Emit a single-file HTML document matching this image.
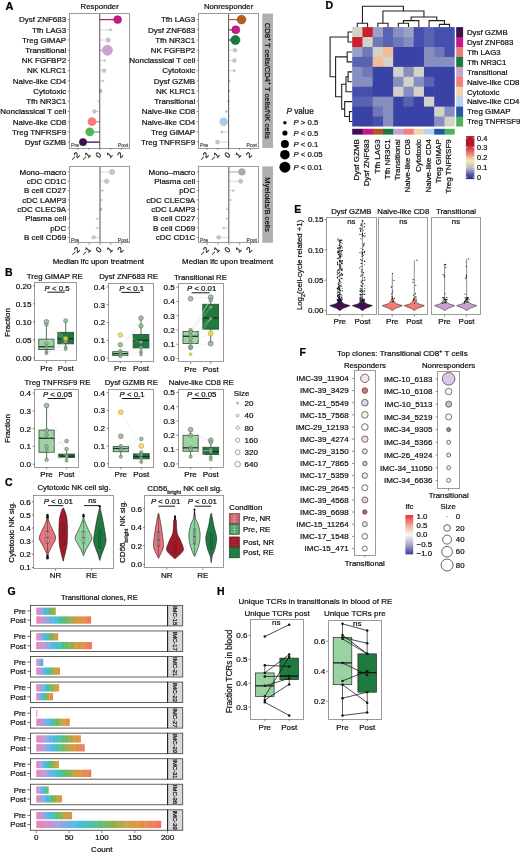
<!DOCTYPE html>
<html><head><meta charset="utf-8"><title>Figure</title>
<style>html,body{margin:0;padding:0;background:#fff;width:520px;height:852px;overflow:hidden}svg{display:block}text{stroke-width:0.22px}</style>
</head><body>
<svg width="520" height="852" viewBox="0 0 520 852" font-family="'Liberation Sans', Arial, Helvetica, sans-serif" fill="#111">
<text x="5.6" y="10.21" font-size="11" fill="#000" stroke="#000" font-weight="bold">A</text>
<rect x="69.5" y="13.5" width="60" height="135" fill="#fff" stroke="#9a9a9a" stroke-width="1"/>
<line x1="99.75" y1="19.6" x2="117.6" y2="19.6" stroke="#c0245e" stroke-width="1.3"/>
<circle cx="117.6" cy="19.6" r="3.9" fill="#cc168c" stroke="#7a0a52" stroke-width="0.5"/>
<line x1="99.75" y1="29.81" x2="110.5" y2="29.81" stroke="#cfcfcf" stroke-width="0.8"/>
<circle cx="110.5" cy="29.81" r="1.5" fill="#c4c4c4"/>
<line x1="99.75" y1="40.02" x2="108.2" y2="40.02" stroke="#cfcfcf" stroke-width="0.8"/>
<circle cx="108.2" cy="40.02" r="2.5" fill="#c4c4c4"/>
<line x1="99.75" y1="50.23" x2="107.4" y2="50.23" stroke="#cba3cf" stroke-width="1.3"/>
<circle cx="107.4" cy="50.23" r="5.4" fill="#cba3cf"/>
<line x1="99.75" y1="60.44" x2="104.7" y2="60.44" stroke="#cfcfcf" stroke-width="0.8"/>
<circle cx="104.7" cy="60.44" r="1.3" fill="#c4c4c4"/>
<line x1="99.75" y1="70.65" x2="104.1" y2="70.65" stroke="#cfcfcf" stroke-width="0.8"/>
<circle cx="104.1" cy="70.65" r="2.2" fill="#c4c4c4"/>
<line x1="99.75" y1="80.86" x2="103.1" y2="80.86" stroke="#cfcfcf" stroke-width="0.8"/>
<circle cx="103.1" cy="80.86" r="1.2" fill="#c4c4c4"/>
<line x1="99.75" y1="91.07" x2="100.6" y2="91.07" stroke="#cfcfcf" stroke-width="0.8"/>
<circle cx="100.6" cy="91.07" r="2" fill="#c4c4c4"/>
<line x1="99.75" y1="101.28" x2="98.2" y2="101.28" stroke="#cfcfcf" stroke-width="0.8"/>
<circle cx="98.2" cy="101.28" r="0.9" fill="#c4c4c4"/>
<line x1="99.75" y1="111.49" x2="94.5" y2="111.49" stroke="#c8cdd2" stroke-width="0.8"/>
<circle cx="94.5" cy="111.49" r="2.3" fill="#bcc4cc"/>
<line x1="99.75" y1="121.7" x2="92" y2="121.7" stroke="#f47f7f" stroke-width="1.3"/>
<circle cx="92" cy="121.7" r="4.4" fill="#f47f7f"/>
<line x1="99.75" y1="131.91" x2="89.8" y2="131.91" stroke="#4fb75c" stroke-width="1.3"/>
<circle cx="89.8" cy="131.91" r="4.4" fill="#4fb75c"/>
<line x1="99.75" y1="142.12" x2="83" y2="142.12" stroke="#3d0f55" stroke-width="1.3"/>
<circle cx="83" cy="142.12" r="3.7" fill="#3d0f55" stroke="#250635" stroke-width="0.5"/>
<line x1="99.75" y1="13.6" x2="99.75" y2="148" stroke="#444" stroke-width="0.9"/>
<rect x="69.5" y="13.5" width="60" height="135" fill="none" stroke="#9a9a9a" stroke-width="1"/>
<line x1="67.6" y1="19.6" x2="69.6" y2="19.6" stroke="#555" stroke-width="0.6"/>
<text x="66.2" y="22.44" font-size="8" text-anchor="end" stroke="#111">Dysf ZNF683</text>
<line x1="67.6" y1="29.81" x2="69.6" y2="29.81" stroke="#555" stroke-width="0.6"/>
<text x="66.2" y="32.65" font-size="8" text-anchor="end" stroke="#111">Tfh LAG3</text>
<line x1="67.6" y1="40.02" x2="69.6" y2="40.02" stroke="#555" stroke-width="0.6"/>
<text x="66.2" y="42.86" font-size="8" text-anchor="end" stroke="#111">Treg GIMAP</text>
<line x1="67.6" y1="50.23" x2="69.6" y2="50.23" stroke="#555" stroke-width="0.6"/>
<text x="66.2" y="53.07" font-size="8" text-anchor="end" stroke="#111">Transitional</text>
<line x1="67.6" y1="60.44" x2="69.6" y2="60.44" stroke="#555" stroke-width="0.6"/>
<text x="66.2" y="63.28" font-size="8" text-anchor="end" stroke="#111">NK FGFBP2</text>
<line x1="67.6" y1="70.65" x2="69.6" y2="70.65" stroke="#555" stroke-width="0.6"/>
<text x="66.2" y="73.49" font-size="8" text-anchor="end" stroke="#111">NK KLRC1</text>
<line x1="67.6" y1="80.86" x2="69.6" y2="80.86" stroke="#555" stroke-width="0.6"/>
<text x="66.2" y="83.7" font-size="8" text-anchor="end" stroke="#111">Naive-like CD4</text>
<line x1="67.6" y1="91.07" x2="69.6" y2="91.07" stroke="#555" stroke-width="0.6"/>
<text x="66.2" y="93.91" font-size="8" text-anchor="end" stroke="#111">Cytotoxic</text>
<line x1="67.6" y1="101.28" x2="69.6" y2="101.28" stroke="#555" stroke-width="0.6"/>
<text x="66.2" y="104.12" font-size="8" text-anchor="end" stroke="#111">Tfh NR3C1</text>
<line x1="67.6" y1="111.49" x2="69.6" y2="111.49" stroke="#555" stroke-width="0.6"/>
<text x="66.2" y="114.33" font-size="8" text-anchor="end" stroke="#111">Nonclassical T cell</text>
<line x1="67.6" y1="121.7" x2="69.6" y2="121.7" stroke="#555" stroke-width="0.6"/>
<text x="66.2" y="124.54" font-size="8" text-anchor="end" stroke="#111">Naive-like CD8</text>
<line x1="67.6" y1="131.91" x2="69.6" y2="131.91" stroke="#555" stroke-width="0.6"/>
<text x="66.2" y="134.75" font-size="8" text-anchor="end" stroke="#111">Treg TNFRSF9</text>
<line x1="67.6" y1="142.12" x2="69.6" y2="142.12" stroke="#555" stroke-width="0.6"/>
<text x="66.2" y="144.96" font-size="8" text-anchor="end" stroke="#111">Dysf GZMB</text>
<text x="71.1" y="146.85" font-size="5.2" fill="#555" stroke="#555">Pre</text>
<text x="128.2" y="146.85" font-size="5.2" text-anchor="end" fill="#555" stroke="#555">Post</text>
<line x1="78.05" y1="148" x2="78.05" y2="150" stroke="#555" stroke-width="0.6"/>
<text x="80.25" y="155.4" font-size="8" text-anchor="end" stroke="#111" transform="rotate(-45 80.25 155.4)">−2</text>
<line x1="88.9" y1="148" x2="88.9" y2="150" stroke="#555" stroke-width="0.6"/>
<text x="91.1" y="155.4" font-size="8" text-anchor="end" stroke="#111" transform="rotate(-45 91.1 155.4)">−1</text>
<line x1="99.75" y1="148" x2="99.75" y2="150" stroke="#555" stroke-width="0.6"/>
<text x="101.95" y="155.4" font-size="8" text-anchor="end" stroke="#111" transform="rotate(-45 101.95 155.4)">0</text>
<line x1="110.6" y1="148" x2="110.6" y2="150" stroke="#555" stroke-width="0.6"/>
<text x="112.8" y="155.4" font-size="8" text-anchor="end" stroke="#111" transform="rotate(-45 112.8 155.4)">1</text>
<line x1="121.45" y1="148" x2="121.45" y2="150" stroke="#555" stroke-width="0.6"/>
<text x="123.65" y="155.4" font-size="8" text-anchor="end" stroke="#111" transform="rotate(-45 123.65 155.4)">2</text>
<rect x="198.5" y="13.5" width="60" height="135" fill="#fff" stroke="#9a9a9a" stroke-width="1"/>
<line x1="228.6" y1="19.6" x2="241.5" y2="19.6" stroke="#b86a50" stroke-width="1.3"/>
<circle cx="241.5" cy="19.6" r="4.4" fill="#b95a1c" stroke="#7a3a10" stroke-width="0.5"/>
<line x1="228.6" y1="29.81" x2="235.8" y2="29.81" stroke="#c0306e" stroke-width="1.3"/>
<circle cx="235.8" cy="29.81" r="4" fill="#cc168c" stroke="#7a0a52" stroke-width="0.5"/>
<line x1="228.6" y1="40.02" x2="235.4" y2="40.02" stroke="#2a7c4c" stroke-width="1.3"/>
<circle cx="235.4" cy="40.02" r="4.55" fill="#167c3c" stroke="#0a4a20" stroke-width="0.5"/>
<line x1="228.6" y1="50.23" x2="235" y2="50.23" stroke="#cfcfcf" stroke-width="0.8"/>
<circle cx="235" cy="50.23" r="2.3" fill="#c4c4c4"/>
<line x1="228.6" y1="60.44" x2="234.4" y2="60.44" stroke="#cfcfcf" stroke-width="0.8"/>
<circle cx="234.4" cy="60.44" r="2.3" fill="#c4c4c4"/>
<line x1="228.6" y1="70.65" x2="234.2" y2="70.65" stroke="#cfcfcf" stroke-width="0.8"/>
<circle cx="234.2" cy="70.65" r="1.5" fill="#c4c4c4"/>
<line x1="228.6" y1="80.86" x2="229.2" y2="80.86" stroke="#cfcfcf" stroke-width="0.8"/>
<circle cx="229.2" cy="80.86" r="1.3" fill="#c4c4c4"/>
<line x1="228.6" y1="91.07" x2="229" y2="91.07" stroke="#cfcfcf" stroke-width="0.8"/>
<circle cx="229" cy="91.07" r="1.3" fill="#c4c4c4"/>
<circle cx="228.6" cy="101.28" r="1.2" fill="#c4c4c4"/>
<line x1="228.6" y1="111.49" x2="226.2" y2="111.49" stroke="#cfcfcf" stroke-width="0.8"/>
<circle cx="226.2" cy="111.49" r="1.3" fill="#c4c4c4"/>
<line x1="228.6" y1="121.7" x2="223.7" y2="121.7" stroke="#abcbea" stroke-width="1.3"/>
<circle cx="223.7" cy="121.7" r="4.2" fill="#abcbea"/>
<line x1="228.6" y1="131.91" x2="221.8" y2="131.91" stroke="#cfcfcf" stroke-width="0.8"/>
<circle cx="221.8" cy="131.91" r="1.4" fill="#c4c4c4"/>
<line x1="228.6" y1="142.12" x2="217.5" y2="142.12" stroke="#cfcfcf" stroke-width="0.8"/>
<circle cx="217.5" cy="142.12" r="2.3" fill="#c4c4c4"/>
<line x1="228.6" y1="13.6" x2="228.6" y2="148" stroke="#444" stroke-width="0.9"/>
<rect x="198.5" y="13.5" width="60" height="135" fill="none" stroke="#9a9a9a" stroke-width="1"/>
<line x1="196.6" y1="19.6" x2="198.6" y2="19.6" stroke="#555" stroke-width="0.6"/>
<text x="195.2" y="22.44" font-size="8" text-anchor="end" stroke="#111">Tfh LAG3</text>
<line x1="196.6" y1="29.81" x2="198.6" y2="29.81" stroke="#555" stroke-width="0.6"/>
<text x="195.2" y="32.65" font-size="8" text-anchor="end" stroke="#111">Dysf ZNF683</text>
<line x1="196.6" y1="40.02" x2="198.6" y2="40.02" stroke="#555" stroke-width="0.6"/>
<text x="195.2" y="42.86" font-size="8" text-anchor="end" stroke="#111">Tfh NR3C1</text>
<line x1="196.6" y1="50.23" x2="198.6" y2="50.23" stroke="#555" stroke-width="0.6"/>
<text x="195.2" y="53.07" font-size="8" text-anchor="end" stroke="#111">NK FGFBP2</text>
<line x1="196.6" y1="60.44" x2="198.6" y2="60.44" stroke="#555" stroke-width="0.6"/>
<text x="195.2" y="63.28" font-size="8" text-anchor="end" stroke="#111">Nonclassical T cell</text>
<line x1="196.6" y1="70.65" x2="198.6" y2="70.65" stroke="#555" stroke-width="0.6"/>
<text x="195.2" y="73.49" font-size="8" text-anchor="end" stroke="#111">Cytotoxic</text>
<line x1="196.6" y1="80.86" x2="198.6" y2="80.86" stroke="#555" stroke-width="0.6"/>
<text x="195.2" y="83.7" font-size="8" text-anchor="end" stroke="#111">Dysf GZMB</text>
<line x1="196.6" y1="91.07" x2="198.6" y2="91.07" stroke="#555" stroke-width="0.6"/>
<text x="195.2" y="93.91" font-size="8" text-anchor="end" stroke="#111">NK KLRC1</text>
<line x1="196.6" y1="101.28" x2="198.6" y2="101.28" stroke="#555" stroke-width="0.6"/>
<text x="195.2" y="104.12" font-size="8" text-anchor="end" stroke="#111">Transitional</text>
<line x1="196.6" y1="111.49" x2="198.6" y2="111.49" stroke="#555" stroke-width="0.6"/>
<text x="195.2" y="114.33" font-size="8" text-anchor="end" stroke="#111">Naive-like CD8</text>
<line x1="196.6" y1="121.7" x2="198.6" y2="121.7" stroke="#555" stroke-width="0.6"/>
<text x="195.2" y="124.54" font-size="8" text-anchor="end" stroke="#111">Naive-like CD4</text>
<line x1="196.6" y1="131.91" x2="198.6" y2="131.91" stroke="#555" stroke-width="0.6"/>
<text x="195.2" y="134.75" font-size="8" text-anchor="end" stroke="#111">Treg GIMAP</text>
<line x1="196.6" y1="142.12" x2="198.6" y2="142.12" stroke="#555" stroke-width="0.6"/>
<text x="195.2" y="144.96" font-size="8" text-anchor="end" stroke="#111">Treg TNFRSF9</text>
<text x="200.1" y="146.85" font-size="5.2" fill="#555" stroke="#555">Pre</text>
<text x="257" y="146.85" font-size="5.2" text-anchor="end" fill="#555" stroke="#555">Post</text>
<line x1="206.9" y1="148" x2="206.9" y2="150" stroke="#555" stroke-width="0.6"/>
<text x="209.1" y="155.4" font-size="8" text-anchor="end" stroke="#111" transform="rotate(-45 209.1 155.4)">−2</text>
<line x1="217.75" y1="148" x2="217.75" y2="150" stroke="#555" stroke-width="0.6"/>
<text x="219.95" y="155.4" font-size="8" text-anchor="end" stroke="#111" transform="rotate(-45 219.95 155.4)">−1</text>
<line x1="228.6" y1="148" x2="228.6" y2="150" stroke="#555" stroke-width="0.6"/>
<text x="230.8" y="155.4" font-size="8" text-anchor="end" stroke="#111" transform="rotate(-45 230.8 155.4)">0</text>
<line x1="239.45" y1="148" x2="239.45" y2="150" stroke="#555" stroke-width="0.6"/>
<text x="241.65" y="155.4" font-size="8" text-anchor="end" stroke="#111" transform="rotate(-45 241.65 155.4)">1</text>
<line x1="250.3" y1="148" x2="250.3" y2="150" stroke="#555" stroke-width="0.6"/>
<text x="252.5" y="155.4" font-size="8" text-anchor="end" stroke="#111" transform="rotate(-45 252.5 155.4)">2</text>
<rect x="69.5" y="166.5" width="60" height="76" fill="#fff" stroke="#9a9a9a" stroke-width="1"/>
<line x1="100" y1="171.9" x2="112.1" y2="171.9" stroke="#cfcfcf" stroke-width="0.8"/>
<circle cx="112.1" cy="171.9" r="2.9" fill="#c4c4c4"/>
<line x1="100" y1="181.25" x2="106.7" y2="181.25" stroke="#cfcfcf" stroke-width="0.8"/>
<circle cx="106.7" cy="181.25" r="2.5" fill="#c4c4c4"/>
<line x1="100" y1="190.6" x2="102.5" y2="190.6" stroke="#cfcfcf" stroke-width="0.8"/>
<circle cx="102.5" cy="190.6" r="1.2" fill="#c4c4c4"/>
<line x1="100" y1="199.95" x2="101.5" y2="199.95" stroke="#cfcfcf" stroke-width="0.8"/>
<circle cx="101.5" cy="199.95" r="1" fill="#c4c4c4"/>
<line x1="100" y1="209.3" x2="101" y2="209.3" stroke="#cfcfcf" stroke-width="0.8"/>
<circle cx="101" cy="209.3" r="1.6" fill="#c4c4c4"/>
<line x1="100" y1="218.65" x2="97.1" y2="218.65" stroke="#cfcfcf" stroke-width="0.8"/>
<circle cx="97.1" cy="218.65" r="1" fill="#c4c4c4"/>
<line x1="100" y1="228" x2="96.7" y2="228" stroke="#cfcfcf" stroke-width="0.8"/>
<circle cx="96.7" cy="228" r="1" fill="#c4c4c4"/>
<line x1="100" y1="237.35" x2="93.8" y2="237.35" stroke="#cfcfcf" stroke-width="0.8"/>
<circle cx="93.8" cy="237.35" r="2.2" fill="#c4c4c4"/>
<line x1="100" y1="166.4" x2="100" y2="242.8" stroke="#444" stroke-width="0.9"/>
<rect x="69.5" y="166.5" width="60" height="76" fill="none" stroke="#9a9a9a" stroke-width="1"/>
<line x1="67.6" y1="171.9" x2="69.6" y2="171.9" stroke="#555" stroke-width="0.6"/>
<text x="66.2" y="174.74" font-size="8" text-anchor="end" stroke="#111">Mono–macro</text>
<line x1="67.6" y1="181.25" x2="69.6" y2="181.25" stroke="#555" stroke-width="0.6"/>
<text x="66.2" y="184.09" font-size="8" text-anchor="end" stroke="#111">cDC CD1C</text>
<line x1="67.6" y1="190.6" x2="69.6" y2="190.6" stroke="#555" stroke-width="0.6"/>
<text x="66.2" y="193.44" font-size="8" text-anchor="end" stroke="#111">B cell CD27</text>
<line x1="67.6" y1="199.95" x2="69.6" y2="199.95" stroke="#555" stroke-width="0.6"/>
<text x="66.2" y="202.79" font-size="8" text-anchor="end" stroke="#111">cDC LAMP3</text>
<line x1="67.6" y1="209.3" x2="69.6" y2="209.3" stroke="#555" stroke-width="0.6"/>
<text x="66.2" y="212.14" font-size="8" text-anchor="end" stroke="#111">cDC CLEC9A</text>
<line x1="67.6" y1="218.65" x2="69.6" y2="218.65" stroke="#555" stroke-width="0.6"/>
<text x="66.2" y="221.49" font-size="8" text-anchor="end" stroke="#111">Plasma cell</text>
<line x1="67.6" y1="228" x2="69.6" y2="228" stroke="#555" stroke-width="0.6"/>
<text x="66.2" y="230.84" font-size="8" text-anchor="end" stroke="#111">pDC</text>
<line x1="67.6" y1="237.35" x2="69.6" y2="237.35" stroke="#555" stroke-width="0.6"/>
<text x="66.2" y="240.19" font-size="8" text-anchor="end" stroke="#111">B cell CD69</text>
<text x="71.1" y="241.65" font-size="5.2" fill="#555" stroke="#555">Pre</text>
<text x="128.2" y="241.65" font-size="5.2" text-anchor="end" fill="#555" stroke="#555">Post</text>
<line x1="78.3" y1="242.8" x2="78.3" y2="244.8" stroke="#555" stroke-width="0.6"/>
<text x="80.5" y="250.2" font-size="8" text-anchor="end" stroke="#111" transform="rotate(-45 80.5 250.2)">−2</text>
<line x1="89.15" y1="242.8" x2="89.15" y2="244.8" stroke="#555" stroke-width="0.6"/>
<text x="91.35" y="250.2" font-size="8" text-anchor="end" stroke="#111" transform="rotate(-45 91.35 250.2)">−1</text>
<line x1="100" y1="242.8" x2="100" y2="244.8" stroke="#555" stroke-width="0.6"/>
<text x="102.2" y="250.2" font-size="8" text-anchor="end" stroke="#111" transform="rotate(-45 102.2 250.2)">0</text>
<line x1="110.85" y1="242.8" x2="110.85" y2="244.8" stroke="#555" stroke-width="0.6"/>
<text x="113.05" y="250.2" font-size="8" text-anchor="end" stroke="#111" transform="rotate(-45 113.05 250.2)">1</text>
<line x1="121.7" y1="242.8" x2="121.7" y2="244.8" stroke="#555" stroke-width="0.6"/>
<text x="123.9" y="250.2" font-size="8" text-anchor="end" stroke="#111" transform="rotate(-45 123.9 250.2)">2</text>
<rect x="198.5" y="166.5" width="60" height="76" fill="#fff" stroke="#9a9a9a" stroke-width="1"/>
<line x1="228.8" y1="171.9" x2="242" y2="171.9" stroke="#bdbdbd" stroke-width="1.3"/>
<circle cx="242" cy="171.9" r="3.6" fill="#a9a9a9"/>
<line x1="228.8" y1="181.25" x2="240.7" y2="181.25" stroke="#cfcfcf" stroke-width="0.8"/>
<circle cx="240.7" cy="181.25" r="2.4" fill="#c4c4c4"/>
<line x1="228.8" y1="190.6" x2="233.2" y2="190.6" stroke="#cfcfcf" stroke-width="0.8"/>
<circle cx="233.2" cy="190.6" r="1.3" fill="#c4c4c4"/>
<line x1="228.8" y1="199.95" x2="230.7" y2="199.95" stroke="#cfcfcf" stroke-width="0.8"/>
<circle cx="230.7" cy="199.95" r="1" fill="#c4c4c4"/>
<line x1="228.8" y1="209.3" x2="226.7" y2="209.3" stroke="#cfcfcf" stroke-width="0.8"/>
<circle cx="226.7" cy="209.3" r="1" fill="#c4c4c4"/>
<line x1="228.8" y1="218.65" x2="226.4" y2="218.65" stroke="#cfcfcf" stroke-width="0.8"/>
<circle cx="226.4" cy="218.65" r="1" fill="#c4c4c4"/>
<line x1="228.8" y1="228" x2="223.8" y2="228" stroke="#cfcfcf" stroke-width="0.8"/>
<circle cx="223.8" cy="228" r="1.3" fill="#c4c4c4"/>
<line x1="228.8" y1="237.35" x2="218.6" y2="237.35" stroke="#cfcfcf" stroke-width="0.8"/>
<circle cx="218.6" cy="237.35" r="2.3" fill="#c4c4c4"/>
<line x1="228.8" y1="166.4" x2="228.8" y2="242.8" stroke="#444" stroke-width="0.9"/>
<rect x="198.5" y="166.5" width="60" height="76" fill="none" stroke="#9a9a9a" stroke-width="1"/>
<line x1="196.6" y1="171.9" x2="198.6" y2="171.9" stroke="#555" stroke-width="0.6"/>
<text x="195.2" y="174.74" font-size="8" text-anchor="end" stroke="#111">Mono–macro</text>
<line x1="196.6" y1="181.25" x2="198.6" y2="181.25" stroke="#555" stroke-width="0.6"/>
<text x="195.2" y="184.09" font-size="8" text-anchor="end" stroke="#111">Plasma cell</text>
<line x1="196.6" y1="190.6" x2="198.6" y2="190.6" stroke="#555" stroke-width="0.6"/>
<text x="195.2" y="193.44" font-size="8" text-anchor="end" stroke="#111">pDC</text>
<line x1="196.6" y1="199.95" x2="198.6" y2="199.95" stroke="#555" stroke-width="0.6"/>
<text x="195.2" y="202.79" font-size="8" text-anchor="end" stroke="#111">cDC CLEC9A</text>
<line x1="196.6" y1="209.3" x2="198.6" y2="209.3" stroke="#555" stroke-width="0.6"/>
<text x="195.2" y="212.14" font-size="8" text-anchor="end" stroke="#111">cDC LAMP3</text>
<line x1="196.6" y1="218.65" x2="198.6" y2="218.65" stroke="#555" stroke-width="0.6"/>
<text x="195.2" y="221.49" font-size="8" text-anchor="end" stroke="#111">B cell CD27</text>
<line x1="196.6" y1="228" x2="198.6" y2="228" stroke="#555" stroke-width="0.6"/>
<text x="195.2" y="230.84" font-size="8" text-anchor="end" stroke="#111">B cell CD69</text>
<line x1="196.6" y1="237.35" x2="198.6" y2="237.35" stroke="#555" stroke-width="0.6"/>
<text x="195.2" y="240.19" font-size="8" text-anchor="end" stroke="#111">cDC CD1C</text>
<text x="200.1" y="241.65" font-size="5.2" fill="#555" stroke="#555">Pre</text>
<text x="257" y="241.65" font-size="5.2" text-anchor="end" fill="#555" stroke="#555">Post</text>
<line x1="207.1" y1="242.8" x2="207.1" y2="244.8" stroke="#555" stroke-width="0.6"/>
<text x="209.3" y="250.2" font-size="8" text-anchor="end" stroke="#111" transform="rotate(-45 209.3 250.2)">−2</text>
<line x1="217.95" y1="242.8" x2="217.95" y2="244.8" stroke="#555" stroke-width="0.6"/>
<text x="220.15" y="250.2" font-size="8" text-anchor="end" stroke="#111" transform="rotate(-45 220.15 250.2)">−1</text>
<line x1="228.8" y1="242.8" x2="228.8" y2="244.8" stroke="#555" stroke-width="0.6"/>
<text x="231" y="250.2" font-size="8" text-anchor="end" stroke="#111" transform="rotate(-45 231 250.2)">0</text>
<line x1="239.65" y1="242.8" x2="239.65" y2="244.8" stroke="#555" stroke-width="0.6"/>
<text x="241.85" y="250.2" font-size="8" text-anchor="end" stroke="#111" transform="rotate(-45 241.85 250.2)">1</text>
<line x1="250.5" y1="242.8" x2="250.5" y2="244.8" stroke="#555" stroke-width="0.6"/>
<text x="252.7" y="250.2" font-size="8" text-anchor="end" stroke="#111" transform="rotate(-45 252.7 250.2)">2</text>
<text x="99.7" y="8.97" font-size="7.8" text-anchor="middle" stroke="#111">Responder</text>
<text x="228.6" y="8.97" font-size="7.8" text-anchor="middle" stroke="#111">Nonresponder</text>
<text x="98.4" y="264.2" font-size="7.9" text-anchor="middle" stroke="#111">Median lfc upon treatment</text>
<text x="227.7" y="264.4" font-size="7.9" text-anchor="middle" stroke="#111">Median lfc upon treatment</text>
<rect x="262.3" y="13.6" width="10.7" height="134.4" fill="#b0b0b0"/>
<text x="267.65" y="83.5" font-size="7.6" text-anchor="middle" stroke="#111" transform="rotate(90 267.65 80.8)">CD8<tspan baseline-shift="super" font-size="5">+</tspan> T cells/CD4<tspan baseline-shift="super" font-size="5">+</tspan> T cells/NK cells</text>
<rect x="262.3" y="166.4" width="10.7" height="76.4" fill="#b0b0b0"/>
<text x="267.65" y="207.3" font-size="7.6" text-anchor="middle" stroke="#111" transform="rotate(90 267.65 204.6)">Myeloids/B cells</text>
<text x="286.4" y="113.91" font-size="8.2" stroke="#111"><tspan font-style="italic">P</tspan> value</text>
<circle cx="284.9" cy="122.7" r="1.7" fill="#000"/>
<text x="293.6" y="125.43" font-size="7.7" stroke="#111"><tspan font-style="italic">P</tspan> &gt; 0.5</text>
<circle cx="284.9" cy="133" r="2.6" fill="#000"/>
<text x="293.6" y="135.73" font-size="7.7" stroke="#111"><tspan font-style="italic">P</tspan> &lt; 0.5</text>
<circle cx="284.9" cy="143.9" r="4" fill="#000"/>
<text x="293.6" y="146.63" font-size="7.7" stroke="#111"><tspan font-style="italic">P</tspan> &lt; 0.1</text>
<circle cx="284.9" cy="154.7" r="4.8" fill="#000"/>
<text x="293.6" y="157.43" font-size="7.7" stroke="#111"><tspan font-style="italic">P</tspan> &lt; 0.05</text>
<circle cx="284.9" cy="167.2" r="5.5" fill="#000"/>
<text x="293.6" y="169.93" font-size="7.7" stroke="#111"><tspan font-style="italic">P</tspan> &lt; 0.01</text>
<text x="325.5" y="9.23" font-size="10.5" fill="#000" stroke="#000" font-weight="bold">D</text>
<rect x="352.2" y="27.1" width="10.85" height="10.54" fill="#d2d2c8"/>
<rect x="362.45" y="27.1" width="10.85" height="10.54" fill="#cd1f2b"/>
<rect x="372.7" y="27.1" width="10.85" height="10.54" fill="#9ba1c6"/>
<rect x="382.95" y="27.1" width="10.85" height="10.54" fill="#5a62b2"/>
<rect x="393.2" y="27.1" width="10.85" height="10.54" fill="#878ec0"/>
<rect x="403.45" y="27.1" width="10.85" height="10.54" fill="#9ba1c6"/>
<rect x="413.7" y="27.1" width="10.85" height="10.54" fill="#464eae"/>
<rect x="423.95" y="27.1" width="10.85" height="10.54" fill="#5a62b2"/>
<rect x="434.2" y="27.1" width="10.85" height="10.54" fill="#464eae"/>
<rect x="444.45" y="27.1" width="10.25" height="10.54" fill="#464eae"/>
<rect x="352.2" y="37.04" width="10.85" height="10.54" fill="#cd1f2b"/>
<rect x="362.45" y="37.04" width="10.85" height="10.54" fill="#d2d2c8"/>
<rect x="372.7" y="37.04" width="10.85" height="10.54" fill="#7178ba"/>
<rect x="382.95" y="37.04" width="10.85" height="10.54" fill="#5a62b2"/>
<rect x="393.2" y="37.04" width="10.85" height="10.54" fill="#7178ba"/>
<rect x="403.45" y="37.04" width="10.85" height="10.54" fill="#878ec0"/>
<rect x="413.7" y="37.04" width="10.85" height="10.54" fill="#464eae"/>
<rect x="423.95" y="37.04" width="10.85" height="10.54" fill="#5a62b2"/>
<rect x="434.2" y="37.04" width="10.85" height="10.54" fill="#464eae"/>
<rect x="444.45" y="37.04" width="10.25" height="10.54" fill="#464eae"/>
<rect x="352.2" y="46.98" width="10.85" height="10.54" fill="#9ba1c6"/>
<rect x="362.45" y="46.98" width="10.85" height="10.54" fill="#7178ba"/>
<rect x="372.7" y="46.98" width="10.85" height="10.54" fill="#d2d2c8"/>
<rect x="382.95" y="46.98" width="10.85" height="10.54" fill="#f2bd95"/>
<rect x="393.2" y="46.98" width="10.85" height="10.54" fill="#3a42a6"/>
<rect x="403.45" y="46.98" width="10.85" height="10.54" fill="#3a42a6"/>
<rect x="413.7" y="46.98" width="10.85" height="10.54" fill="#3a42a6"/>
<rect x="423.95" y="46.98" width="10.85" height="10.54" fill="#878ec0"/>
<rect x="434.2" y="46.98" width="10.85" height="10.54" fill="#7178ba"/>
<rect x="444.45" y="46.98" width="10.25" height="10.54" fill="#464eae"/>
<rect x="352.2" y="56.92" width="10.85" height="10.54" fill="#5a62b2"/>
<rect x="362.45" y="56.92" width="10.85" height="10.54" fill="#5a62b2"/>
<rect x="372.7" y="56.92" width="10.85" height="10.54" fill="#f2bd95"/>
<rect x="382.95" y="56.92" width="10.85" height="10.54" fill="#d2d2c8"/>
<rect x="393.2" y="56.92" width="10.85" height="10.54" fill="#3a42a6"/>
<rect x="403.45" y="56.92" width="10.85" height="10.54" fill="#3a42a6"/>
<rect x="413.7" y="56.92" width="10.85" height="10.54" fill="#3a42a6"/>
<rect x="423.95" y="56.92" width="10.85" height="10.54" fill="#878ec0"/>
<rect x="434.2" y="56.92" width="10.85" height="10.54" fill="#878ec0"/>
<rect x="444.45" y="56.92" width="10.25" height="10.54" fill="#878ec0"/>
<rect x="352.2" y="66.86" width="10.85" height="10.54" fill="#878ec0"/>
<rect x="362.45" y="66.86" width="10.85" height="10.54" fill="#7178ba"/>
<rect x="372.7" y="66.86" width="10.85" height="10.54" fill="#3a42a6"/>
<rect x="382.95" y="66.86" width="10.85" height="10.54" fill="#3a42a6"/>
<rect x="393.2" y="66.86" width="10.85" height="10.54" fill="#d2d2c8"/>
<rect x="403.45" y="66.86" width="10.85" height="10.54" fill="#878ec0"/>
<rect x="413.7" y="66.86" width="10.85" height="10.54" fill="#d2d2c8"/>
<rect x="423.95" y="66.86" width="10.85" height="10.54" fill="#3a42a6"/>
<rect x="434.2" y="66.86" width="10.85" height="10.54" fill="#3a42a6"/>
<rect x="444.45" y="66.86" width="10.25" height="10.54" fill="#3a42a6"/>
<rect x="352.2" y="76.8" width="10.85" height="10.54" fill="#878ec0"/>
<rect x="362.45" y="76.8" width="10.85" height="10.54" fill="#878ec0"/>
<rect x="372.7" y="76.8" width="10.85" height="10.54" fill="#3a42a6"/>
<rect x="382.95" y="76.8" width="10.85" height="10.54" fill="#3a42a6"/>
<rect x="393.2" y="76.8" width="10.85" height="10.54" fill="#878ec0"/>
<rect x="403.45" y="76.8" width="10.85" height="10.54" fill="#d2d2c8"/>
<rect x="413.7" y="76.8" width="10.85" height="10.54" fill="#878ec0"/>
<rect x="423.95" y="76.8" width="10.85" height="10.54" fill="#5a62b2"/>
<rect x="434.2" y="76.8" width="10.85" height="10.54" fill="#3a42a6"/>
<rect x="444.45" y="76.8" width="10.25" height="10.54" fill="#3a42a6"/>
<rect x="352.2" y="86.74" width="10.85" height="10.54" fill="#464eae"/>
<rect x="362.45" y="86.74" width="10.85" height="10.54" fill="#464eae"/>
<rect x="372.7" y="86.74" width="10.85" height="10.54" fill="#3a42a6"/>
<rect x="382.95" y="86.74" width="10.85" height="10.54" fill="#3a42a6"/>
<rect x="393.2" y="86.74" width="10.85" height="10.54" fill="#d2d2c8"/>
<rect x="403.45" y="86.74" width="10.85" height="10.54" fill="#878ec0"/>
<rect x="413.7" y="86.74" width="10.85" height="10.54" fill="#d2d2c8"/>
<rect x="423.95" y="86.74" width="10.85" height="10.54" fill="#3a42a6"/>
<rect x="434.2" y="86.74" width="10.85" height="10.54" fill="#3a42a6"/>
<rect x="444.45" y="86.74" width="10.25" height="10.54" fill="#3a42a6"/>
<rect x="352.2" y="96.68" width="10.85" height="10.54" fill="#5a62b2"/>
<rect x="362.45" y="96.68" width="10.85" height="10.54" fill="#5a62b2"/>
<rect x="372.7" y="96.68" width="10.85" height="10.54" fill="#878ec0"/>
<rect x="382.95" y="96.68" width="10.85" height="10.54" fill="#878ec0"/>
<rect x="393.2" y="96.68" width="10.85" height="10.54" fill="#3a42a6"/>
<rect x="403.45" y="96.68" width="10.85" height="10.54" fill="#5a62b2"/>
<rect x="413.7" y="96.68" width="10.85" height="10.54" fill="#3a42a6"/>
<rect x="423.95" y="96.68" width="10.85" height="10.54" fill="#d2d2c8"/>
<rect x="434.2" y="96.68" width="10.85" height="10.54" fill="#3a42a6"/>
<rect x="444.45" y="96.68" width="10.25" height="10.54" fill="#3a42a6"/>
<rect x="352.2" y="106.62" width="10.85" height="10.54" fill="#3a42a6"/>
<rect x="362.45" y="106.62" width="10.85" height="10.54" fill="#3a42a6"/>
<rect x="372.7" y="106.62" width="10.85" height="10.54" fill="#7178ba"/>
<rect x="382.95" y="106.62" width="10.85" height="10.54" fill="#878ec0"/>
<rect x="393.2" y="106.62" width="10.85" height="10.54" fill="#3a42a6"/>
<rect x="403.45" y="106.62" width="10.85" height="10.54" fill="#3a42a6"/>
<rect x="413.7" y="106.62" width="10.85" height="10.54" fill="#3a42a6"/>
<rect x="423.95" y="106.62" width="10.85" height="10.54" fill="#3a42a6"/>
<rect x="434.2" y="106.62" width="10.85" height="10.54" fill="#d2d2c8"/>
<rect x="444.45" y="106.62" width="10.25" height="10.54" fill="#878ec0"/>
<rect x="352.2" y="116.56" width="10.85" height="9.94" fill="#3a42a6"/>
<rect x="362.45" y="116.56" width="10.85" height="9.94" fill="#3a42a6"/>
<rect x="372.7" y="116.56" width="10.85" height="9.94" fill="#464eae"/>
<rect x="382.95" y="116.56" width="10.85" height="9.94" fill="#878ec0"/>
<rect x="393.2" y="116.56" width="10.85" height="9.94" fill="#3a42a6"/>
<rect x="403.45" y="116.56" width="10.85" height="9.94" fill="#3a42a6"/>
<rect x="413.7" y="116.56" width="10.85" height="9.94" fill="#3a42a6"/>
<rect x="423.95" y="116.56" width="10.85" height="9.94" fill="#3a42a6"/>
<rect x="434.2" y="116.56" width="10.85" height="9.94" fill="#878ec0"/>
<rect x="444.45" y="116.56" width="10.25" height="9.94" fill="#d2d2c8"/>
<rect x="456.2" y="27.1" width="6.9" height="10.54" fill="#3f1150"/>
<text x="466.9" y="34.87" font-size="7.9" stroke="#111">Dysf GZMB</text>
<rect x="352.2" y="128.8" width="10.85" height="5.8" fill="#3f1150"/>
<text x="356.32" y="142.04" font-size="8" text-anchor="end" stroke="#111" transform="rotate(-90 356.32 139.2)">Dysf GZMB</text>
<rect x="456.2" y="37.04" width="6.9" height="10.54" fill="#c8178a"/>
<text x="466.9" y="44.81" font-size="7.9" stroke="#111">Dysf ZNF683</text>
<rect x="362.45" y="128.8" width="10.85" height="5.8" fill="#c8178a"/>
<text x="366.57" y="142.04" font-size="8" text-anchor="end" stroke="#111" transform="rotate(-90 366.57 139.2)">Dysf ZNF683</text>
<rect x="456.2" y="46.98" width="6.9" height="10.54" fill="#e58079"/>
<text x="466.9" y="54.75" font-size="7.9" stroke="#111">Tfh LAG3</text>
<rect x="372.7" y="128.8" width="10.85" height="5.8" fill="#b5561f"/>
<text x="376.82" y="142.04" font-size="8" text-anchor="end" stroke="#111" transform="rotate(-90 376.82 139.2)">Tfh LAG3</text>
<rect x="456.2" y="56.92" width="6.9" height="10.54" fill="#187a3e"/>
<text x="466.9" y="64.69" font-size="7.9" stroke="#111">Tfh NR3C1</text>
<rect x="382.95" y="128.8" width="10.85" height="5.8" fill="#187a3e"/>
<text x="387.07" y="142.04" font-size="8" text-anchor="end" stroke="#111" transform="rotate(-90 387.07 139.2)">Tfh NR3C1</text>
<rect x="456.2" y="66.86" width="6.9" height="10.54" fill="#c9a3cf"/>
<text x="466.9" y="74.63" font-size="7.9" stroke="#111">Transitional</text>
<rect x="393.2" y="128.8" width="10.85" height="5.8" fill="#c9a3cf"/>
<text x="397.32" y="142.04" font-size="8" text-anchor="end" stroke="#111" transform="rotate(-90 397.32 139.2)">Transitional</text>
<rect x="456.2" y="76.8" width="6.9" height="10.54" fill="#f47e7b"/>
<text x="466.9" y="84.57" font-size="7.9" stroke="#111">Naive-like CD8</text>
<rect x="403.45" y="128.8" width="10.85" height="5.8" fill="#f47e7b"/>
<text x="407.57" y="142.04" font-size="8" text-anchor="end" stroke="#111" transform="rotate(-90 407.57 139.2)">Naive-like CD8</text>
<rect x="456.2" y="86.74" width="6.9" height="10.54" fill="#f1d2a9"/>
<text x="466.9" y="94.51" font-size="7.9" stroke="#111">Cytotoxic</text>
<rect x="413.7" y="128.8" width="10.85" height="5.8" fill="#f1d2a9"/>
<text x="417.82" y="142.04" font-size="8" text-anchor="end" stroke="#111" transform="rotate(-90 417.82 139.2)">Cytotoxic</text>
<rect x="456.2" y="96.68" width="6.9" height="10.54" fill="#b8d3ef"/>
<text x="466.9" y="104.45" font-size="7.9" stroke="#111">Naive-like CD4</text>
<rect x="423.95" y="128.8" width="10.85" height="5.8" fill="#b8d3ef"/>
<text x="428.07" y="142.04" font-size="8" text-anchor="end" stroke="#111" transform="rotate(-90 428.07 139.2)">Naive-like CD4</text>
<rect x="456.2" y="106.62" width="6.9" height="10.54" fill="#2356a8"/>
<text x="466.9" y="114.39" font-size="7.9" stroke="#111">Treg GIMAP</text>
<rect x="434.2" y="128.8" width="10.85" height="5.8" fill="#2356a8"/>
<text x="438.32" y="142.04" font-size="8" text-anchor="end" stroke="#111" transform="rotate(-90 438.32 139.2)">Treg GIMAP</text>
<rect x="456.2" y="116.56" width="6.9" height="9.94" fill="#4cb35c"/>
<text x="466.9" y="124.33" font-size="7.9" stroke="#111">Treg TNFRSF9</text>
<rect x="444.45" y="128.8" width="10.25" height="5.8" fill="#4cb35c"/>
<text x="448.57" y="142.04" font-size="8" text-anchor="end" stroke="#111" transform="rotate(-90 448.57 139.2)">Treg TNFRSF9</text>
<path d="M357.32 27.1 L357.32 23.3 L367.57 23.3 L367.57 27.1" fill="none" stroke="#222" stroke-width="1.1"/>
<path d="M377.82 27.1 L377.82 23.3 L388.07 23.3 L388.07 27.1" fill="none" stroke="#222" stroke-width="1.1"/>
<path d="M398.32 27.1 L398.32 23.3 L408.57 23.3 L408.57 27.1" fill="none" stroke="#222" stroke-width="1.1"/>
<path d="M439.32 27.1 L439.32 24.4 L449.57 24.4 L449.57 27.1" fill="none" stroke="#222" stroke-width="1.1"/>
<path d="M403.45 23.3 L403.45 20.6 L418.82 20.6 L418.82 27.1" fill="none" stroke="#222" stroke-width="1.1"/>
<path d="M429.07 27.1 L429.07 20.6 L444.45 20.6 L444.45 24.4" fill="none" stroke="#222" stroke-width="1.1"/>
<path d="M411.14 20.6 L411.14 17 L436.76 17 L436.76 20.6" fill="none" stroke="#222" stroke-width="1.1"/>
<path d="M382.95 23.3 L382.95 11 L423.95 11 L423.95 17" fill="none" stroke="#222" stroke-width="1.1"/>
<path d="M362.45 23.3 L362.45 6.2 L403.45 6.2 L403.45 11" fill="none" stroke="#222" stroke-width="1.1"/>
<path d="M352.2 32.07 L348.1 32.07 L348.1 42.01 L352.2 42.01" fill="none" stroke="#222" stroke-width="1.1"/>
<path d="M352.2 51.95 L347.2 51.95 L347.2 61.89 L352.2 61.89" fill="none" stroke="#222" stroke-width="1.1"/>
<path d="M352.2 71.83 L348.1 71.83 L348.1 81.77 L352.2 81.77" fill="none" stroke="#222" stroke-width="1.1"/>
<path d="M352.2 111.59 L349.5 111.59 L349.5 121.53 L352.2 121.53" fill="none" stroke="#222" stroke-width="1.1"/>
<path d="M348.1 76.8 L346 76.8 L346 91.71 L352.2 91.71" fill="none" stroke="#222" stroke-width="1.1"/>
<path d="M352.2 101.65 L344.7 101.65 L344.7 116.56 L349.5 116.56" fill="none" stroke="#222" stroke-width="1.1"/>
<path d="M346 84.25 L341.7 84.25 L341.7 109.11 L344.7 109.11" fill="none" stroke="#222" stroke-width="1.1"/>
<path d="M347.2 56.92 L335.6 56.92 L335.6 96.68 L341.7 96.68" fill="none" stroke="#222" stroke-width="1.1"/>
<path d="M348.1 37.04 L330.1 37.04 L330.1 76.8 L335.6 76.8" fill="none" stroke="#222" stroke-width="1.1"/>
<defs><linearGradient id="hmg" x1="0" y1="0" x2="0" y2="1"><stop offset="0" stop-color="#b0142c"/><stop offset="0.2" stop-color="#b8182e"/><stop offset="0.4" stop-color="#e8806a"/><stop offset="0.58" stop-color="#f2eeb8"/><stop offset="0.78" stop-color="#a4a8bc"/><stop offset="0.88" stop-color="#5a62b0"/><stop offset="1" stop-color="#1e228a"/></linearGradient></defs>
<rect x="465.9" y="136.1" width="8.5" height="43" fill="url(#hmg)"/>
<line x1="465.9" y1="137.9" x2="467.6" y2="137.9" stroke="#fff" stroke-width="0.7"/>
<line x1="472.7" y1="137.9" x2="474.4" y2="137.9" stroke="#fff" stroke-width="0.7"/>
<text x="477.1" y="140.53" font-size="7.4" stroke="#111">0.4</text>
<line x1="465.9" y1="147.6" x2="467.6" y2="147.6" stroke="#fff" stroke-width="0.7"/>
<line x1="472.7" y1="147.6" x2="474.4" y2="147.6" stroke="#fff" stroke-width="0.7"/>
<text x="477.1" y="150.23" font-size="7.4" stroke="#111">0.3</text>
<line x1="465.9" y1="157.4" x2="467.6" y2="157.4" stroke="#fff" stroke-width="0.7"/>
<line x1="472.7" y1="157.4" x2="474.4" y2="157.4" stroke="#fff" stroke-width="0.7"/>
<text x="477.1" y="160.03" font-size="7.4" stroke="#111">0.2</text>
<line x1="465.9" y1="167.3" x2="467.6" y2="167.3" stroke="#fff" stroke-width="0.7"/>
<line x1="472.7" y1="167.3" x2="474.4" y2="167.3" stroke="#fff" stroke-width="0.7"/>
<text x="477.1" y="169.93" font-size="7.4" stroke="#111">0.1</text>
<line x1="465.9" y1="177.2" x2="467.6" y2="177.2" stroke="#fff" stroke-width="0.7"/>
<line x1="472.7" y1="177.2" x2="474.4" y2="177.2" stroke="#fff" stroke-width="0.7"/>
<text x="477.1" y="179.83" font-size="7.4" stroke="#111">0</text>
<text x="5" y="275.93" font-size="10.5" fill="#000" stroke="#000" font-weight="bold">B</text>
<rect x="34.5" y="282.5" width="42" height="78" fill="#fff" stroke="#9a9a9a" stroke-width="1"/>
<line x1="33" y1="357.9" x2="35" y2="357.9" stroke="#444" stroke-width="0.6"/>
<text x="31.4" y="360.78" font-size="8.1" text-anchor="end" stroke="#111">0.00</text>
<line x1="33" y1="339.88" x2="35" y2="339.88" stroke="#444" stroke-width="0.6"/>
<text x="31.4" y="342.75" font-size="8.1" text-anchor="end" stroke="#111">0.05</text>
<line x1="33" y1="321.85" x2="35" y2="321.85" stroke="#444" stroke-width="0.6"/>
<text x="31.4" y="324.73" font-size="8.1" text-anchor="end" stroke="#111">0.10</text>
<line x1="33" y1="303.82" x2="35" y2="303.82" stroke="#444" stroke-width="0.6"/>
<text x="31.4" y="306.7" font-size="8.1" text-anchor="end" stroke="#111">0.15</text>
<line x1="33" y1="285.8" x2="35" y2="285.8" stroke="#444" stroke-width="0.6"/>
<text x="31.4" y="288.68" font-size="8.1" text-anchor="end" stroke="#111">0.20</text>
<text x="54.8" y="279.17" font-size="7.8" text-anchor="middle" stroke="#111">Treg GIMAP RE</text>
<text x="57.05" y="290.57" font-size="7.8" text-anchor="middle" stroke="#111"><tspan font-style="italic">P</tspan> &lt; 0.5</text>
<line x1="47.4" y1="292.2" x2="64.7" y2="292.2" stroke="#000" stroke-width="0.9"/>
<line x1="46.4" y1="321.85" x2="46.4" y2="339.15" stroke="#2b4a32" stroke-width="0.8"/>
<line x1="46.4" y1="349.61" x2="46.4" y2="353.57" stroke="#2b4a32" stroke-width="0.8"/>
<rect x="38.8" y="339.15" width="15.2" height="10.45" fill="#9dd3a3" stroke="#2b4a32" stroke-width="0.8"/>
<line x1="38.8" y1="346.72" x2="54" y2="346.72" stroke="#163020" stroke-width="1.3"/>
<line x1="65.7" y1="320.77" x2="65.7" y2="332.3" stroke="#2b4a32" stroke-width="0.8"/>
<line x1="65.7" y1="343.84" x2="65.7" y2="349.61" stroke="#2b4a32" stroke-width="0.8"/>
<rect x="57.8" y="332.3" width="15.8" height="11.54" fill="#1e7a3d" stroke="#2b4a32" stroke-width="0.8"/>
<line x1="57.8" y1="338.79" x2="73.6" y2="338.79" stroke="#163020" stroke-width="1.3"/>
<line x1="46.4" y1="321.85" x2="65.7" y2="338.79" stroke="#dedede" stroke-width="0.5" stroke-opacity="0.85"/>
<line x1="46.4" y1="324.73" x2="65.7" y2="341.68" stroke="#dedede" stroke-width="0.5" stroke-opacity="0.85"/>
<line x1="46.4" y1="343.48" x2="65.7" y2="320.77" stroke="#dedede" stroke-width="0.5" stroke-opacity="0.85"/>
<line x1="46.4" y1="347.08" x2="65.7" y2="347.08" stroke="#dedede" stroke-width="0.5" stroke-opacity="0.85"/>
<line x1="46.4" y1="351.77" x2="65.7" y2="349.25" stroke="#dedede" stroke-width="0.5" stroke-opacity="0.85"/>
<line x1="46.4" y1="353.57" x2="65.7" y2="341.68" stroke="#dedede" stroke-width="0.5" stroke-opacity="0.85"/>
<circle cx="46.4" cy="321.85" r="2.4" fill="#9ab79c" stroke="#5b735d" stroke-width="0.6" fill-opacity="0.85"/>
<circle cx="46.4" cy="324.73" r="1.6" fill="#9ab79c" stroke="#5b735d" stroke-width="0.6" fill-opacity="0.85"/>
<circle cx="46.4" cy="343.48" r="1.8" fill="#9ab79c" stroke="#5b735d" stroke-width="0.6" fill-opacity="0.85"/>
<circle cx="46.4" cy="347.08" r="1.5" fill="#9ab79c" stroke="#5b735d" stroke-width="0.6" fill-opacity="0.85"/>
<circle cx="46.4" cy="351.77" r="1.5" fill="#9ab79c" stroke="#5b735d" stroke-width="0.6" fill-opacity="0.85"/>
<circle cx="46.4" cy="353.57" r="1.3" fill="#9ab79c" stroke="#5b735d" stroke-width="0.6" fill-opacity="0.85"/>
<circle cx="65.7" cy="320.77" r="2.1" fill="#9ab79c" stroke="#5b735d" stroke-width="0.6" fill-opacity="0.85"/>
<circle cx="65.7" cy="338.79" r="2.3" fill="#f0dc55" stroke="#b59a2a" stroke-width="0.6" fill-opacity="0.85"/>
<circle cx="65.7" cy="341.68" r="1.6" fill="#9ab79c" stroke="#5b735d" stroke-width="0.6" fill-opacity="0.85"/>
<circle cx="65.7" cy="347.08" r="1.4" fill="#9ab79c" stroke="#5b735d" stroke-width="0.6" fill-opacity="0.85"/>
<circle cx="65.7" cy="349.25" r="1.4" fill="#9ab79c" stroke="#5b735d" stroke-width="0.6" fill-opacity="0.85"/>
<line x1="46.4" y1="361" x2="46.4" y2="363" stroke="#444" stroke-width="0.6"/>
<line x1="65.7" y1="361" x2="65.7" y2="363" stroke="#444" stroke-width="0.6"/>
<text x="46.4" y="371.04" font-size="8" text-anchor="middle" stroke="#111">Pre</text>
<text x="65.7" y="371.04" font-size="8" text-anchor="middle" stroke="#111">Post</text>
<rect x="108.5" y="283.5" width="45" height="78" fill="#fff" stroke="#9a9a9a" stroke-width="1"/>
<line x1="106.5" y1="358.1" x2="108.5" y2="358.1" stroke="#444" stroke-width="0.6"/>
<text x="104.9" y="360.98" font-size="8.1" text-anchor="end" stroke="#111">0.0</text>
<line x1="106.5" y1="340.3" x2="108.5" y2="340.3" stroke="#444" stroke-width="0.6"/>
<text x="104.9" y="343.18" font-size="8.1" text-anchor="end" stroke="#111">0.1</text>
<line x1="106.5" y1="322.5" x2="108.5" y2="322.5" stroke="#444" stroke-width="0.6"/>
<text x="104.9" y="325.38" font-size="8.1" text-anchor="end" stroke="#111">0.2</text>
<line x1="106.5" y1="304.7" x2="108.5" y2="304.7" stroke="#444" stroke-width="0.6"/>
<text x="104.9" y="307.58" font-size="8.1" text-anchor="end" stroke="#111">0.3</text>
<line x1="106.5" y1="286.9" x2="108.5" y2="286.9" stroke="#444" stroke-width="0.6"/>
<text x="104.9" y="289.78" font-size="8.1" text-anchor="end" stroke="#111">0.4</text>
<text x="128.6" y="279.37" font-size="7.8" text-anchor="middle" stroke="#111">Dysf ZNF683 RE</text>
<text x="131.65" y="290.77" font-size="7.8" text-anchor="middle" stroke="#111"><tspan font-style="italic">P</tspan> &lt; 0.1</text>
<line x1="121.3" y1="292.4" x2="140" y2="292.4" stroke="#000" stroke-width="0.9"/>
<line x1="120.3" y1="349.2" x2="120.3" y2="351.69" stroke="#2b4a32" stroke-width="0.8"/>
<line x1="120.3" y1="355.61" x2="120.3" y2="357.21" stroke="#2b4a32" stroke-width="0.8"/>
<rect x="112.7" y="351.69" width="15.2" height="3.92" fill="#9dd3a3" stroke="#2b4a32" stroke-width="0.8"/>
<line x1="112.7" y1="353.65" x2="127.9" y2="353.65" stroke="#163020" stroke-width="1.3"/>
<line x1="141" y1="317.16" x2="141" y2="334.43" stroke="#2b4a32" stroke-width="0.8"/>
<line x1="141" y1="347.95" x2="141" y2="354.54" stroke="#2b4a32" stroke-width="0.8"/>
<rect x="133.1" y="334.43" width="15.8" height="13.53" fill="#1e7a3d" stroke="#2b4a32" stroke-width="0.8"/>
<line x1="133.1" y1="340.3" x2="148.9" y2="340.3" stroke="#163020" stroke-width="1.3"/>
<line x1="120.3" y1="334.96" x2="141" y2="342.08" stroke="#dedede" stroke-width="0.5" stroke-opacity="0.85"/>
<line x1="120.3" y1="344.75" x2="141" y2="326.06" stroke="#dedede" stroke-width="0.5" stroke-opacity="0.85"/>
<line x1="120.3" y1="350.98" x2="141" y2="318.05" stroke="#dedede" stroke-width="0.5" stroke-opacity="0.85"/>
<line x1="120.3" y1="353.65" x2="141" y2="347.42" stroke="#dedede" stroke-width="0.5" stroke-opacity="0.85"/>
<line x1="120.3" y1="356.32" x2="141" y2="351.87" stroke="#dedede" stroke-width="0.5" stroke-opacity="0.85"/>
<circle cx="120.3" cy="334.96" r="2.2" fill="#f0dc55" stroke="#b59a2a" stroke-width="0.6" fill-opacity="0.85"/>
<circle cx="120.3" cy="344.75" r="2.2" fill="#9ab79c" stroke="#5b735d" stroke-width="0.6" fill-opacity="0.85"/>
<circle cx="120.3" cy="350.98" r="1.6" fill="#9ab79c" stroke="#5b735d" stroke-width="0.6" fill-opacity="0.85"/>
<circle cx="120.3" cy="353.65" r="1.5" fill="#9ab79c" stroke="#5b735d" stroke-width="0.6" fill-opacity="0.85"/>
<circle cx="120.3" cy="356.32" r="1.5" fill="#9ab79c" stroke="#5b735d" stroke-width="0.6" fill-opacity="0.85"/>
<circle cx="141" cy="318.05" r="2.3" fill="#9ab79c" stroke="#5b735d" stroke-width="0.6" fill-opacity="0.85"/>
<circle cx="141" cy="326.06" r="2.2" fill="#9ab79c" stroke="#5b735d" stroke-width="0.6" fill-opacity="0.85"/>
<circle cx="141" cy="342.08" r="1.6" fill="#9ab79c" stroke="#5b735d" stroke-width="0.6" fill-opacity="0.85"/>
<circle cx="141" cy="347.42" r="1.6" fill="#9ab79c" stroke="#5b735d" stroke-width="0.6" fill-opacity="0.85"/>
<circle cx="141" cy="351.87" r="1.5" fill="#9ab79c" stroke="#5b735d" stroke-width="0.6" fill-opacity="0.85"/>
<circle cx="141" cy="354.54" r="1.4" fill="#9ab79c" stroke="#5b735d" stroke-width="0.6" fill-opacity="0.85"/>
<line x1="120.3" y1="361.3" x2="120.3" y2="363.3" stroke="#444" stroke-width="0.6"/>
<line x1="141" y1="361.3" x2="141" y2="363.3" stroke="#444" stroke-width="0.6"/>
<text x="120.3" y="371.34" font-size="8" text-anchor="middle" stroke="#111">Pre</text>
<text x="141" y="371.34" font-size="8" text-anchor="middle" stroke="#111">Post</text>
<rect x="178.5" y="283.5" width="45" height="78" fill="#fff" stroke="#9a9a9a" stroke-width="1"/>
<line x1="176.3" y1="358.5" x2="178.3" y2="358.5" stroke="#444" stroke-width="0.6"/>
<text x="174.7" y="361.38" font-size="8.1" text-anchor="end" stroke="#111">0.0</text>
<line x1="176.3" y1="344.26" x2="178.3" y2="344.26" stroke="#444" stroke-width="0.6"/>
<text x="174.7" y="347.14" font-size="8.1" text-anchor="end" stroke="#111">0.1</text>
<line x1="176.3" y1="330.02" x2="178.3" y2="330.02" stroke="#444" stroke-width="0.6"/>
<text x="174.7" y="332.9" font-size="8.1" text-anchor="end" stroke="#111">0.2</text>
<line x1="176.3" y1="315.78" x2="178.3" y2="315.78" stroke="#444" stroke-width="0.6"/>
<text x="174.7" y="318.66" font-size="8.1" text-anchor="end" stroke="#111">0.3</text>
<line x1="176.3" y1="301.54" x2="178.3" y2="301.54" stroke="#444" stroke-width="0.6"/>
<text x="174.7" y="304.42" font-size="8.1" text-anchor="end" stroke="#111">0.4</text>
<line x1="176.3" y1="287.3" x2="178.3" y2="287.3" stroke="#444" stroke-width="0.6"/>
<text x="174.7" y="290.18" font-size="8.1" text-anchor="end" stroke="#111">0.5</text>
<text x="200.4" y="279.77" font-size="7.8" text-anchor="middle" stroke="#111">Transitional RE</text>
<text x="201.65" y="291.17" font-size="7.8" text-anchor="middle" stroke="#111"><tspan font-style="italic">P</tspan> &lt; 0.01</text>
<line x1="191.6" y1="292.8" x2="209.7" y2="292.8" stroke="#000" stroke-width="0.9"/>
<line x1="190.6" y1="330.02" x2="190.6" y2="331.44" stroke="#2b4a32" stroke-width="0.8"/>
<line x1="190.6" y1="343.55" x2="190.6" y2="348.53" stroke="#2b4a32" stroke-width="0.8"/>
<rect x="183" y="331.44" width="15.2" height="12.1" fill="#9dd3a3" stroke="#2b4a32" stroke-width="0.8"/>
<line x1="183" y1="336.29" x2="198.2" y2="336.29" stroke="#163020" stroke-width="1.3"/>
<line x1="210.7" y1="296.98" x2="210.7" y2="304.25" stroke="#2b4a32" stroke-width="0.8"/>
<line x1="210.7" y1="329.17" x2="210.7" y2="343.55" stroke="#2b4a32" stroke-width="0.8"/>
<rect x="202.8" y="304.25" width="15.8" height="24.92" fill="#1e7a3d" stroke="#2b4a32" stroke-width="0.8"/>
<line x1="202.8" y1="317.92" x2="218.6" y2="317.92" stroke="#163020" stroke-width="1.3"/>
<line x1="190.6" y1="298.69" x2="210.7" y2="297.27" stroke="#dedede" stroke-width="0.5" stroke-opacity="0.85"/>
<line x1="190.6" y1="330.02" x2="210.7" y2="300.12" stroke="#dedede" stroke-width="0.5" stroke-opacity="0.85"/>
<line x1="190.6" y1="332.16" x2="210.7" y2="307.24" stroke="#dedede" stroke-width="0.5" stroke-opacity="0.85"/>
<line x1="190.6" y1="335.72" x2="210.7" y2="318.63" stroke="#dedede" stroke-width="0.5" stroke-opacity="0.85"/>
<line x1="190.6" y1="338.56" x2="210.7" y2="297.27" stroke="#dedede" stroke-width="0.5" stroke-opacity="0.85"/>
<line x1="190.6" y1="342.12" x2="210.7" y2="333.58" stroke="#dedede" stroke-width="0.5" stroke-opacity="0.85"/>
<line x1="190.6" y1="347.11" x2="210.7" y2="343.55" stroke="#dedede" stroke-width="0.5" stroke-opacity="0.85"/>
<line x1="190.6" y1="348.25" x2="210.7" y2="318.63" stroke="#dedede" stroke-width="0.5" stroke-opacity="0.85"/>
<circle cx="190.6" cy="298.69" r="2.4" fill="#9ab79c" stroke="#5b735d" stroke-width="0.6" fill-opacity="0.85"/>
<circle cx="190.6" cy="330.02" r="1.8" fill="#9ab79c" stroke="#5b735d" stroke-width="0.6" fill-opacity="0.85"/>
<circle cx="190.6" cy="332.16" r="1.8" fill="#9ab79c" stroke="#5b735d" stroke-width="0.6" fill-opacity="0.85"/>
<circle cx="190.6" cy="335.72" r="1.8" fill="#9ab79c" stroke="#5b735d" stroke-width="0.6" fill-opacity="0.85"/>
<circle cx="190.6" cy="338.56" r="1.8" fill="#9ab79c" stroke="#5b735d" stroke-width="0.6" fill-opacity="0.85"/>
<circle cx="190.6" cy="342.12" r="1.6" fill="#9ab79c" stroke="#5b735d" stroke-width="0.6" fill-opacity="0.85"/>
<circle cx="190.6" cy="347.11" r="2.2" fill="#9ab79c" stroke="#5b735d" stroke-width="0.6" fill-opacity="0.85"/>
<circle cx="190.6" cy="348.25" r="1.6" fill="#9ab79c" stroke="#5b735d" stroke-width="0.6" fill-opacity="0.85"/>
<circle cx="190.6" cy="354.23" r="1.4" fill="#f0dc55" stroke="#b59a2a" stroke-width="0.6" fill-opacity="0.85"/>
<circle cx="210.7" cy="297.27" r="2.5" fill="#9ab79c" stroke="#5b735d" stroke-width="0.6" fill-opacity="0.85"/>
<circle cx="210.7" cy="300.12" r="1.8" fill="#9ab79c" stroke="#5b735d" stroke-width="0.6" fill-opacity="0.85"/>
<circle cx="210.7" cy="307.24" r="1.6" fill="#9ab79c" stroke="#5b735d" stroke-width="0.6" fill-opacity="0.85"/>
<circle cx="210.7" cy="318.63" r="1.6" fill="#9ab79c" stroke="#5b735d" stroke-width="0.6" fill-opacity="0.85"/>
<circle cx="210.7" cy="333.58" r="2.5" fill="#f0dc55" stroke="#b59a2a" stroke-width="0.6" fill-opacity="0.85"/>
<circle cx="210.7" cy="343.55" r="2.5" fill="#9ab79c" stroke="#5b735d" stroke-width="0.6" fill-opacity="0.85"/>
<line x1="190.6" y1="361.9" x2="190.6" y2="363.9" stroke="#444" stroke-width="0.6"/>
<line x1="210.7" y1="361.9" x2="210.7" y2="363.9" stroke="#444" stroke-width="0.6"/>
<text x="190.6" y="371.94" font-size="8" text-anchor="middle" stroke="#111">Pre</text>
<text x="210.7" y="371.94" font-size="8" text-anchor="middle" stroke="#111">Post</text>
<rect x="34.5" y="389.5" width="44" height="78" fill="#fff" stroke="#9a9a9a" stroke-width="1"/>
<line x1="32.6" y1="464.2" x2="34.6" y2="464.2" stroke="#444" stroke-width="0.6"/>
<text x="31" y="467.08" font-size="8.1" text-anchor="end" stroke="#111">0.0</text>
<line x1="32.6" y1="446.43" x2="34.6" y2="446.43" stroke="#444" stroke-width="0.6"/>
<text x="31" y="449.3" font-size="8.1" text-anchor="end" stroke="#111">0.1</text>
<line x1="32.6" y1="428.65" x2="34.6" y2="428.65" stroke="#444" stroke-width="0.6"/>
<text x="31" y="431.53" font-size="8.1" text-anchor="end" stroke="#111">0.2</text>
<line x1="32.6" y1="410.88" x2="34.6" y2="410.88" stroke="#444" stroke-width="0.6"/>
<text x="31" y="413.75" font-size="8.1" text-anchor="end" stroke="#111">0.3</text>
<line x1="32.6" y1="393.1" x2="34.6" y2="393.1" stroke="#444" stroke-width="0.6"/>
<text x="31" y="395.98" font-size="8.1" text-anchor="end" stroke="#111">0.4</text>
<text x="57.5" y="385.47" font-size="7.8" text-anchor="middle" stroke="#111">Treg TNFRSF9 RE</text>
<text x="57.6" y="396.87" font-size="7.8" text-anchor="middle" stroke="#111"><tspan font-style="italic">P</tspan> &lt; 0.05</text>
<line x1="47.6" y1="398.5" x2="65.6" y2="398.5" stroke="#000" stroke-width="0.9"/>
<line x1="46.6" y1="405.54" x2="46.6" y2="430.07" stroke="#2b4a32" stroke-width="0.8"/>
<line x1="46.6" y1="452.29" x2="46.6" y2="459.4" stroke="#2b4a32" stroke-width="0.8"/>
<rect x="39" y="430.07" width="15.2" height="22.22" fill="#9dd3a3" stroke="#2b4a32" stroke-width="0.8"/>
<line x1="39" y1="438.25" x2="54.2" y2="438.25" stroke="#163020" stroke-width="1.3"/>
<line x1="66.6" y1="449.09" x2="66.6" y2="454.07" stroke="#2b4a32" stroke-width="0.8"/>
<line x1="66.6" y1="457.45" x2="66.6" y2="460.64" stroke="#2b4a32" stroke-width="0.8"/>
<rect x="58.7" y="454.07" width="15.8" height="3.38" fill="#1e7a3d" stroke="#2b4a32" stroke-width="0.8"/>
<line x1="58.7" y1="456.2" x2="74.5" y2="456.2" stroke="#163020" stroke-width="1.3"/>
<line x1="46.6" y1="405.54" x2="66.6" y2="455.31" stroke="#dedede" stroke-width="0.5" stroke-opacity="0.85"/>
<line x1="46.6" y1="430.43" x2="66.6" y2="449.09" stroke="#dedede" stroke-width="0.5" stroke-opacity="0.85"/>
<line x1="46.6" y1="434.87" x2="66.6" y2="457.09" stroke="#dedede" stroke-width="0.5" stroke-opacity="0.85"/>
<line x1="46.6" y1="446.43" x2="66.6" y2="441.09" stroke="#dedede" stroke-width="0.5" stroke-opacity="0.85"/>
<line x1="46.6" y1="449.98" x2="66.6" y2="460.64" stroke="#dedede" stroke-width="0.5" stroke-opacity="0.85"/>
<line x1="46.6" y1="459.76" x2="66.6" y2="457.09" stroke="#dedede" stroke-width="0.5" stroke-opacity="0.85"/>
<circle cx="46.6" cy="405.54" r="2.4" fill="#9ab79c" stroke="#5b735d" stroke-width="0.6" fill-opacity="0.85"/>
<circle cx="46.6" cy="430.43" r="2" fill="#9ab79c" stroke="#5b735d" stroke-width="0.6" fill-opacity="0.85"/>
<circle cx="46.6" cy="434.87" r="1.8" fill="#9ab79c" stroke="#5b735d" stroke-width="0.6" fill-opacity="0.85"/>
<circle cx="46.6" cy="446.43" r="1.8" fill="#9ab79c" stroke="#5b735d" stroke-width="0.6" fill-opacity="0.85"/>
<circle cx="46.6" cy="449.98" r="1.6" fill="#9ab79c" stroke="#5b735d" stroke-width="0.6" fill-opacity="0.85"/>
<circle cx="46.6" cy="459.76" r="1.8" fill="#9ab79c" stroke="#5b735d" stroke-width="0.6" fill-opacity="0.85"/>
<circle cx="66.6" cy="441.09" r="1.9" fill="#9ab79c" stroke="#5b735d" stroke-width="0.6" fill-opacity="0.85"/>
<circle cx="66.6" cy="449.09" r="1.8" fill="#9ab79c" stroke="#5b735d" stroke-width="0.6" fill-opacity="0.85"/>
<circle cx="66.6" cy="455.31" r="1.6" fill="#9ab79c" stroke="#5b735d" stroke-width="0.6" fill-opacity="0.85"/>
<circle cx="66.6" cy="457.09" r="1.5" fill="#9ab79c" stroke="#5b735d" stroke-width="0.6" fill-opacity="0.85"/>
<circle cx="66.6" cy="460.64" r="1.5" fill="#9ab79c" stroke="#5b735d" stroke-width="0.6" fill-opacity="0.85"/>
<line x1="46.6" y1="467.4" x2="46.6" y2="469.4" stroke="#444" stroke-width="0.6"/>
<line x1="66.6" y1="467.4" x2="66.6" y2="469.4" stroke="#444" stroke-width="0.6"/>
<text x="46.6" y="477.44" font-size="8" text-anchor="middle" stroke="#111">Pre</text>
<text x="66.6" y="477.44" font-size="8" text-anchor="middle" stroke="#111">Post</text>
<rect x="108.5" y="389.5" width="45" height="78" fill="#fff" stroke="#9a9a9a" stroke-width="1"/>
<line x1="106.5" y1="463.8" x2="108.5" y2="463.8" stroke="#444" stroke-width="0.6"/>
<text x="104.9" y="466.68" font-size="8.1" text-anchor="end" stroke="#111">0.0</text>
<line x1="106.5" y1="446.02" x2="108.5" y2="446.02" stroke="#444" stroke-width="0.6"/>
<text x="104.9" y="448.9" font-size="8.1" text-anchor="end" stroke="#111">0.1</text>
<line x1="106.5" y1="428.25" x2="108.5" y2="428.25" stroke="#444" stroke-width="0.6"/>
<text x="104.9" y="431.13" font-size="8.1" text-anchor="end" stroke="#111">0.2</text>
<line x1="106.5" y1="410.48" x2="108.5" y2="410.48" stroke="#444" stroke-width="0.6"/>
<text x="104.9" y="413.35" font-size="8.1" text-anchor="end" stroke="#111">0.3</text>
<line x1="106.5" y1="392.7" x2="108.5" y2="392.7" stroke="#444" stroke-width="0.6"/>
<text x="104.9" y="395.58" font-size="8.1" text-anchor="end" stroke="#111">0.4</text>
<text x="131.3" y="385.47" font-size="7.8" text-anchor="middle" stroke="#111">Dysf GZMB RE</text>
<text x="132.05" y="396.87" font-size="7.8" text-anchor="middle" stroke="#111"><tspan font-style="italic">P</tspan> &lt; 0.1</text>
<line x1="121.8" y1="398.5" x2="140.3" y2="398.5" stroke="#000" stroke-width="0.9"/>
<line x1="120.8" y1="444.25" x2="120.8" y2="446.56" stroke="#2b4a32" stroke-width="0.8"/>
<line x1="120.8" y1="451.71" x2="120.8" y2="456.69" stroke="#2b4a32" stroke-width="0.8"/>
<rect x="113.2" y="446.56" width="15.2" height="5.15" fill="#9dd3a3" stroke="#2b4a32" stroke-width="0.8"/>
<line x1="113.2" y1="448.51" x2="128.4" y2="448.51" stroke="#163020" stroke-width="1.3"/>
<line x1="141.3" y1="452.07" x2="141.3" y2="453.67" stroke="#2b4a32" stroke-width="0.8"/>
<line x1="141.3" y1="458.82" x2="141.3" y2="462.02" stroke="#2b4a32" stroke-width="0.8"/>
<rect x="133.4" y="453.67" width="15.8" height="5.15" fill="#1e7a3d" stroke="#2b4a32" stroke-width="0.8"/>
<line x1="133.4" y1="456.51" x2="149.2" y2="456.51" stroke="#163020" stroke-width="1.3"/>
<line x1="120.8" y1="412.25" x2="141.3" y2="446.02" stroke="#dedede" stroke-width="0.5" stroke-opacity="0.85"/>
<line x1="120.8" y1="436.25" x2="141.3" y2="458.47" stroke="#dedede" stroke-width="0.5" stroke-opacity="0.85"/>
<line x1="120.8" y1="446.02" x2="141.3" y2="454.91" stroke="#dedede" stroke-width="0.5" stroke-opacity="0.85"/>
<line x1="120.8" y1="449.58" x2="141.3" y2="438.92" stroke="#dedede" stroke-width="0.5" stroke-opacity="0.85"/>
<line x1="120.8" y1="456.69" x2="141.3" y2="452.07" stroke="#dedede" stroke-width="0.5" stroke-opacity="0.85"/>
<circle cx="120.8" cy="412.25" r="2.4" fill="#f0dc55" stroke="#b59a2a" stroke-width="0.6" fill-opacity="0.85"/>
<circle cx="120.8" cy="436.25" r="2.4" fill="#9ab79c" stroke="#5b735d" stroke-width="0.6" fill-opacity="0.85"/>
<circle cx="120.8" cy="446.02" r="1.6" fill="#9ab79c" stroke="#5b735d" stroke-width="0.6" fill-opacity="0.85"/>
<circle cx="120.8" cy="449.58" r="1.6" fill="#9ab79c" stroke="#5b735d" stroke-width="0.6" fill-opacity="0.85"/>
<circle cx="120.8" cy="456.69" r="1.6" fill="#9ab79c" stroke="#5b735d" stroke-width="0.6" fill-opacity="0.85"/>
<circle cx="141.3" cy="438.92" r="1.8" fill="#9ab79c" stroke="#5b735d" stroke-width="0.6" fill-opacity="0.85"/>
<circle cx="141.3" cy="446.02" r="2.4" fill="#f0dc55" stroke="#b59a2a" stroke-width="0.6" fill-opacity="0.85"/>
<circle cx="141.3" cy="452.07" r="1.6" fill="#9ab79c" stroke="#5b735d" stroke-width="0.6" fill-opacity="0.85"/>
<circle cx="141.3" cy="454.91" r="1.5" fill="#9ab79c" stroke="#5b735d" stroke-width="0.6" fill-opacity="0.85"/>
<circle cx="141.3" cy="458.47" r="1.5" fill="#9ab79c" stroke="#5b735d" stroke-width="0.6" fill-opacity="0.85"/>
<circle cx="141.3" cy="462.02" r="1.5" fill="#9ab79c" stroke="#5b735d" stroke-width="0.6" fill-opacity="0.85"/>
<line x1="120.8" y1="467.4" x2="120.8" y2="469.4" stroke="#444" stroke-width="0.6"/>
<line x1="141.3" y1="467.4" x2="141.3" y2="469.4" stroke="#444" stroke-width="0.6"/>
<text x="120.8" y="477.44" font-size="8" text-anchor="middle" stroke="#111">Pre</text>
<text x="141.3" y="477.44" font-size="8" text-anchor="middle" stroke="#111">Post</text>
<rect x="178.5" y="389.5" width="45" height="78" fill="#fff" stroke="#9a9a9a" stroke-width="1"/>
<line x1="176.3" y1="463.8" x2="178.3" y2="463.8" stroke="#444" stroke-width="0.6"/>
<text x="174.7" y="466.68" font-size="8.1" text-anchor="end" stroke="#111">0.0</text>
<line x1="176.3" y1="449.54" x2="178.3" y2="449.54" stroke="#444" stroke-width="0.6"/>
<text x="174.7" y="452.42" font-size="8.1" text-anchor="end" stroke="#111">0.1</text>
<line x1="176.3" y1="435.28" x2="178.3" y2="435.28" stroke="#444" stroke-width="0.6"/>
<text x="174.7" y="438.16" font-size="8.1" text-anchor="end" stroke="#111">0.2</text>
<line x1="176.3" y1="421.02" x2="178.3" y2="421.02" stroke="#444" stroke-width="0.6"/>
<text x="174.7" y="423.9" font-size="8.1" text-anchor="end" stroke="#111">0.3</text>
<line x1="176.3" y1="406.76" x2="178.3" y2="406.76" stroke="#444" stroke-width="0.6"/>
<text x="174.7" y="409.64" font-size="8.1" text-anchor="end" stroke="#111">0.4</text>
<line x1="176.3" y1="392.5" x2="178.3" y2="392.5" stroke="#444" stroke-width="0.6"/>
<text x="174.7" y="395.38" font-size="8.1" text-anchor="end" stroke="#111">0.5</text>
<text x="201.3" y="385.47" font-size="7.8" text-anchor="middle" stroke="#111">Naive-like CD8 RE</text>
<text x="201.7" y="396.87" font-size="7.8" text-anchor="middle" stroke="#111"><tspan font-style="italic">P</tspan> &lt; 0.05</text>
<line x1="191.6" y1="398.5" x2="209.8" y2="398.5" stroke="#000" stroke-width="0.9"/>
<line x1="190.6" y1="429.58" x2="190.6" y2="435.28" stroke="#2b4a32" stroke-width="0.8"/>
<line x1="190.6" y1="451.25" x2="190.6" y2="456.67" stroke="#2b4a32" stroke-width="0.8"/>
<rect x="183" y="435.28" width="15.2" height="15.97" fill="#9dd3a3" stroke="#2b4a32" stroke-width="0.8"/>
<line x1="183" y1="447.83" x2="198.2" y2="447.83" stroke="#163020" stroke-width="1.3"/>
<line x1="210.8" y1="440.27" x2="210.8" y2="447.26" stroke="#2b4a32" stroke-width="0.8"/>
<line x1="210.8" y1="454.53" x2="210.8" y2="459.52" stroke="#2b4a32" stroke-width="0.8"/>
<rect x="202.9" y="447.26" width="15.8" height="7.27" fill="#1e7a3d" stroke="#2b4a32" stroke-width="0.8"/>
<line x1="202.9" y1="451.68" x2="218.7" y2="451.68" stroke="#163020" stroke-width="1.3"/>
<line x1="190.6" y1="429.58" x2="210.8" y2="442.41" stroke="#dedede" stroke-width="0.5" stroke-opacity="0.85"/>
<line x1="190.6" y1="435.28" x2="210.8" y2="440.27" stroke="#dedede" stroke-width="0.5" stroke-opacity="0.85"/>
<line x1="190.6" y1="448.11" x2="210.8" y2="451.68" stroke="#dedede" stroke-width="0.5" stroke-opacity="0.85"/>
<line x1="190.6" y1="449.54" x2="210.8" y2="457.38" stroke="#dedede" stroke-width="0.5" stroke-opacity="0.85"/>
<line x1="190.6" y1="456.67" x2="210.8" y2="449.54" stroke="#dedede" stroke-width="0.5" stroke-opacity="0.85"/>
<circle cx="190.6" cy="429.58" r="2.4" fill="#9ab79c" stroke="#5b735d" stroke-width="0.6" fill-opacity="0.85"/>
<circle cx="190.6" cy="435.28" r="2" fill="#9ab79c" stroke="#5b735d" stroke-width="0.6" fill-opacity="0.85"/>
<circle cx="190.6" cy="448.11" r="2" fill="#9ab79c" stroke="#5b735d" stroke-width="0.6" fill-opacity="0.85"/>
<circle cx="190.6" cy="449.54" r="1.8" fill="#9ab79c" stroke="#5b735d" stroke-width="0.6" fill-opacity="0.85"/>
<circle cx="190.6" cy="456.67" r="1.6" fill="#9ab79c" stroke="#5b735d" stroke-width="0.6" fill-opacity="0.85"/>
<circle cx="210.8" cy="440.27" r="2.4" fill="#9ab79c" stroke="#5b735d" stroke-width="0.6" fill-opacity="0.85"/>
<circle cx="210.8" cy="442.41" r="1.8" fill="#9ab79c" stroke="#5b735d" stroke-width="0.6" fill-opacity="0.85"/>
<circle cx="210.8" cy="449.54" r="1.6" fill="#9ab79c" stroke="#5b735d" stroke-width="0.6" fill-opacity="0.85"/>
<circle cx="210.8" cy="451.68" r="1.6" fill="#9ab79c" stroke="#5b735d" stroke-width="0.6" fill-opacity="0.85"/>
<circle cx="210.8" cy="457.38" r="1.5" fill="#9ab79c" stroke="#5b735d" stroke-width="0.6" fill-opacity="0.85"/>
<circle cx="210.8" cy="459.52" r="1.5" fill="#9ab79c" stroke="#5b735d" stroke-width="0.6" fill-opacity="0.85"/>
<line x1="190.6" y1="467.4" x2="190.6" y2="469.4" stroke="#444" stroke-width="0.6"/>
<line x1="210.8" y1="467.4" x2="210.8" y2="469.4" stroke="#444" stroke-width="0.6"/>
<text x="190.6" y="477.44" font-size="8" text-anchor="middle" stroke="#111">Pre</text>
<text x="210.8" y="477.44" font-size="8" text-anchor="middle" stroke="#111">Post</text>
<text x="7.6" y="325.34" font-size="8" text-anchor="middle" stroke="#111" transform="rotate(-90 7.6 322.5)">Fraction</text>
<text x="7.6" y="431.34" font-size="8" text-anchor="middle" stroke="#111" transform="rotate(-90 7.6 428.5)">Fraction</text>
<text x="233.8" y="395.54" font-size="8" stroke="#111">Size</text>
<circle cx="237.6" cy="403.1" r="1" fill="#fff" stroke="#666" stroke-width="0.6"/>
<text x="244.6" y="405.94" font-size="8" stroke="#111">20</text>
<circle cx="237.6" cy="415.6" r="1.35" fill="#fff" stroke="#666" stroke-width="0.6"/>
<text x="244.6" y="418.44" font-size="8" stroke="#111">40</text>
<circle cx="237.6" cy="427.7" r="1.7" fill="#fff" stroke="#666" stroke-width="0.6"/>
<text x="244.6" y="430.54" font-size="8" stroke="#111">80</text>
<circle cx="237.6" cy="440.2" r="2.05" fill="#fff" stroke="#666" stroke-width="0.6"/>
<text x="244.6" y="443.04" font-size="8" stroke="#111">160</text>
<circle cx="237.6" cy="452.3" r="2.4" fill="#fff" stroke="#666" stroke-width="0.6"/>
<text x="244.6" y="455.14" font-size="8" stroke="#111">320</text>
<circle cx="237.6" cy="464.2" r="2.8" fill="#fff" stroke="#666" stroke-width="0.6"/>
<text x="244.6" y="467.04" font-size="8" stroke="#111">640</text>
<text x="5" y="486.33" font-size="10.5" fill="#000" stroke="#000" font-weight="bold">C</text>
<rect x="33.5" y="495.5" width="80" height="73" fill="#fff" stroke="#9a9a9a" stroke-width="1"/>
<line x1="31.8" y1="567.5" x2="33.8" y2="567.5" stroke="#444" stroke-width="0.6"/>
<text x="30.8" y="570.34" font-size="8" text-anchor="end" stroke="#111">0.1</text>
<line x1="31.8" y1="554.3" x2="33.8" y2="554.3" stroke="#444" stroke-width="0.6"/>
<text x="30.8" y="557.14" font-size="8" text-anchor="end" stroke="#111">0.2</text>
<line x1="31.8" y1="541.2" x2="33.8" y2="541.2" stroke="#444" stroke-width="0.6"/>
<text x="30.8" y="544.04" font-size="8" text-anchor="end" stroke="#111">0.3</text>
<line x1="31.8" y1="528" x2="33.8" y2="528" stroke="#444" stroke-width="0.6"/>
<text x="30.8" y="530.84" font-size="8" text-anchor="end" stroke="#111">0.4</text>
<line x1="31.8" y1="514.9" x2="33.8" y2="514.9" stroke="#444" stroke-width="0.6"/>
<text x="30.8" y="517.74" font-size="8" text-anchor="end" stroke="#111">0.5</text>
<line x1="31.8" y1="501.7" x2="33.8" y2="501.7" stroke="#444" stroke-width="0.6"/>
<text x="30.8" y="504.54" font-size="8" text-anchor="end" stroke="#111">0.6</text>
<text x="74" y="490.37" font-size="7.8" text-anchor="middle" stroke="#111">Cytotoxic NK cell sig.</text>
<path d="M47.5 516.5 C47.77 516.5 47.93 517.83 48.3 519 C48.67 520.17 48.97 521.67 49.7 523.5 C50.43 525.33 51.7 527.58 52.7 530 C53.7 532.42 55.73 535.5 55.7 538 C55.67 540.5 53.47 543 52.5 545 C51.53 547 50.57 548.58 49.9 550 C49.23 551.42 48.9 552.42 48.5 553.5 C48.1 554.58 47.83 556.5 47.5 556.5 C47.17 556.5 46.9 554.58 46.5 553.5 C46.1 552.42 45.77 551.42 45.1 550 C44.43 548.58 43.47 547 42.5 545 C41.53 543 39.33 540.5 39.3 538 C39.27 535.5 41.3 532.42 42.3 530 C43.3 527.58 44.57 525.33 45.3 523.5 C46.03 521.67 46.33 520.17 46.7 519 C47.07 517.83 47.23 516.5 47.5 516.5 Z" fill="#e8747e" stroke="#2a1a1a" stroke-width="0.6"/>
<path d="M63.2 508.1 C63.87 508.1 64.6 510.35 65.2 512 C65.8 513.65 66.43 515.67 66.8 518 C67.17 520.33 67.28 523.42 67.4 526 C67.52 528.58 67.52 531 67.5 533.5 C67.48 536 67.42 538.92 67.3 541 C67.18 543.08 67.15 543.92 66.8 546 C66.45 548.08 65.67 551.5 65.2 553.5 C64.73 555.5 64.33 556.72 64 558 C63.67 559.28 63.47 561.2 63.2 561.2 C62.93 561.2 62.73 559.28 62.4 558 C62.07 556.72 61.67 555.5 61.2 553.5 C60.73 551.5 59.95 548.08 59.6 546 C59.25 543.92 59.22 543.08 59.1 541 C58.98 538.92 58.92 536 58.9 533.5 C58.88 531 58.88 528.58 59 526 C59.12 523.42 59.23 520.33 59.6 518 C59.97 515.67 60.6 513.65 61.2 512 C61.8 510.35 62.53 508.1 63.2 508.1 Z" fill="#a11a2a" stroke="#2a1a1a" stroke-width="0.6"/>
<path d="M83.5 516.5 C83.77 516.5 83.9 518.22 84.3 519.5 C84.7 520.78 85.12 522.28 85.9 524.2 C86.68 526.12 88 528.7 89 531 C90 533.3 91.95 535.67 91.9 538 C91.85 540.33 89.72 543 88.7 545 C87.68 547 86.5 548.58 85.8 550 C85.1 551.42 84.88 552.53 84.5 553.5 C84.12 554.47 83.83 555.8 83.5 555.8 C83.17 555.8 82.88 554.47 82.5 553.5 C82.12 552.53 81.9 551.42 81.2 550 C80.5 548.58 79.32 547 78.3 545 C77.28 543 75.15 540.33 75.1 538 C75.05 535.67 77 533.3 78 531 C79 528.7 80.32 526.12 81.1 524.2 C81.88 522.28 82.3 520.78 82.7 519.5 C83.1 518.22 83.23 516.5 83.5 516.5 Z" fill="#8ed5a0" stroke="#2a1a1a" stroke-width="0.6"/>
<path d="M99.8 507.5 C100.13 507.5 100.37 509.25 100.8 511 C101.23 512.75 101.8 515.03 102.4 518 C103 520.97 103.87 525.8 104.4 528.8 C104.93 531.8 105.33 533.93 105.6 536 C105.87 538.07 106.13 539.53 106 541.2 C105.87 542.87 105.27 544.47 104.8 546 C104.33 547.53 103.77 548.9 103.2 550.4 C102.63 551.9 101.83 553.73 101.4 555 C100.97 556.27 100.87 557.1 100.6 558 C100.33 558.9 100.07 560.4 99.8 560.4 C99.53 560.4 99.27 558.9 99 558 C98.73 557.1 98.63 556.27 98.2 555 C97.77 553.73 96.97 551.9 96.4 550.4 C95.83 548.9 95.27 547.53 94.8 546 C94.33 544.47 93.73 542.87 93.6 541.2 C93.47 539.53 93.73 538.07 94 536 C94.27 533.93 94.67 531.8 95.2 528.8 C95.73 525.8 96.6 520.97 97.2 518 C97.8 515.03 98.37 512.75 98.8 511 C99.23 509.25 99.47 507.5 99.8 507.5 Z" fill="#1e7a42" stroke="#2a1a1a" stroke-width="0.6"/>
<circle cx="47.5" cy="515" r="1.2" fill="#111"/>
<circle cx="47.5" cy="516.3" r="1.2" fill="#111"/>
<circle cx="47.5" cy="517.5" r="1.2" fill="#111"/>
<circle cx="47.5" cy="556" r="1.2" fill="#111"/>
<circle cx="47.5" cy="557.2" r="1.2" fill="#111"/>
<circle cx="47.5" cy="558.2" r="1.2" fill="#111"/>
<circle cx="83.5" cy="515" r="1.2" fill="#111"/>
<circle cx="83.5" cy="516.3" r="1.2" fill="#111"/>
<circle cx="99.8" cy="506.5" r="1.2" fill="#111"/>
<rect x="46.1" y="531.5" width="2.8" height="11.5" fill="#f6d8dc" stroke="#4a2228" stroke-width="0.5"/>
<line x1="46.1" y1="537.5" x2="48.9" y2="537.5" stroke="#4a2228" stroke-width="0.6"/>
<rect x="82.1" y="531.5" width="2.8" height="11.5" fill="#d8f0de" stroke="#2a4a32" stroke-width="0.5"/>
<line x1="82.1" y1="537.5" x2="84.9" y2="537.5" stroke="#2a4a32" stroke-width="0.6"/>
<rect x="62.2" y="524" width="2" height="21" fill="none" stroke="#6a1018" stroke-width="0.5"/>
<line x1="62.2" y1="534" x2="64.2" y2="534" stroke="#6a1018" stroke-width="0.6"/>
<rect x="98.8" y="530" width="2" height="18" fill="none" stroke="#104a22" stroke-width="0.5"/>
<line x1="98.8" y1="540" x2="100.8" y2="540" stroke="#104a22" stroke-width="0.6"/>
<line x1="47.5" y1="519" x2="47.5" y2="553.5" stroke="#4a2228" stroke-width="0.5"/>
<line x1="83.5" y1="519.5" x2="83.5" y2="553.5" stroke="#2a4a32" stroke-width="0.5"/>
<text x="58.3" y="504.07" font-size="7.8" text-anchor="middle" stroke="#111"><tspan font-style="italic">P</tspan> &lt; 0.01</text>
<line x1="48" y1="505.6" x2="63.2" y2="505.6" stroke="#000" stroke-width="0.9"/>
<text x="92.3" y="502.57" font-size="7.8" text-anchor="middle" stroke="#111">ns</text>
<line x1="84" y1="505.6" x2="99.8" y2="505.6" stroke="#000" stroke-width="0.9"/>
<line x1="55.5" y1="568.8" x2="55.5" y2="570.8" stroke="#444" stroke-width="0.6"/>
<text x="55.5" y="578.44" font-size="8" text-anchor="middle" stroke="#111">NR</text>
<line x1="91.6" y1="568.8" x2="91.6" y2="570.8" stroke="#444" stroke-width="0.6"/>
<text x="91.6" y="578.44" font-size="8" text-anchor="middle" stroke="#111">RE</text>
<text x="11.3" y="535.04" font-size="8" text-anchor="middle" stroke="#111" transform="rotate(-90 11.3 532.2)">Cytotoxic NK sig.</text>
<rect x="144.5" y="495.5" width="79" height="72" fill="#fff" stroke="#9a9a9a" stroke-width="1"/>
<line x1="143" y1="564.5" x2="145" y2="564.5" stroke="#444" stroke-width="0.6"/>
<text x="142" y="567.34" font-size="8" text-anchor="end" stroke="#111">0.0</text>
<line x1="143" y1="545.9" x2="145" y2="545.9" stroke="#444" stroke-width="0.6"/>
<text x="142" y="548.74" font-size="8" text-anchor="end" stroke="#111">0.2</text>
<line x1="143" y1="527.3" x2="145" y2="527.3" stroke="#444" stroke-width="0.6"/>
<text x="142" y="530.14" font-size="8" text-anchor="end" stroke="#111">0.4</text>
<line x1="143" y1="508.7" x2="145" y2="508.7" stroke="#444" stroke-width="0.6"/>
<text x="142" y="511.54" font-size="8" text-anchor="end" stroke="#111">0.6</text>
<text x="184.8" y="490.77" font-size="7.8" text-anchor="middle" stroke="#111">CD56<tspan baseline-shift="sub" font-size="5.5">bright</tspan> NK cell sig.</text>
<path d="M158.5 513.2 C158.9 513.2 159.27 515.9 159.7 518 C160.13 520.1 160.63 522.97 161.1 525.8 C161.57 528.63 162.1 531.93 162.5 535 C162.9 538.07 163.43 541.87 163.5 544.2 C163.57 546.53 163.23 547.7 162.9 549 C162.57 550.3 162 550.92 161.5 552 C161 553.08 160.4 554.43 159.9 555.5 C159.4 556.57 158.97 558.4 158.5 558.4 C158.03 558.4 157.6 556.57 157.1 555.5 C156.6 554.43 156 553.08 155.5 552 C155 550.92 154.43 550.3 154.1 549 C153.77 547.7 153.43 546.53 153.5 544.2 C153.57 541.87 154.1 538.07 154.5 535 C154.9 531.93 155.43 528.63 155.9 525.8 C156.37 522.97 156.87 520.1 157.3 518 C157.73 515.9 158.1 513.2 158.5 513.2 Z" fill="#e8747e" stroke="#2a1a1a" stroke-width="0.6"/>
<path d="M175 518.5 C175.43 518.5 176.03 519.42 176.3 521 C176.57 522.58 176.42 525.83 176.6 528 C176.78 530.17 176.93 532.33 177.4 534 C177.87 535.67 178.63 536.33 179.4 538 C180.17 539.67 181.32 542.07 182 544 C182.68 545.93 183.67 548.02 183.5 549.6 C183.33 551.18 181.98 552.35 181 553.5 C180.02 554.65 178.6 555.65 177.6 556.5 C176.6 557.35 175.87 558.6 175 558.6 C174.13 558.6 173.4 557.35 172.4 556.5 C171.4 555.65 169.98 554.65 169 553.5 C168.02 552.35 166.67 551.18 166.5 549.6 C166.33 548.02 167.32 545.93 168 544 C168.68 542.07 169.83 539.67 170.6 538 C171.37 536.33 172.13 535.67 172.6 534 C173.07 532.33 173.22 530.17 173.4 528 C173.58 525.83 173.43 522.58 173.7 521 C173.97 519.42 174.57 518.5 175 518.5 Z" fill="#a11a2a" stroke="#2a1a1a" stroke-width="0.6"/>
<path d="M194.5 511 C194.7 511 194.87 513.57 195.1 515 C195.33 516.43 195.4 518.1 195.9 519.6 C196.4 521.1 197.5 522.27 198.1 524 C198.7 525.73 199.17 528.33 199.5 530 C199.83 531.67 200.05 532.33 200.1 534 C200.15 535.67 200 538.17 199.8 540 C199.6 541.83 199.32 543.33 198.9 545 C198.48 546.67 197.83 548.5 197.3 550 C196.77 551.5 196.17 552.92 195.7 554 C195.23 555.08 194.9 556.5 194.5 556.5 C194.1 556.5 193.77 555.08 193.3 554 C192.83 552.92 192.23 551.5 191.7 550 C191.17 548.5 190.52 546.67 190.1 545 C189.68 543.33 189.4 541.83 189.2 540 C189 538.17 188.85 535.67 188.9 534 C188.95 532.33 189.17 531.67 189.5 530 C189.83 528.33 190.3 525.73 190.9 524 C191.5 522.27 192.6 521.1 193.1 519.6 C193.6 518.1 193.67 516.43 193.9 515 C194.13 513.57 194.3 511 194.5 511 Z" fill="#8ed5a0" stroke="#2a1a1a" stroke-width="0.6"/>
<path d="M211.2 513.2 C211.6 513.2 211.97 515.9 212.4 518 C212.83 520.1 213.33 523.63 213.8 525.8 C214.27 527.97 214.75 529.22 215.2 531 C215.65 532.78 216.28 534.83 216.5 536.5 C216.72 538.17 216.65 539.42 216.5 541 C216.35 542.58 215.92 544.5 215.6 546 C215.28 547.5 215.03 548.67 214.6 550 C214.17 551.33 213.43 552.83 213 554 C212.57 555.17 212.22 556.08 212 557 C211.78 557.92 211.78 558.55 211.65 559.5 C211.52 560.45 211.35 562.7 211.2 562.7 C211.05 562.7 210.88 560.45 210.75 559.5 C210.62 558.55 210.62 557.92 210.4 557 C210.17 556.08 209.83 555.17 209.4 554 C208.97 552.83 208.23 551.33 207.8 550 C207.37 548.67 207.12 547.5 206.8 546 C206.48 544.5 206.05 542.58 205.9 541 C205.75 539.42 205.68 538.17 205.9 536.5 C206.12 534.83 206.75 532.78 207.2 531 C207.65 529.22 208.13 527.97 208.6 525.8 C209.07 523.63 209.57 520.1 210 518 C210.43 515.9 210.8 513.2 211.2 513.2 Z" fill="#1e7a42" stroke="#2a1a1a" stroke-width="0.6"/>
<circle cx="175" cy="516.2" r="1.05" fill="#111"/>
<circle cx="175" cy="517.6" r="1.05" fill="#111"/>
<circle cx="175" cy="519" r="1.05" fill="#111"/>
<circle cx="194.5" cy="509.6" r="1.05" fill="#111"/>
<line x1="175" y1="516" x2="175" y2="521" stroke="#111" stroke-width="0.6"/>
<line x1="194.5" y1="509.6" x2="194.5" y2="515" stroke="#111" stroke-width="0.8"/>
<rect x="157.2" y="532" width="2.6" height="14" fill="#f2c4ca" stroke="#4a2228" stroke-width="0.5"/>
<line x1="157.2" y1="540" x2="159.8" y2="540" stroke="#4a2228" stroke-width="0.6"/>
<rect x="193.2" y="529" width="2.6" height="15" fill="#c4e8cc" stroke="#2a4a32" stroke-width="0.5"/>
<line x1="193.2" y1="536.5" x2="195.8" y2="536.5" stroke="#2a4a32" stroke-width="0.6"/>
<rect x="174" y="542" width="2" height="11" fill="none" stroke="#6a1018" stroke-width="0.5"/>
<line x1="174" y1="549" x2="176" y2="549" stroke="#6a1018" stroke-width="0.6"/>
<rect x="210.2" y="534" width="2" height="15" fill="none" stroke="#104a22" stroke-width="0.5"/>
<line x1="210.2" y1="542" x2="212.2" y2="542" stroke="#104a22" stroke-width="0.6"/>
<line x1="158.5" y1="515" x2="158.5" y2="556" stroke="#4a2228" stroke-width="0.5"/>
<line x1="194.5" y1="515" x2="194.5" y2="555" stroke="#2a4a32" stroke-width="0.5"/>
<text x="165.6" y="504.17" font-size="7.8" text-anchor="middle" stroke="#111"><tspan font-style="italic">P</tspan> &lt; 0.01</text>
<line x1="158.5" y1="506.2" x2="175" y2="506.2" stroke="#000" stroke-width="0.9"/>
<text x="202.3" y="504.17" font-size="7.8" text-anchor="middle" stroke="#111"><tspan font-style="italic">P</tspan> &lt; 0.01</text>
<line x1="194.5" y1="506.2" x2="211.2" y2="506.2" stroke="#000" stroke-width="0.9"/>
<line x1="166.8" y1="567.5" x2="166.8" y2="569.5" stroke="#444" stroke-width="0.6"/>
<text x="166.8" y="578.44" font-size="8" text-anchor="middle" stroke="#111">NR</text>
<line x1="202.8" y1="567.5" x2="202.8" y2="569.5" stroke="#444" stroke-width="0.6"/>
<text x="202.8" y="578.44" font-size="8" text-anchor="middle" stroke="#111">RE</text>
<text x="122" y="534.64" font-size="8" text-anchor="middle" stroke="#111" transform="rotate(-90 122 531.8)">CD56<tspan baseline-shift="sub" font-size="5.5">bright</tspan> NK sig.</text>
<text x="229.3" y="509.97" font-size="7.8" stroke="#111">Condition</text>
<rect x="229.2" y="513.4" width="10.4" height="10.6" fill="#c45c6a" stroke="#5a2a2a" stroke-width="0.5"/>
<line x1="231.2" y1="516.2" x2="237.6" y2="516.2" stroke="#eab0b8" stroke-width="0.7"/>
<line x1="231.2" y1="518.7" x2="237.6" y2="518.7" stroke="#eab0b8" stroke-width="0.7"/>
<line x1="231.2" y1="521.2" x2="237.6" y2="521.2" stroke="#eab0b8" stroke-width="0.7"/>
<line x1="234.4" y1="514.4" x2="234.4" y2="523" stroke="#eab0b8" stroke-width="0.5"/>
<rect x="229.2" y="524" width="10.4" height="10.6" fill="#4a9662" stroke="#2a4a32" stroke-width="0.5"/>
<line x1="231.2" y1="526.8" x2="237.6" y2="526.8" stroke="#b8e0c2" stroke-width="0.7"/>
<line x1="231.2" y1="529.3" x2="237.6" y2="529.3" stroke="#b8e0c2" stroke-width="0.7"/>
<line x1="231.2" y1="531.8" x2="237.6" y2="531.8" stroke="#b8e0c2" stroke-width="0.7"/>
<line x1="234.4" y1="525" x2="234.4" y2="533.6" stroke="#b8e0c2" stroke-width="0.5"/>
<rect x="229.2" y="536.9" width="10.4" height="10.6" fill="#a11a2a" stroke="#5a1a1a" stroke-width="0.5"/>
<line x1="231.2" y1="539.7" x2="237.6" y2="539.7" stroke="#b03040" stroke-width="0.7"/>
<line x1="231.2" y1="542.2" x2="237.6" y2="542.2" stroke="#b03040" stroke-width="0.7"/>
<line x1="231.2" y1="544.7" x2="237.6" y2="544.7" stroke="#b03040" stroke-width="0.7"/>
<line x1="234.4" y1="537.9" x2="234.4" y2="546.5" stroke="#b03040" stroke-width="0.5"/>
<rect x="229.2" y="547.3" width="10.4" height="10.6" fill="#1e7a42" stroke="#153a25" stroke-width="0.5"/>
<line x1="231.2" y1="550.1" x2="237.6" y2="550.1" stroke="#2a8a50" stroke-width="0.7"/>
<line x1="231.2" y1="552.6" x2="237.6" y2="552.6" stroke="#2a8a50" stroke-width="0.7"/>
<line x1="231.2" y1="555.1" x2="237.6" y2="555.1" stroke="#2a8a50" stroke-width="0.7"/>
<line x1="234.4" y1="548.3" x2="234.4" y2="556.9" stroke="#2a8a50" stroke-width="0.5"/>
<text x="243" y="521.37" font-size="7.8" stroke="#111">Pre, NR</text>
<text x="243" y="531.97" font-size="7.8" stroke="#111">Pre, RE</text>
<text x="243" y="544.97" font-size="7.8" stroke="#111">Post, NR</text>
<text x="243" y="555.37" font-size="7.8" stroke="#111">Post, RE</text>
<text x="294.3" y="213.33" font-size="10.5" fill="#000" stroke="#000" font-weight="bold">E</text>
<rect x="326.5" y="217.5" width="50" height="97" fill="#fff" stroke="#9a9a9a" stroke-width="1"/>
<text x="351.35" y="213.67" font-size="7.8" text-anchor="middle" stroke="#111">Dysf GZMB</text>
<text x="351.35" y="224.37" font-size="7.8" text-anchor="middle" stroke="#111">ns</text>
<line x1="339.85" y1="238.91" x2="339.85" y2="300" stroke="#222" stroke-width="0.5"/>
<path d="M339.85 297.5 C340.28 297.5 340.65 299.58 341.15 300.5 C341.65 301.42 341.98 302.32 342.85 303 C343.72 303.68 345.18 304.17 346.35 304.6 C347.52 305.03 349.68 305.23 349.85 305.6 C350.02 305.97 348.52 306.32 347.35 306.8 C346.18 307.28 344.1 307.9 342.85 308.5 C341.6 309.1 340.85 310.4 339.85 310.4 C338.85 310.4 338.1 309.1 336.85 308.5 C335.6 307.9 333.52 307.28 332.35 306.8 C331.18 306.32 329.68 305.97 329.85 305.6 C330.02 305.23 332.18 305.03 333.35 304.6 C334.52 304.17 335.98 303.68 336.85 303 C337.72 302.32 338.05 301.42 338.55 300.5 C339.05 299.58 339.42 297.5 339.85 297.5 Z" fill="#3f1152" stroke="#111" stroke-width="0.5"/>
<circle cx="338.03" cy="238.91" r="0.6" fill="#111"/>
<circle cx="340.04" cy="298.92" r="0.6" fill="#111"/>
<circle cx="339.89" cy="299.62" r="0.6" fill="#111"/>
<circle cx="337.61" cy="277.87" r="0.6" fill="#111"/>
<circle cx="341.55" cy="278.45" r="0.6" fill="#111"/>
<circle cx="340.51" cy="290.76" r="0.6" fill="#888"/>
<circle cx="339.31" cy="268.48" r="0.6" fill="#888"/>
<circle cx="341.71" cy="300.15" r="0.6" fill="#111"/>
<circle cx="337.86" cy="295.2" r="0.6" fill="#111"/>
<circle cx="338.19" cy="252.06" r="0.6" fill="#111"/>
<circle cx="339.19" cy="264.31" r="0.6" fill="#111"/>
<circle cx="337.56" cy="299.39" r="0.6" fill="#111"/>
<circle cx="339.47" cy="261.48" r="0.6" fill="#111"/>
<circle cx="339.61" cy="267.91" r="0.6" fill="#111"/>
<circle cx="340.88" cy="253.58" r="0.6" fill="#111"/>
<circle cx="339.98" cy="268.65" r="0.6" fill="#888"/>
<circle cx="338.75" cy="258.11" r="0.6" fill="#888"/>
<circle cx="339.42" cy="296.6" r="0.6" fill="#111"/>
<circle cx="339.79" cy="294.78" r="0.6" fill="#111"/>
<circle cx="341.23" cy="262.32" r="0.6" fill="#111"/>
<circle cx="338.88" cy="247.86" r="0.6" fill="#111"/>
<circle cx="340.27" cy="267.32" r="0.6" fill="#111"/>
<circle cx="342.16" cy="250.38" r="0.6" fill="#111"/>
<circle cx="337.57" cy="262.6" r="0.6" fill="#111"/>
<circle cx="342.41" cy="263.75" r="0.6" fill="#111"/>
<circle cx="339.26" cy="287.13" r="0.6" fill="#111"/>
<circle cx="339.65" cy="301.2" r="0.6" fill="#111"/>
<circle cx="337.56" cy="296.65" r="0.6" fill="#111"/>
<circle cx="338.54" cy="296" r="0.6" fill="#111"/>
<circle cx="337.67" cy="248.15" r="0.6" fill="#111"/>
<circle cx="341.84" cy="270.32" r="0.6" fill="#111"/>
<circle cx="338.7" cy="248.67" r="0.6" fill="#111"/>
<circle cx="341.85" cy="282.6" r="0.6" fill="#888"/>
<circle cx="338.17" cy="294.84" r="0.6" fill="#111"/>
<circle cx="339.77" cy="290.17" r="0.6" fill="#111"/>
<circle cx="337.27" cy="288.44" r="0.6" fill="#111"/>
<circle cx="340.19" cy="281.94" r="0.6" fill="#888"/>
<circle cx="339.93" cy="260.79" r="0.6" fill="#111"/>
<circle cx="337.53" cy="261.77" r="0.6" fill="#888"/>
<circle cx="341.8" cy="254.59" r="0.6" fill="#111"/>
<circle cx="339.32" cy="280.49" r="0.6" fill="#111"/>
<circle cx="337.57" cy="264.63" r="0.6" fill="#111"/>
<circle cx="338.09" cy="291.59" r="0.6" fill="#111"/>
<circle cx="337.25" cy="299.87" r="0.6" fill="#111"/>
<circle cx="339.14" cy="297.46" r="0.6" fill="#111"/>
<circle cx="340.44" cy="247.94" r="0.6" fill="#111"/>
<circle cx="339.06" cy="289.06" r="0.6" fill="#111"/>
<circle cx="341.66" cy="296.35" r="0.6" fill="#888"/>
<circle cx="339.77" cy="275.79" r="0.6" fill="#111"/>
<circle cx="339.03" cy="297.43" r="0.6" fill="#111"/>
<circle cx="338.09" cy="251.16" r="0.6" fill="#111"/>
<circle cx="340" cy="242.45" r="0.6" fill="#111"/>
<circle cx="337.39" cy="270.73" r="0.6" fill="#111"/>
<circle cx="341.74" cy="240.47" r="0.6" fill="#111"/>
<circle cx="339.16" cy="288.54" r="0.6" fill="#111"/>
<circle cx="340.02" cy="255.15" r="0.6" fill="#111"/>
<circle cx="338.41" cy="284.39" r="0.6" fill="#111"/>
<circle cx="341.68" cy="240" r="0.6" fill="#111"/>
<circle cx="341.1" cy="251.9" r="0.6" fill="#111"/>
<circle cx="339.1" cy="272.42" r="0.6" fill="#111"/>
<circle cx="338.7" cy="300.98" r="0.6" fill="#111"/>
<circle cx="342.22" cy="260.65" r="0.6" fill="#111"/>
<circle cx="342.39" cy="243.46" r="0.6" fill="#888"/>
<circle cx="338.4" cy="282.23" r="0.6" fill="#111"/>
<circle cx="338.31" cy="292.28" r="0.6" fill="#111"/>
<circle cx="341.62" cy="246.09" r="0.6" fill="#111"/>
<circle cx="341.41" cy="263.36" r="0.6" fill="#111"/>
<circle cx="341.98" cy="262.84" r="0.6" fill="#111"/>
<circle cx="339.74" cy="256.67" r="0.6" fill="#111"/>
<circle cx="338.98" cy="253.95" r="0.6" fill="#111"/>
<circle cx="339.31" cy="240.96" r="0.6" fill="#111"/>
<circle cx="341.02" cy="242.75" r="0.6" fill="#111"/>
<circle cx="338.04" cy="296.12" r="0.6" fill="#888"/>
<circle cx="338.01" cy="252.73" r="0.6" fill="#111"/>
<circle cx="340.67" cy="240.34" r="0.6" fill="#111"/>
<circle cx="337.93" cy="270.37" r="0.6" fill="#111"/>
<circle cx="340.63" cy="241.02" r="0.6" fill="#111"/>
<circle cx="339.51" cy="243.7" r="0.6" fill="#888"/>
<circle cx="338.35" cy="251.35" r="0.6" fill="#111"/>
<circle cx="338.5" cy="286.63" r="0.6" fill="#111"/>
<circle cx="339.43" cy="288.64" r="0.6" fill="#111"/>
<circle cx="339.09" cy="245.39" r="0.6" fill="#111"/>
<circle cx="341.95" cy="268.06" r="0.6" fill="#111"/>
<circle cx="339.86" cy="244.84" r="0.6" fill="#111"/>
<circle cx="337.35" cy="272.03" r="0.6" fill="#111"/>
<circle cx="337.27" cy="293.05" r="0.6" fill="#111"/>
<circle cx="339.71" cy="293.65" r="0.6" fill="#111"/>
<circle cx="338.95" cy="269.85" r="0.6" fill="#111"/>
<circle cx="341.33" cy="269.92" r="0.6" fill="#111"/>
<circle cx="338.54" cy="269.6" r="0.6" fill="#111"/>
<circle cx="339.89" cy="255.13" r="0.6" fill="#111"/>
<circle cx="341.99" cy="255.99" r="0.6" fill="#111"/>
<circle cx="339.88" cy="266.1" r="0.6" fill="#111"/>
<circle cx="339.6" cy="260.64" r="0.6" fill="#111"/>
<circle cx="342.15" cy="275" r="0.6" fill="#111"/>
<circle cx="342.15" cy="247.78" r="0.6" fill="#111"/>
<circle cx="342.15" cy="269.65" r="0.6" fill="#111"/>
<circle cx="337.88" cy="295.58" r="0.6" fill="#111"/>
<circle cx="338.5" cy="298.92" r="0.6" fill="#111"/>
<circle cx="341.33" cy="262.23" r="0.6" fill="#888"/>
<circle cx="340.97" cy="294.64" r="0.6" fill="#111"/>
<circle cx="341.84" cy="295.27" r="0.6" fill="#888"/>
<circle cx="342.2" cy="290.97" r="0.6" fill="#111"/>
<circle cx="342.4" cy="274.4" r="0.6" fill="#111"/>
<circle cx="339.49" cy="294.26" r="0.6" fill="#111"/>
<circle cx="338.27" cy="283.81" r="0.6" fill="#111"/>
<circle cx="337.35" cy="258.61" r="0.6" fill="#111"/>
<circle cx="337.34" cy="277.43" r="0.6" fill="#111"/>
<circle cx="339.91" cy="265.33" r="0.6" fill="#111"/>
<circle cx="341.35" cy="239.99" r="0.6" fill="#888"/>
<circle cx="338.63" cy="297.29" r="0.6" fill="#111"/>
<circle cx="338.66" cy="254.66" r="0.6" fill="#111"/>
<circle cx="341.99" cy="278.6" r="0.6" fill="#111"/>
<circle cx="338.03" cy="288.68" r="0.6" fill="#888"/>
<circle cx="340.89" cy="268.91" r="0.6" fill="#111"/>
<circle cx="340.83" cy="299.64" r="0.6" fill="#111"/>
<circle cx="342.13" cy="298.92" r="0.6" fill="#111"/>
<circle cx="337.69" cy="253.08" r="0.6" fill="#888"/>
<circle cx="341.74" cy="299.21" r="0.6" fill="#111"/>
<circle cx="340.13" cy="283.81" r="0.6" fill="#888"/>
<circle cx="337.92" cy="288.14" r="0.6" fill="#111"/>
<circle cx="337.82" cy="289.87" r="0.6" fill="#111"/>
<circle cx="338.3" cy="299.98" r="0.6" fill="#111"/>
<circle cx="341.2" cy="285.9" r="0.6" fill="#111"/>
<circle cx="338.18" cy="273.57" r="0.6" fill="#111"/>
<circle cx="338.55" cy="301.38" r="0.6" fill="#111"/>
<circle cx="340.12" cy="257.86" r="0.6" fill="#111"/>
<circle cx="342.11" cy="275.22" r="0.6" fill="#111"/>
<circle cx="339.5" cy="251.86" r="0.6" fill="#111"/>
<circle cx="339.29" cy="250.75" r="0.6" fill="#111"/>
<circle cx="342.36" cy="260.98" r="0.6" fill="#111"/>
<circle cx="340.92" cy="250.92" r="0.6" fill="#111"/>
<circle cx="339.06" cy="279.71" r="0.6" fill="#111"/>
<circle cx="337.62" cy="295.98" r="0.6" fill="#111"/>
<circle cx="338.1" cy="288.86" r="0.6" fill="#111"/>
<circle cx="341.78" cy="250.28" r="0.6" fill="#111"/>
<circle cx="338.51" cy="287.29" r="0.6" fill="#111"/>
<circle cx="338.07" cy="276.21" r="0.6" fill="#111"/>
<circle cx="342.25" cy="288.41" r="0.6" fill="#888"/>
<circle cx="338.52" cy="270.47" r="0.6" fill="#888"/>
<circle cx="339.1" cy="285.63" r="0.6" fill="#111"/>
<circle cx="339.72" cy="281.17" r="0.6" fill="#111"/>
<circle cx="339.87" cy="292.04" r="0.6" fill="#111"/>
<circle cx="337.72" cy="288.35" r="0.6" fill="#111"/>
<circle cx="337.37" cy="300.37" r="0.6" fill="#111"/>
<circle cx="340.3" cy="290.2" r="0.6" fill="#111"/>
<circle cx="340.67" cy="256.64" r="0.6" fill="#111"/>
<circle cx="339.28" cy="247.6" r="0.6" fill="#111"/>
<circle cx="338.03" cy="240.02" r="0.6" fill="#111"/>
<circle cx="337.48" cy="264.02" r="0.6" fill="#111"/>
<circle cx="340.51" cy="246.68" r="0.6" fill="#111"/>
<circle cx="337.97" cy="252.33" r="0.6" fill="#111"/>
<circle cx="341.59" cy="273.29" r="0.6" fill="#111"/>
<circle cx="340.29" cy="251.33" r="0.6" fill="#888"/>
<circle cx="340.86" cy="261.31" r="0.6" fill="#111"/>
<circle cx="337.94" cy="300.84" r="0.6" fill="#111"/>
<circle cx="341.6" cy="297.29" r="0.6" fill="#111"/>
<circle cx="340.51" cy="265.07" r="0.6" fill="#111"/>
<circle cx="337.27" cy="274.27" r="0.6" fill="#111"/>
<circle cx="339.87" cy="256.8" r="0.6" fill="#111"/>
<circle cx="337.59" cy="262.93" r="0.6" fill="#111"/>
<circle cx="337.64" cy="289.06" r="0.6" fill="#111"/>
<circle cx="338.32" cy="258.12" r="0.6" fill="#111"/>
<circle cx="339.82" cy="240.67" r="0.6" fill="#111"/>
<circle cx="340.81" cy="274.94" r="0.6" fill="#111"/>
<circle cx="340.59" cy="265.8" r="0.6" fill="#111"/>
<circle cx="338.57" cy="295.03" r="0.6" fill="#111"/>
<circle cx="340.2" cy="285.94" r="0.6" fill="#111"/>
<circle cx="338.65" cy="299.49" r="0.6" fill="#111"/>
<circle cx="340.76" cy="260.68" r="0.6" fill="#111"/>
<line x1="362.4" y1="220.71" x2="362.4" y2="300" stroke="#222" stroke-width="0.5"/>
<path d="M362.4 297.5 C362.83 297.5 363.2 299.58 363.7 300.5 C364.2 301.42 364.53 302.32 365.4 303 C366.27 303.68 367.73 304.17 368.9 304.6 C370.07 305.03 372.23 305.23 372.4 305.6 C372.57 305.97 371.07 306.32 369.9 306.8 C368.73 307.28 366.65 307.9 365.4 308.5 C364.15 309.1 363.4 310.4 362.4 310.4 C361.4 310.4 360.65 309.1 359.4 308.5 C358.15 307.9 356.07 307.28 354.9 306.8 C353.73 306.32 352.23 305.97 352.4 305.6 C352.57 305.23 354.73 305.03 355.9 304.6 C357.07 304.17 358.53 303.68 359.4 303 C360.27 302.32 360.6 301.42 361.1 300.5 C361.6 299.58 361.97 297.5 362.4 297.5 Z" fill="#3f1152" stroke="#111" stroke-width="0.5"/>
<circle cx="362.22" cy="220.71" r="0.6" fill="#111"/>
<circle cx="364.45" cy="299.84" r="0.6" fill="#111"/>
<circle cx="364.67" cy="223.71" r="0.6" fill="#111"/>
<circle cx="364.06" cy="280.37" r="0.6" fill="#888"/>
<circle cx="361.2" cy="281.13" r="0.6" fill="#111"/>
<circle cx="360.9" cy="228.08" r="0.6" fill="#111"/>
<circle cx="362.53" cy="299.07" r="0.6" fill="#888"/>
<circle cx="364.07" cy="299.39" r="0.6" fill="#111"/>
<circle cx="363.46" cy="235.72" r="0.6" fill="#111"/>
<circle cx="362.33" cy="234.33" r="0.6" fill="#111"/>
<circle cx="362.36" cy="302" r="0.6" fill="#111"/>
<circle cx="360.53" cy="291.39" r="0.6" fill="#111"/>
<circle cx="364.17" cy="290.53" r="0.6" fill="#111"/>
<circle cx="364.16" cy="252.07" r="0.6" fill="#111"/>
<circle cx="363.51" cy="230.62" r="0.6" fill="#888"/>
<circle cx="361.74" cy="292.1" r="0.6" fill="#111"/>
<circle cx="362.86" cy="220.88" r="0.6" fill="#111"/>
<circle cx="361.23" cy="282.79" r="0.6" fill="#111"/>
<circle cx="364.14" cy="300.34" r="0.6" fill="#111"/>
<circle cx="361.1" cy="229.41" r="0.6" fill="#111"/>
<circle cx="360.79" cy="276.04" r="0.6" fill="#111"/>
<circle cx="364.4" cy="226.67" r="0.6" fill="#111"/>
<circle cx="364.55" cy="264.85" r="0.6" fill="#888"/>
<circle cx="363.54" cy="272.65" r="0.6" fill="#111"/>
<circle cx="362.14" cy="254.13" r="0.6" fill="#111"/>
<circle cx="361.29" cy="263.48" r="0.6" fill="#111"/>
<circle cx="360.46" cy="230.57" r="0.6" fill="#111"/>
<circle cx="361.35" cy="288.78" r="0.6" fill="#111"/>
<circle cx="361.15" cy="223.96" r="0.6" fill="#111"/>
<circle cx="362.7" cy="291.46" r="0.6" fill="#111"/>
<circle cx="360.64" cy="298.11" r="0.6" fill="#111"/>
<circle cx="362.38" cy="233.27" r="0.6" fill="#111"/>
<circle cx="364.98" cy="233.23" r="0.6" fill="#111"/>
<circle cx="360.8" cy="299.15" r="0.6" fill="#111"/>
<circle cx="360.27" cy="288.89" r="0.6" fill="#111"/>
<circle cx="362.76" cy="293.86" r="0.6" fill="#888"/>
<circle cx="361.95" cy="252.19" r="0.6" fill="#111"/>
<circle cx="361.76" cy="274.89" r="0.6" fill="#111"/>
<circle cx="361.24" cy="301.29" r="0.6" fill="#888"/>
<circle cx="362.42" cy="299.61" r="0.6" fill="#111"/>
<circle cx="360.92" cy="238.74" r="0.6" fill="#111"/>
<circle cx="361.88" cy="294.39" r="0.6" fill="#111"/>
<circle cx="364.21" cy="226.97" r="0.6" fill="#888"/>
<circle cx="359.97" cy="301.88" r="0.6" fill="#111"/>
<circle cx="362.26" cy="234.59" r="0.6" fill="#111"/>
<circle cx="361.84" cy="302.01" r="0.6" fill="#888"/>
<circle cx="364.25" cy="243.31" r="0.6" fill="#888"/>
<circle cx="360.37" cy="294.38" r="0.6" fill="#111"/>
<circle cx="363.35" cy="275.05" r="0.6" fill="#888"/>
<circle cx="363.17" cy="255.31" r="0.6" fill="#111"/>
<circle cx="362.67" cy="280.51" r="0.6" fill="#111"/>
<circle cx="361.01" cy="248.45" r="0.6" fill="#888"/>
<circle cx="361.38" cy="263.38" r="0.6" fill="#111"/>
<circle cx="363.11" cy="294.21" r="0.6" fill="#111"/>
<circle cx="360.17" cy="300.04" r="0.6" fill="#111"/>
<circle cx="361.82" cy="269.53" r="0.6" fill="#111"/>
<circle cx="359.85" cy="267.79" r="0.6" fill="#111"/>
<circle cx="364.79" cy="280.24" r="0.6" fill="#111"/>
<circle cx="362.27" cy="236.11" r="0.6" fill="#111"/>
<circle cx="364.8" cy="294.46" r="0.6" fill="#111"/>
<circle cx="359.91" cy="291.06" r="0.6" fill="#111"/>
<circle cx="361.98" cy="260.39" r="0.6" fill="#111"/>
<circle cx="364.61" cy="261.13" r="0.6" fill="#111"/>
<circle cx="361.56" cy="301.75" r="0.6" fill="#111"/>
<circle cx="360.83" cy="259.53" r="0.6" fill="#111"/>
<circle cx="362.43" cy="253.38" r="0.6" fill="#111"/>
<circle cx="361.42" cy="224.83" r="0.6" fill="#111"/>
<circle cx="360.95" cy="295.28" r="0.6" fill="#111"/>
<circle cx="364.75" cy="291.81" r="0.6" fill="#111"/>
<circle cx="360.96" cy="297.29" r="0.6" fill="#111"/>
<circle cx="364.73" cy="261.34" r="0.6" fill="#111"/>
<circle cx="360.91" cy="285.36" r="0.6" fill="#888"/>
<circle cx="360.07" cy="299.07" r="0.6" fill="#111"/>
<circle cx="364.47" cy="285.37" r="0.6" fill="#888"/>
<circle cx="364.99" cy="254.09" r="0.6" fill="#888"/>
<circle cx="360.76" cy="289.71" r="0.6" fill="#888"/>
<circle cx="359.97" cy="252.57" r="0.6" fill="#111"/>
<circle cx="361.74" cy="286.41" r="0.6" fill="#111"/>
<circle cx="359.81" cy="298.04" r="0.6" fill="#111"/>
<circle cx="364.77" cy="288.26" r="0.6" fill="#111"/>
<circle cx="360.88" cy="225.58" r="0.6" fill="#111"/>
<circle cx="364.07" cy="243.8" r="0.6" fill="#111"/>
<circle cx="362.26" cy="301.52" r="0.6" fill="#111"/>
<circle cx="360.8" cy="231.52" r="0.6" fill="#111"/>
<circle cx="359.96" cy="234.43" r="0.6" fill="#111"/>
<circle cx="363.79" cy="244.97" r="0.6" fill="#111"/>
<circle cx="360.13" cy="301.74" r="0.6" fill="#888"/>
<circle cx="363.69" cy="293.93" r="0.6" fill="#888"/>
<circle cx="361.22" cy="289.08" r="0.6" fill="#888"/>
<circle cx="361.16" cy="266.23" r="0.6" fill="#111"/>
<circle cx="361.23" cy="290.51" r="0.6" fill="#111"/>
<circle cx="364.57" cy="251.51" r="0.6" fill="#111"/>
<circle cx="359.93" cy="228.39" r="0.6" fill="#111"/>
<circle cx="364.78" cy="279.06" r="0.6" fill="#888"/>
<circle cx="361.11" cy="285.85" r="0.6" fill="#111"/>
<circle cx="364.63" cy="277.54" r="0.6" fill="#111"/>
<circle cx="363.64" cy="246.07" r="0.6" fill="#111"/>
<circle cx="362.96" cy="249.55" r="0.6" fill="#111"/>
<circle cx="361.68" cy="290.32" r="0.6" fill="#111"/>
<circle cx="360.83" cy="300.92" r="0.6" fill="#111"/>
<circle cx="360.14" cy="294.45" r="0.6" fill="#111"/>
<circle cx="361.49" cy="272.35" r="0.6" fill="#888"/>
<circle cx="364.94" cy="236.15" r="0.6" fill="#111"/>
<circle cx="360.3" cy="300.8" r="0.6" fill="#111"/>
<circle cx="362.12" cy="256.61" r="0.6" fill="#111"/>
<circle cx="363.03" cy="283.64" r="0.6" fill="#111"/>
<circle cx="364.2" cy="252.38" r="0.6" fill="#111"/>
<circle cx="364.17" cy="299.76" r="0.6" fill="#111"/>
<circle cx="361.74" cy="271.03" r="0.6" fill="#111"/>
<circle cx="361.09" cy="296.77" r="0.6" fill="#111"/>
<line x1="339.85" y1="314.6" x2="339.85" y2="316.6" stroke="#444" stroke-width="0.6"/>
<text x="339.85" y="324.44" font-size="8" text-anchor="middle" stroke="#111">Pre</text>
<line x1="362.4" y1="314.6" x2="362.4" y2="316.6" stroke="#444" stroke-width="0.6"/>
<text x="362.4" y="324.44" font-size="8" text-anchor="middle" stroke="#111">Post</text>
<rect x="378.5" y="217.5" width="49" height="97" fill="#fff" stroke="#9a9a9a" stroke-width="1"/>
<text x="403.3" y="213.67" font-size="7.8" text-anchor="middle" stroke="#111">Naive-like CD8</text>
<text x="403.3" y="224.37" font-size="7.8" text-anchor="middle" stroke="#111">ns</text>
<line x1="392.3" y1="273.49" x2="392.3" y2="300" stroke="#222" stroke-width="0.5"/>
<path d="M392.3 297.5 C392.73 297.5 393.1 299.58 393.6 300.5 C394.1 301.42 394.43 302.32 395.3 303 C396.17 303.68 397.63 304.17 398.8 304.6 C399.97 305.03 402.13 305.23 402.3 305.6 C402.47 305.97 400.97 306.32 399.8 306.8 C398.63 307.28 396.55 307.9 395.3 308.5 C394.05 309.1 393.3 310.4 392.3 310.4 C391.3 310.4 390.55 309.1 389.3 308.5 C388.05 307.9 385.97 307.28 384.8 306.8 C383.63 306.32 382.13 305.97 382.3 305.6 C382.47 305.23 384.63 305.03 385.8 304.6 C386.97 304.17 388.43 303.68 389.3 303 C390.17 302.32 390.5 301.42 391 300.5 C391.5 299.58 391.87 297.5 392.3 297.5 Z" fill="#f47b78" stroke="#111" stroke-width="0.5"/>
<circle cx="392.55" cy="273.49" r="0.6" fill="#111"/>
<circle cx="392.32" cy="292.17" r="0.6" fill="#111"/>
<circle cx="393.87" cy="280.28" r="0.6" fill="#111"/>
<circle cx="393.39" cy="290.23" r="0.6" fill="#888"/>
<circle cx="390.69" cy="302.5" r="0.6" fill="#888"/>
<circle cx="391.89" cy="287.29" r="0.6" fill="#888"/>
<circle cx="394.62" cy="298.5" r="0.6" fill="#111"/>
<circle cx="391.4" cy="286.92" r="0.6" fill="#111"/>
<circle cx="392.82" cy="301.67" r="0.6" fill="#111"/>
<circle cx="393.23" cy="301.23" r="0.6" fill="#111"/>
<circle cx="392.55" cy="298.39" r="0.6" fill="#111"/>
<circle cx="393.02" cy="299.88" r="0.6" fill="#111"/>
<circle cx="392.01" cy="296.72" r="0.6" fill="#111"/>
<circle cx="391.7" cy="294.12" r="0.6" fill="#111"/>
<line x1="414.3" y1="260.14" x2="414.3" y2="300" stroke="#222" stroke-width="0.5"/>
<path d="M414.3 297.5 C414.73 297.5 415.1 299.58 415.6 300.5 C416.1 301.42 416.43 302.32 417.3 303 C418.17 303.68 419.63 304.17 420.8 304.6 C421.97 305.03 424.13 305.23 424.3 305.6 C424.47 305.97 422.97 306.32 421.8 306.8 C420.63 307.28 418.55 307.9 417.3 308.5 C416.05 309.1 415.3 310.4 414.3 310.4 C413.3 310.4 412.55 309.1 411.3 308.5 C410.05 307.9 407.97 307.28 406.8 306.8 C405.63 306.32 404.13 305.97 404.3 305.6 C404.47 305.23 406.63 305.03 407.8 304.6 C408.97 304.17 410.43 303.68 411.3 303 C412.17 302.32 412.5 301.42 413 300.5 C413.5 299.58 413.87 297.5 414.3 297.5 Z" fill="#f47b78" stroke="#111" stroke-width="0.5"/>
<circle cx="416.88" cy="260.14" r="0.6" fill="#111"/>
<circle cx="413.35" cy="295.02" r="0.6" fill="#111"/>
<circle cx="413.81" cy="298.24" r="0.6" fill="#888"/>
<circle cx="414.57" cy="303.13" r="0.6" fill="#111"/>
<circle cx="413.63" cy="299.44" r="0.6" fill="#111"/>
<circle cx="416.51" cy="300.06" r="0.6" fill="#111"/>
<circle cx="415.79" cy="285.24" r="0.6" fill="#111"/>
<circle cx="415.82" cy="296.64" r="0.6" fill="#111"/>
<circle cx="413.94" cy="297.89" r="0.6" fill="#888"/>
<circle cx="413.21" cy="279.69" r="0.6" fill="#111"/>
<circle cx="416.01" cy="298.08" r="0.6" fill="#111"/>
<circle cx="413.69" cy="300.08" r="0.6" fill="#111"/>
<circle cx="415.57" cy="293.67" r="0.6" fill="#111"/>
<circle cx="412.82" cy="282.25" r="0.6" fill="#111"/>
<line x1="392.3" y1="314.6" x2="392.3" y2="316.6" stroke="#444" stroke-width="0.6"/>
<text x="392.3" y="324.44" font-size="8" text-anchor="middle" stroke="#111">Pre</text>
<line x1="414.3" y1="314.6" x2="414.3" y2="316.6" stroke="#444" stroke-width="0.6"/>
<text x="414.3" y="324.44" font-size="8" text-anchor="middle" stroke="#111">Post</text>
<rect x="431.5" y="217.5" width="49" height="97" fill="#fff" stroke="#9a9a9a" stroke-width="1"/>
<text x="455.95" y="213.67" font-size="7.8" text-anchor="middle" stroke="#111">Transitional</text>
<text x="455.95" y="224.37" font-size="7.8" text-anchor="middle" stroke="#111">ns</text>
<line x1="444.6" y1="264.39" x2="444.6" y2="300" stroke="#222" stroke-width="0.5"/>
<path d="M444.6 297.5 C445.03 297.5 445.4 299.58 445.9 300.5 C446.4 301.42 446.73 302.32 447.6 303 C448.47 303.68 449.93 304.17 451.1 304.6 C452.27 305.03 454.43 305.23 454.6 305.6 C454.77 305.97 453.27 306.32 452.1 306.8 C450.93 307.28 448.85 307.9 447.6 308.5 C446.35 309.1 445.6 310.4 444.6 310.4 C443.6 310.4 442.85 309.1 441.6 308.5 C440.35 307.9 438.27 307.28 437.1 306.8 C435.93 306.32 434.43 305.97 434.6 305.6 C434.77 305.23 436.93 305.03 438.1 304.6 C439.27 304.17 440.73 303.68 441.6 303 C442.47 302.32 442.8 301.42 443.3 300.5 C443.8 299.58 444.17 297.5 444.6 297.5 Z" fill="#c9a0d0" stroke="#111" stroke-width="0.5"/>
<circle cx="445.26" cy="264.39" r="0.6" fill="#111"/>
<circle cx="445.43" cy="300.64" r="0.6" fill="#111"/>
<circle cx="444.55" cy="299.46" r="0.6" fill="#111"/>
<circle cx="444.47" cy="275.7" r="0.6" fill="#111"/>
<circle cx="444.24" cy="302.44" r="0.6" fill="#111"/>
<circle cx="445.31" cy="302.97" r="0.6" fill="#111"/>
<circle cx="444.64" cy="277.02" r="0.6" fill="#111"/>
<circle cx="442.71" cy="297.45" r="0.6" fill="#888"/>
<circle cx="445.61" cy="264.59" r="0.6" fill="#111"/>
<circle cx="446.76" cy="297.42" r="0.6" fill="#111"/>
<circle cx="443.21" cy="274.58" r="0.6" fill="#111"/>
<circle cx="443.43" cy="297.78" r="0.6" fill="#111"/>
<circle cx="443.08" cy="297.64" r="0.6" fill="#111"/>
<circle cx="442.95" cy="303" r="0.6" fill="#111"/>
<circle cx="445.87" cy="267.58" r="0.6" fill="#111"/>
<circle cx="445.31" cy="300" r="0.6" fill="#111"/>
<circle cx="446.59" cy="299.7" r="0.6" fill="#111"/>
<circle cx="444.26" cy="264.75" r="0.6" fill="#111"/>
<circle cx="444.85" cy="293.74" r="0.6" fill="#111"/>
<circle cx="445.87" cy="302.15" r="0.6" fill="#111"/>
<circle cx="447.12" cy="299.34" r="0.6" fill="#111"/>
<circle cx="442.18" cy="303.21" r="0.6" fill="#111"/>
<line x1="466.6" y1="258.93" x2="466.6" y2="300" stroke="#222" stroke-width="0.5"/>
<path d="M466.6 297.5 C467.03 297.5 467.4 299.58 467.9 300.5 C468.4 301.42 468.73 302.32 469.6 303 C470.47 303.68 471.93 304.17 473.1 304.6 C474.27 305.03 476.43 305.23 476.6 305.6 C476.77 305.97 475.27 306.32 474.1 306.8 C472.93 307.28 470.85 307.9 469.6 308.5 C468.35 309.1 467.6 310.4 466.6 310.4 C465.6 310.4 464.85 309.1 463.6 308.5 C462.35 307.9 460.27 307.28 459.1 306.8 C457.93 306.32 456.43 305.97 456.6 305.6 C456.77 305.23 458.93 305.03 460.1 304.6 C461.27 304.17 462.73 303.68 463.6 303 C464.47 302.32 464.8 301.42 465.3 300.5 C465.8 299.58 466.17 297.5 466.6 297.5 Z" fill="#c9a0d0" stroke="#111" stroke-width="0.5"/>
<circle cx="468.66" cy="258.93" r="0.6" fill="#111"/>
<circle cx="465.07" cy="294.09" r="0.6" fill="#111"/>
<circle cx="465.17" cy="301.05" r="0.6" fill="#111"/>
<circle cx="466.47" cy="299.43" r="0.6" fill="#111"/>
<circle cx="464.5" cy="302.31" r="0.6" fill="#111"/>
<circle cx="466.29" cy="266.29" r="0.6" fill="#111"/>
<circle cx="466.8" cy="298.32" r="0.6" fill="#111"/>
<circle cx="467.81" cy="297.53" r="0.6" fill="#111"/>
<circle cx="466.11" cy="299.99" r="0.6" fill="#111"/>
<circle cx="465.04" cy="297.81" r="0.6" fill="#111"/>
<circle cx="467.16" cy="302.01" r="0.6" fill="#111"/>
<circle cx="465.56" cy="278.1" r="0.6" fill="#111"/>
<circle cx="468.07" cy="297.82" r="0.6" fill="#111"/>
<circle cx="467.38" cy="298.35" r="0.6" fill="#111"/>
<circle cx="464.55" cy="301.85" r="0.6" fill="#111"/>
<circle cx="467.61" cy="298.67" r="0.6" fill="#111"/>
<circle cx="466.27" cy="299.86" r="0.6" fill="#111"/>
<circle cx="469.02" cy="299.32" r="0.6" fill="#111"/>
<circle cx="465.23" cy="301.64" r="0.6" fill="#111"/>
<circle cx="466.05" cy="262.16" r="0.6" fill="#888"/>
<circle cx="467.28" cy="297.71" r="0.6" fill="#111"/>
<circle cx="466.5" cy="276.97" r="0.6" fill="#111"/>
<circle cx="466.4" cy="275.39" r="0.6" fill="#111"/>
<circle cx="467.24" cy="301.93" r="0.6" fill="#111"/>
<circle cx="464.55" cy="303.06" r="0.6" fill="#888"/>
<circle cx="464.22" cy="303.05" r="0.6" fill="#111"/>
<line x1="444.6" y1="314.6" x2="444.6" y2="316.6" stroke="#444" stroke-width="0.6"/>
<text x="444.6" y="324.44" font-size="8" text-anchor="middle" stroke="#111">Pre</text>
<line x1="466.6" y1="314.6" x2="466.6" y2="316.6" stroke="#444" stroke-width="0.6"/>
<text x="466.6" y="324.44" font-size="8" text-anchor="middle" stroke="#111">Post</text>
<line x1="324.5" y1="310.5" x2="326.5" y2="310.5" stroke="#444" stroke-width="0.6"/>
<text x="323.5" y="313.34" font-size="8" text-anchor="end" stroke="#111">0.00</text>
<line x1="324.5" y1="280.17" x2="326.5" y2="280.17" stroke="#444" stroke-width="0.6"/>
<text x="323.5" y="283" font-size="8" text-anchor="end" stroke="#111">0.05</text>
<line x1="324.5" y1="249.83" x2="326.5" y2="249.83" stroke="#444" stroke-width="0.6"/>
<text x="323.5" y="252.67" font-size="8" text-anchor="end" stroke="#111">0.10</text>
<line x1="324.5" y1="219.5" x2="326.5" y2="219.5" stroke="#444" stroke-width="0.6"/>
<text x="323.5" y="222.34" font-size="8" text-anchor="end" stroke="#111">0.15</text>
<text x="299.7" y="267.67" font-size="7.8" text-anchor="middle" stroke="#111" transform="rotate(-90 299.7 264.9)">Log<tspan baseline-shift="sub" font-size="5.5">2</tspan>(cell-cycle related +1)</text>
<text x="299.6" y="355.53" font-size="10.5" fill="#000" stroke="#000" font-weight="bold">F</text>
<text x="336.9" y="356.26" font-size="8.05" stroke="#111">Top clones: Transitional CD8<tspan baseline-shift="super" font-size="5.4">+</tspan> T cells</text>
<text x="364.9" y="367.77" font-size="7.8" text-anchor="middle" stroke="#111">Responders</text>
<text x="448.6" y="368.17" font-size="7.8" text-anchor="middle" stroke="#111">Nonresponders</text>
<rect x="354.5" y="370.5" width="21" height="185" fill="#fff" stroke="#9a9a9a" stroke-width="1"/>
<line x1="352" y1="378.4" x2="354" y2="378.4" stroke="#444" stroke-width="0.6"/>
<text x="348.6" y="381.24" font-size="8" text-anchor="end" stroke="#111">IMC-39_11904</text>
<circle cx="364.85" cy="378.4" r="4.2" fill="#f8e4e0" stroke="#444" stroke-width="0.75"/>
<line x1="352" y1="390.55" x2="354" y2="390.55" stroke="#444" stroke-width="0.6"/>
<text x="348.6" y="393.39" font-size="8" text-anchor="end" stroke="#111">IMC-39_3429</text>
<circle cx="364.85" cy="390.55" r="2.8" fill="#d9776e" stroke="#444" stroke-width="0.75"/>
<line x1="352" y1="402.7" x2="354" y2="402.7" stroke="#444" stroke-width="0.6"/>
<text x="348.6" y="405.54" font-size="8" text-anchor="end" stroke="#111">IMC-21_5549</text>
<circle cx="364.85" cy="402.7" r="3.3" fill="#dcd4ec" stroke="#444" stroke-width="0.75"/>
<line x1="352" y1="414.85" x2="354" y2="414.85" stroke="#444" stroke-width="0.6"/>
<text x="348.6" y="417.69" font-size="8" text-anchor="end" stroke="#111">IMC-15_7568</text>
<circle cx="364.85" cy="414.85" r="3.3" fill="#fbf0ee" stroke="#444" stroke-width="0.75"/>
<line x1="352" y1="427" x2="354" y2="427" stroke="#444" stroke-width="0.6"/>
<text x="348.6" y="429.84" font-size="8" text-anchor="end" stroke="#111">IMC-29_12193</text>
<circle cx="364.85" cy="427" r="3.3" fill="#ffffff" stroke="#444" stroke-width="0.75"/>
<line x1="352" y1="439.15" x2="354" y2="439.15" stroke="#444" stroke-width="0.6"/>
<text x="348.6" y="441.99" font-size="8" text-anchor="end" stroke="#111">IMC-39_4274</text>
<circle cx="364.85" cy="439.15" r="3.2" fill="#f5dcd4" stroke="#444" stroke-width="0.75"/>
<line x1="352" y1="451.3" x2="354" y2="451.3" stroke="#444" stroke-width="0.6"/>
<text x="348.6" y="454.14" font-size="8" text-anchor="end" stroke="#111">IMC-29_3150</text>
<circle cx="364.85" cy="451.3" r="2.5" fill="#f5e0da" stroke="#444" stroke-width="0.75"/>
<line x1="352" y1="463.45" x2="354" y2="463.45" stroke="#444" stroke-width="0.6"/>
<text x="348.6" y="466.29" font-size="8" text-anchor="end" stroke="#111">IMC-17_7865</text>
<circle cx="364.85" cy="463.45" r="2.2" fill="#c8c4e4" stroke="#444" stroke-width="0.75"/>
<line x1="352" y1="475.6" x2="354" y2="475.6" stroke="#444" stroke-width="0.6"/>
<text x="348.6" y="478.44" font-size="8" text-anchor="end" stroke="#111">IMC-17_5359</text>
<circle cx="364.85" cy="475.6" r="2.8" fill="#f7ebe6" stroke="#444" stroke-width="0.75"/>
<line x1="352" y1="487.75" x2="354" y2="487.75" stroke="#444" stroke-width="0.6"/>
<text x="348.6" y="490.59" font-size="8" text-anchor="end" stroke="#111">IMC-29_2645</text>
<circle cx="364.85" cy="487.75" r="3" fill="#ffffff" stroke="#444" stroke-width="0.75"/>
<line x1="352" y1="499.9" x2="354" y2="499.9" stroke="#444" stroke-width="0.6"/>
<text x="348.6" y="502.74" font-size="8" text-anchor="end" stroke="#111">IMC-39_4568</text>
<circle cx="364.85" cy="499.9" r="3" fill="#f0d0cc" stroke="#444" stroke-width="0.75"/>
<line x1="352" y1="512.05" x2="354" y2="512.05" stroke="#444" stroke-width="0.6"/>
<text x="348.6" y="514.89" font-size="8" text-anchor="end" stroke="#111">IMC-39_6698</text>
<circle cx="364.85" cy="512.05" r="2.2" fill="#c86060" stroke="#444" stroke-width="0.75"/>
<line x1="352" y1="524.2" x2="354" y2="524.2" stroke="#444" stroke-width="0.6"/>
<text x="348.6" y="527.04" font-size="8" text-anchor="end" stroke="#111">IMC-15_11264</text>
<circle cx="364.85" cy="524.2" r="2.5" fill="#e8e0f2" stroke="#444" stroke-width="0.75"/>
<line x1="352" y1="536.35" x2="354" y2="536.35" stroke="#444" stroke-width="0.6"/>
<text x="348.6" y="539.19" font-size="8" text-anchor="end" stroke="#111">IMC-17_1548</text>
<circle cx="364.85" cy="536.35" r="2.8" fill="#ffffff" stroke="#444" stroke-width="0.75"/>
<line x1="352" y1="548.5" x2="354" y2="548.5" stroke="#444" stroke-width="0.6"/>
<text x="348.6" y="551.34" font-size="8" text-anchor="end" stroke="#111">IMC-15_471</text>
<circle cx="364.85" cy="548.5" r="2.5" fill="#ffffff" stroke="#444" stroke-width="0.75"/>
<line x1="364.85" y1="555.4" x2="364.85" y2="557.4" stroke="#444" stroke-width="0.6"/>
<text x="364.85" y="566.17" font-size="7.8" text-anchor="middle" stroke="#111">Transitional</text>
<rect x="437.5" y="371.5" width="22" height="117" fill="#fff" stroke="#9a9a9a" stroke-width="1"/>
<line x1="435.7" y1="378.8" x2="437.7" y2="378.8" stroke="#444" stroke-width="0.6"/>
<text x="432.4" y="381.64" font-size="8" text-anchor="end" stroke="#111">IMC-10_6183</text>
<circle cx="448.65" cy="378.8" r="6.3" fill="#dcc8e8" stroke="#444" stroke-width="0.75"/>
<line x1="435.7" y1="391.5" x2="437.7" y2="391.5" stroke="#444" stroke-width="0.6"/>
<text x="432.4" y="394.34" font-size="8" text-anchor="end" stroke="#111">IMC-10_6108</text>
<circle cx="448.65" cy="391.5" r="3.2" fill="#fcfcfc" stroke="#444" stroke-width="0.75"/>
<line x1="435.7" y1="404.2" x2="437.7" y2="404.2" stroke="#444" stroke-width="0.6"/>
<text x="432.4" y="407.04" font-size="8" text-anchor="end" stroke="#111">IMC-10_5113</text>
<circle cx="448.65" cy="404.2" r="3" fill="#c9c0e0" stroke="#444" stroke-width="0.75"/>
<line x1="435.7" y1="416.9" x2="437.7" y2="416.9" stroke="#444" stroke-width="0.6"/>
<text x="432.4" y="419.74" font-size="8" text-anchor="end" stroke="#111">IMC-34_5219</text>
<circle cx="448.65" cy="416.9" r="3" fill="#fdfdfd" stroke="#444" stroke-width="0.75"/>
<line x1="435.7" y1="429.6" x2="437.7" y2="429.6" stroke="#444" stroke-width="0.6"/>
<text x="432.4" y="432.44" font-size="8" text-anchor="end" stroke="#111">IMC-34_9305</text>
<circle cx="448.65" cy="429.6" r="2" fill="#8a88c4" stroke="#444" stroke-width="0.75"/>
<line x1="435.7" y1="442.3" x2="437.7" y2="442.3" stroke="#444" stroke-width="0.6"/>
<text x="432.4" y="445.14" font-size="8" text-anchor="end" stroke="#111">IMC-34_5366</text>
<circle cx="448.65" cy="442.3" r="2" fill="#f4f0f4" stroke="#444" stroke-width="0.75"/>
<line x1="435.7" y1="455" x2="437.7" y2="455" stroke="#444" stroke-width="0.6"/>
<text x="432.4" y="457.84" font-size="8" text-anchor="end" stroke="#111">IMC-26_4924</text>
<circle cx="448.65" cy="455" r="2" fill="#f5e8e6" stroke="#444" stroke-width="0.75"/>
<line x1="435.7" y1="467.7" x2="437.7" y2="467.7" stroke="#444" stroke-width="0.6"/>
<text x="432.4" y="470.54" font-size="8" text-anchor="end" stroke="#111">IMC-34_11050</text>
<circle cx="448.65" cy="467.7" r="2" fill="#f8f8f8" stroke="#444" stroke-width="0.75"/>
<line x1="435.7" y1="480.4" x2="437.7" y2="480.4" stroke="#444" stroke-width="0.6"/>
<text x="432.4" y="483.24" font-size="8" text-anchor="end" stroke="#111">IMC-34_6636</text>
<circle cx="448.65" cy="480.4" r="2" fill="#ffffff" stroke="#444" stroke-width="0.75"/>
<line x1="448.65" y1="488.7" x2="448.65" y2="490.7" stroke="#444" stroke-width="0.6"/>
<text x="448.65" y="498.37" font-size="7.8" text-anchor="middle" stroke="#111">Transitional</text>
<text x="405.6" y="508.97" font-size="7.8" stroke="#111">lfc</text>
<defs><linearGradient id="lfcg" x1="0" y1="0" x2="0" y2="1"><stop offset="0" stop-color="#e4312b"/><stop offset="0.25" stop-color="#f2a592"/><stop offset="0.5" stop-color="#fbf7f8"/><stop offset="0.75" stop-color="#aca6d2"/><stop offset="1" stop-color="#3c3c9c"/></linearGradient></defs>
<rect x="405.4" y="515" width="7.8" height="39.4" fill="url(#lfcg)"/>
<text x="416.6" y="518.67" font-size="7.8" stroke="#111">1.0</text>
<text x="416.6" y="528.02" font-size="7.8" stroke="#111">0.5</text>
<text x="416.6" y="537.37" font-size="7.8" stroke="#111">0.0</text>
<text x="416.6" y="546.72" font-size="7.8" stroke="#111">−0.5</text>
<text x="416.6" y="556.07" font-size="7.8" stroke="#111">−1.0</text>
<text x="440.6" y="509.27" font-size="7.8" stroke="#111">Size</text>
<line x1="446.5" y1="516.5" x2="447.7" y2="516.5" stroke="#333" stroke-width="0.6"/>
<text x="455.8" y="519.27" font-size="7.8" stroke="#111">0</text>
<circle cx="447.1" cy="528" r="3.3" fill="#fff" stroke="#222" stroke-width="0.7"/>
<text x="455.8" y="530.77" font-size="7.8" stroke="#111">20</text>
<circle cx="447.1" cy="539.6" r="4.5" fill="#fff" stroke="#222" stroke-width="0.7"/>
<text x="455.8" y="542.37" font-size="7.8" stroke="#111">40</text>
<circle cx="447.1" cy="551.7" r="5.3" fill="#fff" stroke="#222" stroke-width="0.7"/>
<text x="455.8" y="554.47" font-size="7.8" stroke="#111">60</text>
<circle cx="447.1" cy="565" r="6" fill="#fff" stroke="#222" stroke-width="0.7"/>
<text x="455.8" y="567.77" font-size="7.8" stroke="#111">80</text>
<text x="7.6" y="595.43" font-size="10.5" fill="#000" stroke="#000" font-weight="bold">G</text>
<text x="99.3" y="600.16" font-size="7.5" text-anchor="middle" stroke="#111">Transitional clones, RE</text>
<defs><clipPath id="stripclip"><rect x="168" y="0" width="14.3" height="852"/></clipPath></defs>
<rect x="30.5" y="605.4" width="137.1" height="20.5" fill="#fff"/>
<defs><linearGradient id="gg0" x1="0" y1="0" x2="1" y2="0"><stop offset="0" stop-color="#ec7db2"/><stop offset="0.11" stop-color="#d88ac6"/><stop offset="0.22" stop-color="#ac9bde"/><stop offset="0.35" stop-color="#72aee8"/><stop offset="0.47" stop-color="#3fbbe0"/><stop offset="0.61" stop-color="#45c0a2"/><stop offset="0.72" stop-color="#5cba6c"/><stop offset="0.86" stop-color="#90ae48"/><stop offset="1" stop-color="#c99f3c"/></linearGradient></defs>
<rect x="36.3" y="607.6" width="19.5" height="7.3" fill="url(#gg0)"/>
<line x1="37.87" y1="607.6" x2="37.87" y2="614.9" stroke="#fff" stroke-width="0.35" stroke-opacity="0.22"/>
<line x1="39.87" y1="607.6" x2="39.87" y2="614.9" stroke="#fff" stroke-width="0.35" stroke-opacity="0.22"/>
<line x1="43.17" y1="607.6" x2="43.17" y2="614.9" stroke="#fff" stroke-width="0.35" stroke-opacity="0.22"/>
<line x1="46.47" y1="607.6" x2="46.47" y2="614.9" stroke="#fff" stroke-width="0.35" stroke-opacity="0.22"/>
<line x1="47.77" y1="607.6" x2="47.77" y2="614.9" stroke="#fff" stroke-width="0.35" stroke-opacity="0.22"/>
<line x1="49.07" y1="607.6" x2="49.07" y2="614.9" stroke="#fff" stroke-width="0.35" stroke-opacity="0.22"/>
<line x1="51.07" y1="607.6" x2="51.07" y2="614.9" stroke="#fff" stroke-width="0.35" stroke-opacity="0.22"/>
<line x1="54.37" y1="607.6" x2="54.37" y2="614.9" stroke="#fff" stroke-width="0.35" stroke-opacity="0.22"/>
<defs><linearGradient id="gg1" x1="0" y1="0" x2="1" y2="0"><stop offset="0" stop-color="#ec7db2"/><stop offset="0.08" stop-color="#d88ac6"/><stop offset="0.16" stop-color="#ac9bde"/><stop offset="0.25" stop-color="#72aee8"/><stop offset="0.34" stop-color="#3fbbe0"/><stop offset="0.44" stop-color="#45c0a2"/><stop offset="0.52" stop-color="#5cba6c"/><stop offset="0.62" stop-color="#90ae48"/><stop offset="0.72" stop-color="#c99f3c"/><stop offset="0.82" stop-color="#e2903e"/><stop offset="0.92" stop-color="#ee7e55"/><stop offset="1" stop-color="#f2705e"/></linearGradient></defs>
<rect x="36.3" y="616.4" width="54.8" height="7.3" fill="url(#gg1)"/>
<line x1="37.42" y1="616.4" x2="37.42" y2="623.7" stroke="#fff" stroke-width="0.35" stroke-opacity="0.22"/>
<line x1="40.72" y1="616.4" x2="40.72" y2="623.7" stroke="#fff" stroke-width="0.35" stroke-opacity="0.22"/>
<line x1="42.72" y1="616.4" x2="42.72" y2="623.7" stroke="#fff" stroke-width="0.35" stroke-opacity="0.22"/>
<line x1="44.02" y1="616.4" x2="44.02" y2="623.7" stroke="#fff" stroke-width="0.35" stroke-opacity="0.22"/>
<line x1="46.62" y1="616.4" x2="46.62" y2="623.7" stroke="#fff" stroke-width="0.35" stroke-opacity="0.22"/>
<line x1="48.62" y1="616.4" x2="48.62" y2="623.7" stroke="#fff" stroke-width="0.35" stroke-opacity="0.22"/>
<line x1="51.92" y1="616.4" x2="51.92" y2="623.7" stroke="#fff" stroke-width="0.35" stroke-opacity="0.22"/>
<line x1="52.58" y1="616.4" x2="52.58" y2="623.7" stroke="#fff" stroke-width="0.35" stroke-opacity="0.22"/>
<line x1="53.24" y1="616.4" x2="53.24" y2="623.7" stroke="#fff" stroke-width="0.35" stroke-opacity="0.22"/>
<line x1="54.54" y1="616.4" x2="54.54" y2="623.7" stroke="#fff" stroke-width="0.35" stroke-opacity="0.22"/>
<line x1="55.84" y1="616.4" x2="55.84" y2="623.7" stroke="#fff" stroke-width="0.35" stroke-opacity="0.22"/>
<line x1="56.5" y1="616.4" x2="56.5" y2="623.7" stroke="#fff" stroke-width="0.35" stroke-opacity="0.22"/>
<line x1="57.16" y1="616.4" x2="57.16" y2="623.7" stroke="#fff" stroke-width="0.35" stroke-opacity="0.22"/>
<line x1="59.16" y1="616.4" x2="59.16" y2="623.7" stroke="#fff" stroke-width="0.35" stroke-opacity="0.22"/>
<line x1="62.46" y1="616.4" x2="62.46" y2="623.7" stroke="#fff" stroke-width="0.35" stroke-opacity="0.22"/>
<line x1="65.06" y1="616.4" x2="65.06" y2="623.7" stroke="#fff" stroke-width="0.35" stroke-opacity="0.22"/>
<line x1="67.66" y1="616.4" x2="67.66" y2="623.7" stroke="#fff" stroke-width="0.35" stroke-opacity="0.22"/>
<line x1="68.32" y1="616.4" x2="68.32" y2="623.7" stroke="#fff" stroke-width="0.35" stroke-opacity="0.22"/>
<line x1="70.32" y1="616.4" x2="70.32" y2="623.7" stroke="#fff" stroke-width="0.35" stroke-opacity="0.22"/>
<line x1="71.62" y1="616.4" x2="71.62" y2="623.7" stroke="#fff" stroke-width="0.35" stroke-opacity="0.22"/>
<line x1="72.92" y1="616.4" x2="72.92" y2="623.7" stroke="#fff" stroke-width="0.35" stroke-opacity="0.22"/>
<line x1="75.52" y1="616.4" x2="75.52" y2="623.7" stroke="#fff" stroke-width="0.35" stroke-opacity="0.22"/>
<line x1="78.12" y1="616.4" x2="78.12" y2="623.7" stroke="#fff" stroke-width="0.35" stroke-opacity="0.22"/>
<line x1="80.12" y1="616.4" x2="80.12" y2="623.7" stroke="#fff" stroke-width="0.35" stroke-opacity="0.22"/>
<line x1="82.72" y1="616.4" x2="82.72" y2="623.7" stroke="#fff" stroke-width="0.35" stroke-opacity="0.22"/>
<line x1="83.38" y1="616.4" x2="83.38" y2="623.7" stroke="#fff" stroke-width="0.35" stroke-opacity="0.22"/>
<line x1="85.38" y1="616.4" x2="85.38" y2="623.7" stroke="#fff" stroke-width="0.35" stroke-opacity="0.22"/>
<line x1="86.04" y1="616.4" x2="86.04" y2="623.7" stroke="#fff" stroke-width="0.35" stroke-opacity="0.22"/>
<line x1="89.34" y1="616.4" x2="89.34" y2="623.7" stroke="#fff" stroke-width="0.35" stroke-opacity="0.22"/>
<rect x="30.5" y="605.4" width="137.1" height="20.5" fill="none" stroke="#4d4d4d" stroke-width="0.9"/>
<line x1="27.3" y1="610.9" x2="30.5" y2="610.9" stroke="#333" stroke-width="0.7"/>
<text x="25.9" y="613.67" font-size="7.8" text-anchor="end" stroke="#111">Pre</text>
<line x1="27.3" y1="620.2" x2="30.5" y2="620.2" stroke="#333" stroke-width="0.7"/>
<text x="25.9" y="622.97" font-size="7.8" text-anchor="end" stroke="#111">Post</text>
<rect x="167.6" y="605.4" width="15.1" height="20.5" fill="#d9d9d9" stroke="#4d4d4d" stroke-width="0.9"/>
<text x="175.1" y="617.74" font-size="5.9" text-anchor="middle" stroke="#111" transform="rotate(90 175.1 615.65)">IMC-15</text>
<line x1="167.6" y1="605.4" x2="167.6" y2="625.9" stroke="#222" stroke-width="1"/>
<rect x="30.5" y="630.95" width="137.1" height="20.5" fill="#fff"/>
<defs><linearGradient id="gg2" x1="0" y1="0" x2="1" y2="0"><stop offset="0" stop-color="#ec7db2"/><stop offset="0.1" stop-color="#d88ac6"/><stop offset="0.2" stop-color="#ac9bde"/><stop offset="0.3" stop-color="#72aee8"/><stop offset="0.41" stop-color="#3fbbe0"/><stop offset="0.54" stop-color="#45c0a2"/><stop offset="0.63" stop-color="#5cba6c"/><stop offset="0.76" stop-color="#90ae48"/><stop offset="0.88" stop-color="#c99f3c"/><stop offset="1" stop-color="#e2903e"/></linearGradient></defs>
<rect x="36.3" y="633.15" width="21.9" height="7.3" fill="url(#gg2)"/>
<line x1="37.21" y1="633.15" x2="37.21" y2="640.45" stroke="#fff" stroke-width="0.35" stroke-opacity="0.22"/>
<line x1="37.87" y1="633.15" x2="37.87" y2="640.45" stroke="#fff" stroke-width="0.35" stroke-opacity="0.22"/>
<line x1="38.53" y1="633.15" x2="38.53" y2="640.45" stroke="#fff" stroke-width="0.35" stroke-opacity="0.22"/>
<line x1="39.19" y1="633.15" x2="39.19" y2="640.45" stroke="#fff" stroke-width="0.35" stroke-opacity="0.22"/>
<line x1="41.19" y1="633.15" x2="41.19" y2="640.45" stroke="#fff" stroke-width="0.35" stroke-opacity="0.22"/>
<line x1="41.85" y1="633.15" x2="41.85" y2="640.45" stroke="#fff" stroke-width="0.35" stroke-opacity="0.22"/>
<line x1="45.15" y1="633.15" x2="45.15" y2="640.45" stroke="#fff" stroke-width="0.35" stroke-opacity="0.22"/>
<line x1="46.45" y1="633.15" x2="46.45" y2="640.45" stroke="#fff" stroke-width="0.35" stroke-opacity="0.22"/>
<line x1="47.75" y1="633.15" x2="47.75" y2="640.45" stroke="#fff" stroke-width="0.35" stroke-opacity="0.22"/>
<line x1="49.05" y1="633.15" x2="49.05" y2="640.45" stroke="#fff" stroke-width="0.35" stroke-opacity="0.22"/>
<line x1="51.05" y1="633.15" x2="51.05" y2="640.45" stroke="#fff" stroke-width="0.35" stroke-opacity="0.22"/>
<line x1="54.35" y1="633.15" x2="54.35" y2="640.45" stroke="#fff" stroke-width="0.35" stroke-opacity="0.22"/>
<line x1="55.01" y1="633.15" x2="55.01" y2="640.45" stroke="#fff" stroke-width="0.35" stroke-opacity="0.22"/>
<line x1="57.01" y1="633.15" x2="57.01" y2="640.45" stroke="#fff" stroke-width="0.35" stroke-opacity="0.22"/>
<rect x="36.3" y="641.95" width="55.7" height="7.3" fill="url(#gg1)"/>
<line x1="38.19" y1="641.95" x2="38.19" y2="649.25" stroke="#fff" stroke-width="0.35" stroke-opacity="0.22"/>
<line x1="39.49" y1="641.95" x2="39.49" y2="649.25" stroke="#fff" stroke-width="0.35" stroke-opacity="0.22"/>
<line x1="40.15" y1="641.95" x2="40.15" y2="649.25" stroke="#fff" stroke-width="0.35" stroke-opacity="0.22"/>
<line x1="42.75" y1="641.95" x2="42.75" y2="649.25" stroke="#fff" stroke-width="0.35" stroke-opacity="0.22"/>
<line x1="43.41" y1="641.95" x2="43.41" y2="649.25" stroke="#fff" stroke-width="0.35" stroke-opacity="0.22"/>
<line x1="44.71" y1="641.95" x2="44.71" y2="649.25" stroke="#fff" stroke-width="0.35" stroke-opacity="0.22"/>
<line x1="47.31" y1="641.95" x2="47.31" y2="649.25" stroke="#fff" stroke-width="0.35" stroke-opacity="0.22"/>
<line x1="48.61" y1="641.95" x2="48.61" y2="649.25" stroke="#fff" stroke-width="0.35" stroke-opacity="0.22"/>
<line x1="49.91" y1="641.95" x2="49.91" y2="649.25" stroke="#fff" stroke-width="0.35" stroke-opacity="0.22"/>
<line x1="51.91" y1="641.95" x2="51.91" y2="649.25" stroke="#fff" stroke-width="0.35" stroke-opacity="0.22"/>
<line x1="55.21" y1="641.95" x2="55.21" y2="649.25" stroke="#fff" stroke-width="0.35" stroke-opacity="0.22"/>
<line x1="55.87" y1="641.95" x2="55.87" y2="649.25" stroke="#fff" stroke-width="0.35" stroke-opacity="0.22"/>
<line x1="58.47" y1="641.95" x2="58.47" y2="649.25" stroke="#fff" stroke-width="0.35" stroke-opacity="0.22"/>
<line x1="59.77" y1="641.95" x2="59.77" y2="649.25" stroke="#fff" stroke-width="0.35" stroke-opacity="0.22"/>
<line x1="61.07" y1="641.95" x2="61.07" y2="649.25" stroke="#fff" stroke-width="0.35" stroke-opacity="0.22"/>
<line x1="64.37" y1="641.95" x2="64.37" y2="649.25" stroke="#fff" stroke-width="0.35" stroke-opacity="0.22"/>
<line x1="65.03" y1="641.95" x2="65.03" y2="649.25" stroke="#fff" stroke-width="0.35" stroke-opacity="0.22"/>
<line x1="67.03" y1="641.95" x2="67.03" y2="649.25" stroke="#fff" stroke-width="0.35" stroke-opacity="0.22"/>
<line x1="68.33" y1="641.95" x2="68.33" y2="649.25" stroke="#fff" stroke-width="0.35" stroke-opacity="0.22"/>
<line x1="68.99" y1="641.95" x2="68.99" y2="649.25" stroke="#fff" stroke-width="0.35" stroke-opacity="0.22"/>
<line x1="69.65" y1="641.95" x2="69.65" y2="649.25" stroke="#fff" stroke-width="0.35" stroke-opacity="0.22"/>
<line x1="71.65" y1="641.95" x2="71.65" y2="649.25" stroke="#fff" stroke-width="0.35" stroke-opacity="0.22"/>
<line x1="74.95" y1="641.95" x2="74.95" y2="649.25" stroke="#fff" stroke-width="0.35" stroke-opacity="0.22"/>
<line x1="75.61" y1="641.95" x2="75.61" y2="649.25" stroke="#fff" stroke-width="0.35" stroke-opacity="0.22"/>
<line x1="76.91" y1="641.95" x2="76.91" y2="649.25" stroke="#fff" stroke-width="0.35" stroke-opacity="0.22"/>
<line x1="77.57" y1="641.95" x2="77.57" y2="649.25" stroke="#fff" stroke-width="0.35" stroke-opacity="0.22"/>
<line x1="80.87" y1="641.95" x2="80.87" y2="649.25" stroke="#fff" stroke-width="0.35" stroke-opacity="0.22"/>
<line x1="82.17" y1="641.95" x2="82.17" y2="649.25" stroke="#fff" stroke-width="0.35" stroke-opacity="0.22"/>
<line x1="83.47" y1="641.95" x2="83.47" y2="649.25" stroke="#fff" stroke-width="0.35" stroke-opacity="0.22"/>
<line x1="84.13" y1="641.95" x2="84.13" y2="649.25" stroke="#fff" stroke-width="0.35" stroke-opacity="0.22"/>
<line x1="84.79" y1="641.95" x2="84.79" y2="649.25" stroke="#fff" stroke-width="0.35" stroke-opacity="0.22"/>
<line x1="88.09" y1="641.95" x2="88.09" y2="649.25" stroke="#fff" stroke-width="0.35" stroke-opacity="0.22"/>
<line x1="90.69" y1="641.95" x2="90.69" y2="649.25" stroke="#fff" stroke-width="0.35" stroke-opacity="0.22"/>
<line x1="91.35" y1="641.95" x2="91.35" y2="649.25" stroke="#fff" stroke-width="0.35" stroke-opacity="0.22"/>
<rect x="30.5" y="630.95" width="137.1" height="20.5" fill="none" stroke="#4d4d4d" stroke-width="0.9"/>
<line x1="27.3" y1="636.45" x2="30.5" y2="636.45" stroke="#333" stroke-width="0.7"/>
<text x="25.9" y="639.22" font-size="7.8" text-anchor="end" stroke="#111">Pre</text>
<line x1="27.3" y1="645.75" x2="30.5" y2="645.75" stroke="#333" stroke-width="0.7"/>
<text x="25.9" y="648.52" font-size="7.8" text-anchor="end" stroke="#111">Post</text>
<rect x="167.6" y="630.95" width="15.1" height="20.5" fill="#d9d9d9" stroke="#4d4d4d" stroke-width="0.9"/>
<text x="175.1" y="643.29" font-size="5.9" text-anchor="middle" stroke="#111" transform="rotate(90 175.1 641.2)">IMC-17</text>
<line x1="167.6" y1="630.95" x2="167.6" y2="651.45" stroke="#222" stroke-width="1"/>
<rect x="30.5" y="656.5" width="137.1" height="20.5" fill="#fff"/>
<defs><linearGradient id="gg3" x1="0" y1="0" x2="1" y2="0"><stop offset="0" stop-color="#ec7db2"/><stop offset="0.19" stop-color="#d88ac6"/><stop offset="0.38" stop-color="#ac9bde"/><stop offset="0.6" stop-color="#72aee8"/><stop offset="0.81" stop-color="#3fbbe0"/><stop offset="1" stop-color="#44bfae"/></linearGradient></defs>
<rect x="36.3" y="658.7" width="6.9" height="7.3" fill="url(#gg3)"/>
<line x1="37.46" y1="658.7" x2="37.46" y2="666" stroke="#fff" stroke-width="0.35" stroke-opacity="0.22"/>
<line x1="38.12" y1="658.7" x2="38.12" y2="666" stroke="#fff" stroke-width="0.35" stroke-opacity="0.22"/>
<line x1="39.42" y1="658.7" x2="39.42" y2="666" stroke="#fff" stroke-width="0.35" stroke-opacity="0.22"/>
<line x1="40.72" y1="658.7" x2="40.72" y2="666" stroke="#fff" stroke-width="0.35" stroke-opacity="0.22"/>
<defs><linearGradient id="gg4" x1="0" y1="0" x2="1" y2="0"><stop offset="0" stop-color="#ec7db2"/><stop offset="0.09" stop-color="#d88ac6"/><stop offset="0.19" stop-color="#ac9bde"/><stop offset="0.29" stop-color="#72aee8"/><stop offset="0.4" stop-color="#3fbbe0"/><stop offset="0.52" stop-color="#45c0a2"/><stop offset="0.61" stop-color="#5cba6c"/><stop offset="0.73" stop-color="#90ae48"/><stop offset="0.85" stop-color="#c99f3c"/><stop offset="0.96" stop-color="#e2903e"/><stop offset="1" stop-color="#e68b45"/></linearGradient></defs>
<rect x="36.3" y="667.5" width="23.7" height="7.3" fill="url(#gg4)"/>
<line x1="37.78" y1="667.5" x2="37.78" y2="674.8" stroke="#fff" stroke-width="0.35" stroke-opacity="0.22"/>
<line x1="38.44" y1="667.5" x2="38.44" y2="674.8" stroke="#fff" stroke-width="0.35" stroke-opacity="0.22"/>
<line x1="40.44" y1="667.5" x2="40.44" y2="674.8" stroke="#fff" stroke-width="0.35" stroke-opacity="0.22"/>
<line x1="43.04" y1="667.5" x2="43.04" y2="674.8" stroke="#fff" stroke-width="0.35" stroke-opacity="0.22"/>
<line x1="43.7" y1="667.5" x2="43.7" y2="674.8" stroke="#fff" stroke-width="0.35" stroke-opacity="0.22"/>
<line x1="47" y1="667.5" x2="47" y2="674.8" stroke="#fff" stroke-width="0.35" stroke-opacity="0.22"/>
<line x1="49.6" y1="667.5" x2="49.6" y2="674.8" stroke="#fff" stroke-width="0.35" stroke-opacity="0.22"/>
<line x1="50.9" y1="667.5" x2="50.9" y2="674.8" stroke="#fff" stroke-width="0.35" stroke-opacity="0.22"/>
<line x1="52.2" y1="667.5" x2="52.2" y2="674.8" stroke="#fff" stroke-width="0.35" stroke-opacity="0.22"/>
<line x1="52.86" y1="667.5" x2="52.86" y2="674.8" stroke="#fff" stroke-width="0.35" stroke-opacity="0.22"/>
<line x1="54.16" y1="667.5" x2="54.16" y2="674.8" stroke="#fff" stroke-width="0.35" stroke-opacity="0.22"/>
<line x1="55.46" y1="667.5" x2="55.46" y2="674.8" stroke="#fff" stroke-width="0.35" stroke-opacity="0.22"/>
<line x1="56.12" y1="667.5" x2="56.12" y2="674.8" stroke="#fff" stroke-width="0.35" stroke-opacity="0.22"/>
<line x1="57.42" y1="667.5" x2="57.42" y2="674.8" stroke="#fff" stroke-width="0.35" stroke-opacity="0.22"/>
<rect x="30.5" y="656.5" width="137.1" height="20.5" fill="none" stroke="#4d4d4d" stroke-width="0.9"/>
<line x1="27.3" y1="662" x2="30.5" y2="662" stroke="#333" stroke-width="0.7"/>
<text x="25.9" y="664.77" font-size="7.8" text-anchor="end" stroke="#111">Pre</text>
<line x1="27.3" y1="671.3" x2="30.5" y2="671.3" stroke="#333" stroke-width="0.7"/>
<text x="25.9" y="674.07" font-size="7.8" text-anchor="end" stroke="#111">Post</text>
<rect x="167.6" y="656.5" width="15.1" height="20.5" fill="#d9d9d9" stroke="#4d4d4d" stroke-width="0.9"/>
<text x="175.1" y="668.84" font-size="5.9" text-anchor="middle" stroke="#111" transform="rotate(90 175.1 666.75)">IMC-21</text>
<line x1="167.6" y1="656.5" x2="167.6" y2="677" stroke="#222" stroke-width="1"/>
<rect x="30.5" y="682.05" width="137.1" height="20.5" fill="#fff"/>
<rect x="36.3" y="684.25" width="22.8" height="7.3" fill="url(#gg4)"/>
<line x1="38.67" y1="684.25" x2="38.67" y2="691.55" stroke="#fff" stroke-width="0.35" stroke-opacity="0.22"/>
<line x1="39.33" y1="684.25" x2="39.33" y2="691.55" stroke="#fff" stroke-width="0.35" stroke-opacity="0.22"/>
<line x1="39.99" y1="684.25" x2="39.99" y2="691.55" stroke="#fff" stroke-width="0.35" stroke-opacity="0.22"/>
<line x1="42.59" y1="684.25" x2="42.59" y2="691.55" stroke="#fff" stroke-width="0.35" stroke-opacity="0.22"/>
<line x1="43.25" y1="684.25" x2="43.25" y2="691.55" stroke="#fff" stroke-width="0.35" stroke-opacity="0.22"/>
<line x1="43.91" y1="684.25" x2="43.91" y2="691.55" stroke="#fff" stroke-width="0.35" stroke-opacity="0.22"/>
<line x1="44.57" y1="684.25" x2="44.57" y2="691.55" stroke="#fff" stroke-width="0.35" stroke-opacity="0.22"/>
<line x1="45.87" y1="684.25" x2="45.87" y2="691.55" stroke="#fff" stroke-width="0.35" stroke-opacity="0.22"/>
<line x1="49.17" y1="684.25" x2="49.17" y2="691.55" stroke="#fff" stroke-width="0.35" stroke-opacity="0.22"/>
<line x1="50.47" y1="684.25" x2="50.47" y2="691.55" stroke="#fff" stroke-width="0.35" stroke-opacity="0.22"/>
<line x1="51.13" y1="684.25" x2="51.13" y2="691.55" stroke="#fff" stroke-width="0.35" stroke-opacity="0.22"/>
<line x1="53.73" y1="684.25" x2="53.73" y2="691.55" stroke="#fff" stroke-width="0.35" stroke-opacity="0.22"/>
<line x1="55.73" y1="684.25" x2="55.73" y2="691.55" stroke="#fff" stroke-width="0.35" stroke-opacity="0.22"/>
<line x1="56.39" y1="684.25" x2="56.39" y2="691.55" stroke="#fff" stroke-width="0.35" stroke-opacity="0.22"/>
<line x1="57.69" y1="684.25" x2="57.69" y2="691.55" stroke="#fff" stroke-width="0.35" stroke-opacity="0.22"/>
<defs><linearGradient id="gg5" x1="0" y1="0" x2="1" y2="0"><stop offset="0" stop-color="#ec7db2"/><stop offset="0.08" stop-color="#d88ac6"/><stop offset="0.17" stop-color="#ac9bde"/><stop offset="0.26" stop-color="#72aee8"/><stop offset="0.36" stop-color="#3fbbe0"/><stop offset="0.46" stop-color="#45c0a2"/><stop offset="0.55" stop-color="#5cba6c"/><stop offset="0.65" stop-color="#90ae48"/><stop offset="0.76" stop-color="#c99f3c"/><stop offset="0.86" stop-color="#e2903e"/><stop offset="0.97" stop-color="#ee7e55"/><stop offset="1" stop-color="#f07958"/></linearGradient></defs>
<rect x="36.3" y="693.05" width="16.7" height="7.3" fill="url(#gg5)"/>
<line x1="37.42" y1="693.05" x2="37.42" y2="700.35" stroke="#fff" stroke-width="0.35" stroke-opacity="0.22"/>
<line x1="40.02" y1="693.05" x2="40.02" y2="700.35" stroke="#fff" stroke-width="0.35" stroke-opacity="0.22"/>
<line x1="43.32" y1="693.05" x2="43.32" y2="700.35" stroke="#fff" stroke-width="0.35" stroke-opacity="0.22"/>
<line x1="43.98" y1="693.05" x2="43.98" y2="700.35" stroke="#fff" stroke-width="0.35" stroke-opacity="0.22"/>
<line x1="45.28" y1="693.05" x2="45.28" y2="700.35" stroke="#fff" stroke-width="0.35" stroke-opacity="0.22"/>
<line x1="47.88" y1="693.05" x2="47.88" y2="700.35" stroke="#fff" stroke-width="0.35" stroke-opacity="0.22"/>
<line x1="49.18" y1="693.05" x2="49.18" y2="700.35" stroke="#fff" stroke-width="0.35" stroke-opacity="0.22"/>
<line x1="49.84" y1="693.05" x2="49.84" y2="700.35" stroke="#fff" stroke-width="0.35" stroke-opacity="0.22"/>
<line x1="51.14" y1="693.05" x2="51.14" y2="700.35" stroke="#fff" stroke-width="0.35" stroke-opacity="0.22"/>
<rect x="30.5" y="682.05" width="137.1" height="20.5" fill="none" stroke="#4d4d4d" stroke-width="0.9"/>
<line x1="27.3" y1="687.55" x2="30.5" y2="687.55" stroke="#333" stroke-width="0.7"/>
<text x="25.9" y="690.32" font-size="7.8" text-anchor="end" stroke="#111">Pre</text>
<line x1="27.3" y1="696.85" x2="30.5" y2="696.85" stroke="#333" stroke-width="0.7"/>
<text x="25.9" y="699.62" font-size="7.8" text-anchor="end" stroke="#111">Post</text>
<rect x="167.6" y="682.05" width="15.1" height="20.5" fill="#d9d9d9" stroke="#4d4d4d" stroke-width="0.9"/>
<text x="175.1" y="694.39" font-size="5.9" text-anchor="middle" stroke="#111" transform="rotate(90 175.1 692.3)">IMC-22</text>
<line x1="167.6" y1="682.05" x2="167.6" y2="702.55" stroke="#222" stroke-width="1"/>
<rect x="30.5" y="707.6" width="137.1" height="20.5" fill="#fff"/>
<defs><linearGradient id="gg6" x1="0" y1="0" x2="1" y2="0"><stop offset="0" stop-color="#ec7db2"/><stop offset="0.67" stop-color="#d88ac6"/><stop offset="1" stop-color="#c292d2"/></linearGradient></defs>
<rect x="36.3" y="709.8" width="1" height="7.3" fill="url(#gg6)"/>
<defs><linearGradient id="gg7" x1="0" y1="0" x2="1" y2="0"><stop offset="0" stop-color="#ec7db2"/><stop offset="0.09" stop-color="#d88ac6"/><stop offset="0.18" stop-color="#ac9bde"/><stop offset="0.28" stop-color="#72aee8"/><stop offset="0.38" stop-color="#3fbbe0"/><stop offset="0.49" stop-color="#45c0a2"/><stop offset="0.58" stop-color="#5cba6c"/><stop offset="0.69" stop-color="#90ae48"/><stop offset="0.8" stop-color="#c99f3c"/><stop offset="0.91" stop-color="#e2903e"/><stop offset="1" stop-color="#ec8250"/></linearGradient></defs>
<rect x="36.3" y="718.6" width="33.4" height="7.3" fill="url(#gg7)"/>
<line x1="37.1" y1="718.6" x2="37.1" y2="725.9" stroke="#fff" stroke-width="0.35" stroke-opacity="0.22"/>
<line x1="40.4" y1="718.6" x2="40.4" y2="725.9" stroke="#fff" stroke-width="0.35" stroke-opacity="0.22"/>
<line x1="43.7" y1="718.6" x2="43.7" y2="725.9" stroke="#fff" stroke-width="0.35" stroke-opacity="0.22"/>
<line x1="45.7" y1="718.6" x2="45.7" y2="725.9" stroke="#fff" stroke-width="0.35" stroke-opacity="0.22"/>
<line x1="47" y1="718.6" x2="47" y2="725.9" stroke="#fff" stroke-width="0.35" stroke-opacity="0.22"/>
<line x1="47.66" y1="718.6" x2="47.66" y2="725.9" stroke="#fff" stroke-width="0.35" stroke-opacity="0.22"/>
<line x1="48.32" y1="718.6" x2="48.32" y2="725.9" stroke="#fff" stroke-width="0.35" stroke-opacity="0.22"/>
<line x1="48.98" y1="718.6" x2="48.98" y2="725.9" stroke="#fff" stroke-width="0.35" stroke-opacity="0.22"/>
<line x1="50.28" y1="718.6" x2="50.28" y2="725.9" stroke="#fff" stroke-width="0.35" stroke-opacity="0.22"/>
<line x1="53.58" y1="718.6" x2="53.58" y2="725.9" stroke="#fff" stroke-width="0.35" stroke-opacity="0.22"/>
<line x1="55.58" y1="718.6" x2="55.58" y2="725.9" stroke="#fff" stroke-width="0.35" stroke-opacity="0.22"/>
<line x1="58.18" y1="718.6" x2="58.18" y2="725.9" stroke="#fff" stroke-width="0.35" stroke-opacity="0.22"/>
<line x1="60.18" y1="718.6" x2="60.18" y2="725.9" stroke="#fff" stroke-width="0.35" stroke-opacity="0.22"/>
<line x1="60.84" y1="718.6" x2="60.84" y2="725.9" stroke="#fff" stroke-width="0.35" stroke-opacity="0.22"/>
<line x1="61.5" y1="718.6" x2="61.5" y2="725.9" stroke="#fff" stroke-width="0.35" stroke-opacity="0.22"/>
<line x1="62.16" y1="718.6" x2="62.16" y2="725.9" stroke="#fff" stroke-width="0.35" stroke-opacity="0.22"/>
<line x1="62.82" y1="718.6" x2="62.82" y2="725.9" stroke="#fff" stroke-width="0.35" stroke-opacity="0.22"/>
<line x1="64.12" y1="718.6" x2="64.12" y2="725.9" stroke="#fff" stroke-width="0.35" stroke-opacity="0.22"/>
<line x1="65.42" y1="718.6" x2="65.42" y2="725.9" stroke="#fff" stroke-width="0.35" stroke-opacity="0.22"/>
<line x1="66.08" y1="718.6" x2="66.08" y2="725.9" stroke="#fff" stroke-width="0.35" stroke-opacity="0.22"/>
<rect x="30.5" y="707.6" width="137.1" height="20.5" fill="none" stroke="#4d4d4d" stroke-width="0.9"/>
<line x1="27.3" y1="713.1" x2="30.5" y2="713.1" stroke="#333" stroke-width="0.7"/>
<text x="25.9" y="715.87" font-size="7.8" text-anchor="end" stroke="#111">Pre</text>
<line x1="27.3" y1="722.4" x2="30.5" y2="722.4" stroke="#333" stroke-width="0.7"/>
<text x="25.9" y="725.17" font-size="7.8" text-anchor="end" stroke="#111">Post</text>
<rect x="167.6" y="707.6" width="15.1" height="20.5" fill="#d9d9d9" stroke="#4d4d4d" stroke-width="0.9"/>
<text x="175.1" y="719.94" font-size="5.9" text-anchor="middle" stroke="#111" transform="rotate(90 175.1 717.85)">IMC-27</text>
<line x1="167.6" y1="707.6" x2="167.6" y2="728.1" stroke="#222" stroke-width="1"/>
<rect x="30.5" y="733.15" width="137.1" height="20.5" fill="#fff"/>
<rect x="36.3" y="735.35" width="44.6" height="7.3" fill="url(#gg4)"/>
<line x1="38.14" y1="735.35" x2="38.14" y2="742.65" stroke="#fff" stroke-width="0.35" stroke-opacity="0.22"/>
<line x1="41.44" y1="735.35" x2="41.44" y2="742.65" stroke="#fff" stroke-width="0.35" stroke-opacity="0.22"/>
<line x1="42.74" y1="735.35" x2="42.74" y2="742.65" stroke="#fff" stroke-width="0.35" stroke-opacity="0.22"/>
<line x1="44.04" y1="735.35" x2="44.04" y2="742.65" stroke="#fff" stroke-width="0.35" stroke-opacity="0.22"/>
<line x1="44.7" y1="735.35" x2="44.7" y2="742.65" stroke="#fff" stroke-width="0.35" stroke-opacity="0.22"/>
<line x1="45.36" y1="735.35" x2="45.36" y2="742.65" stroke="#fff" stroke-width="0.35" stroke-opacity="0.22"/>
<line x1="46.02" y1="735.35" x2="46.02" y2="742.65" stroke="#fff" stroke-width="0.35" stroke-opacity="0.22"/>
<line x1="46.68" y1="735.35" x2="46.68" y2="742.65" stroke="#fff" stroke-width="0.35" stroke-opacity="0.22"/>
<line x1="48.68" y1="735.35" x2="48.68" y2="742.65" stroke="#fff" stroke-width="0.35" stroke-opacity="0.22"/>
<line x1="51.28" y1="735.35" x2="51.28" y2="742.65" stroke="#fff" stroke-width="0.35" stroke-opacity="0.22"/>
<line x1="51.94" y1="735.35" x2="51.94" y2="742.65" stroke="#fff" stroke-width="0.35" stroke-opacity="0.22"/>
<line x1="52.6" y1="735.35" x2="52.6" y2="742.65" stroke="#fff" stroke-width="0.35" stroke-opacity="0.22"/>
<line x1="54.6" y1="735.35" x2="54.6" y2="742.65" stroke="#fff" stroke-width="0.35" stroke-opacity="0.22"/>
<line x1="55.9" y1="735.35" x2="55.9" y2="742.65" stroke="#fff" stroke-width="0.35" stroke-opacity="0.22"/>
<line x1="57.2" y1="735.35" x2="57.2" y2="742.65" stroke="#fff" stroke-width="0.35" stroke-opacity="0.22"/>
<line x1="59.2" y1="735.35" x2="59.2" y2="742.65" stroke="#fff" stroke-width="0.35" stroke-opacity="0.22"/>
<line x1="60.5" y1="735.35" x2="60.5" y2="742.65" stroke="#fff" stroke-width="0.35" stroke-opacity="0.22"/>
<line x1="61.16" y1="735.35" x2="61.16" y2="742.65" stroke="#fff" stroke-width="0.35" stroke-opacity="0.22"/>
<line x1="63.16" y1="735.35" x2="63.16" y2="742.65" stroke="#fff" stroke-width="0.35" stroke-opacity="0.22"/>
<line x1="64.46" y1="735.35" x2="64.46" y2="742.65" stroke="#fff" stroke-width="0.35" stroke-opacity="0.22"/>
<line x1="67.76" y1="735.35" x2="67.76" y2="742.65" stroke="#fff" stroke-width="0.35" stroke-opacity="0.22"/>
<line x1="69.76" y1="735.35" x2="69.76" y2="742.65" stroke="#fff" stroke-width="0.35" stroke-opacity="0.22"/>
<line x1="70.42" y1="735.35" x2="70.42" y2="742.65" stroke="#fff" stroke-width="0.35" stroke-opacity="0.22"/>
<line x1="73.72" y1="735.35" x2="73.72" y2="742.65" stroke="#fff" stroke-width="0.35" stroke-opacity="0.22"/>
<line x1="75.02" y1="735.35" x2="75.02" y2="742.65" stroke="#fff" stroke-width="0.35" stroke-opacity="0.22"/>
<line x1="75.68" y1="735.35" x2="75.68" y2="742.65" stroke="#fff" stroke-width="0.35" stroke-opacity="0.22"/>
<line x1="78.28" y1="735.35" x2="78.28" y2="742.65" stroke="#fff" stroke-width="0.35" stroke-opacity="0.22"/>
<line x1="78.94" y1="735.35" x2="78.94" y2="742.65" stroke="#fff" stroke-width="0.35" stroke-opacity="0.22"/>
<line x1="80.24" y1="735.35" x2="80.24" y2="742.65" stroke="#fff" stroke-width="0.35" stroke-opacity="0.22"/>
<rect x="36.3" y="744.15" width="48.4" height="7.3" fill="url(#gg1)"/>
<line x1="38.49" y1="744.15" x2="38.49" y2="751.45" stroke="#fff" stroke-width="0.35" stroke-opacity="0.22"/>
<line x1="39.15" y1="744.15" x2="39.15" y2="751.45" stroke="#fff" stroke-width="0.35" stroke-opacity="0.22"/>
<line x1="41.75" y1="744.15" x2="41.75" y2="751.45" stroke="#fff" stroke-width="0.35" stroke-opacity="0.22"/>
<line x1="42.41" y1="744.15" x2="42.41" y2="751.45" stroke="#fff" stroke-width="0.35" stroke-opacity="0.22"/>
<line x1="43.07" y1="744.15" x2="43.07" y2="751.45" stroke="#fff" stroke-width="0.35" stroke-opacity="0.22"/>
<line x1="45.67" y1="744.15" x2="45.67" y2="751.45" stroke="#fff" stroke-width="0.35" stroke-opacity="0.22"/>
<line x1="48.27" y1="744.15" x2="48.27" y2="751.45" stroke="#fff" stroke-width="0.35" stroke-opacity="0.22"/>
<line x1="50.27" y1="744.15" x2="50.27" y2="751.45" stroke="#fff" stroke-width="0.35" stroke-opacity="0.22"/>
<line x1="50.93" y1="744.15" x2="50.93" y2="751.45" stroke="#fff" stroke-width="0.35" stroke-opacity="0.22"/>
<line x1="53.53" y1="744.15" x2="53.53" y2="751.45" stroke="#fff" stroke-width="0.35" stroke-opacity="0.22"/>
<line x1="54.83" y1="744.15" x2="54.83" y2="751.45" stroke="#fff" stroke-width="0.35" stroke-opacity="0.22"/>
<line x1="56.13" y1="744.15" x2="56.13" y2="751.45" stroke="#fff" stroke-width="0.35" stroke-opacity="0.22"/>
<line x1="58.13" y1="744.15" x2="58.13" y2="751.45" stroke="#fff" stroke-width="0.35" stroke-opacity="0.22"/>
<line x1="58.79" y1="744.15" x2="58.79" y2="751.45" stroke="#fff" stroke-width="0.35" stroke-opacity="0.22"/>
<line x1="60.09" y1="744.15" x2="60.09" y2="751.45" stroke="#fff" stroke-width="0.35" stroke-opacity="0.22"/>
<line x1="60.75" y1="744.15" x2="60.75" y2="751.45" stroke="#fff" stroke-width="0.35" stroke-opacity="0.22"/>
<line x1="61.41" y1="744.15" x2="61.41" y2="751.45" stroke="#fff" stroke-width="0.35" stroke-opacity="0.22"/>
<line x1="62.07" y1="744.15" x2="62.07" y2="751.45" stroke="#fff" stroke-width="0.35" stroke-opacity="0.22"/>
<line x1="62.73" y1="744.15" x2="62.73" y2="751.45" stroke="#fff" stroke-width="0.35" stroke-opacity="0.22"/>
<line x1="64.73" y1="744.15" x2="64.73" y2="751.45" stroke="#fff" stroke-width="0.35" stroke-opacity="0.22"/>
<line x1="66.03" y1="744.15" x2="66.03" y2="751.45" stroke="#fff" stroke-width="0.35" stroke-opacity="0.22"/>
<line x1="66.69" y1="744.15" x2="66.69" y2="751.45" stroke="#fff" stroke-width="0.35" stroke-opacity="0.22"/>
<line x1="69.29" y1="744.15" x2="69.29" y2="751.45" stroke="#fff" stroke-width="0.35" stroke-opacity="0.22"/>
<line x1="71.89" y1="744.15" x2="71.89" y2="751.45" stroke="#fff" stroke-width="0.35" stroke-opacity="0.22"/>
<line x1="73.19" y1="744.15" x2="73.19" y2="751.45" stroke="#fff" stroke-width="0.35" stroke-opacity="0.22"/>
<line x1="74.49" y1="744.15" x2="74.49" y2="751.45" stroke="#fff" stroke-width="0.35" stroke-opacity="0.22"/>
<line x1="75.79" y1="744.15" x2="75.79" y2="751.45" stroke="#fff" stroke-width="0.35" stroke-opacity="0.22"/>
<line x1="79.09" y1="744.15" x2="79.09" y2="751.45" stroke="#fff" stroke-width="0.35" stroke-opacity="0.22"/>
<line x1="81.09" y1="744.15" x2="81.09" y2="751.45" stroke="#fff" stroke-width="0.35" stroke-opacity="0.22"/>
<line x1="82.39" y1="744.15" x2="82.39" y2="751.45" stroke="#fff" stroke-width="0.35" stroke-opacity="0.22"/>
<line x1="83.69" y1="744.15" x2="83.69" y2="751.45" stroke="#fff" stroke-width="0.35" stroke-opacity="0.22"/>
<rect x="30.5" y="733.15" width="137.1" height="20.5" fill="none" stroke="#4d4d4d" stroke-width="0.9"/>
<line x1="27.3" y1="738.65" x2="30.5" y2="738.65" stroke="#333" stroke-width="0.7"/>
<text x="25.9" y="741.42" font-size="7.8" text-anchor="end" stroke="#111">Pre</text>
<line x1="27.3" y1="747.95" x2="30.5" y2="747.95" stroke="#333" stroke-width="0.7"/>
<text x="25.9" y="750.72" font-size="7.8" text-anchor="end" stroke="#111">Post</text>
<rect x="167.6" y="733.15" width="15.1" height="20.5" fill="#d9d9d9" stroke="#4d4d4d" stroke-width="0.9"/>
<text x="175.1" y="745.49" font-size="5.9" text-anchor="middle" stroke="#111" transform="rotate(90 175.1 743.4)">IMC-29</text>
<line x1="167.6" y1="733.15" x2="167.6" y2="753.65" stroke="#222" stroke-width="1"/>
<rect x="30.5" y="758.7" width="137.1" height="20.5" fill="#fff"/>
<rect x="36.3" y="760.9" width="22.6" height="7.3" fill="url(#gg2)"/>
<line x1="37.4" y1="760.9" x2="37.4" y2="768.2" stroke="#fff" stroke-width="0.35" stroke-opacity="0.22"/>
<line x1="40" y1="760.9" x2="40" y2="768.2" stroke="#fff" stroke-width="0.35" stroke-opacity="0.22"/>
<line x1="40.66" y1="760.9" x2="40.66" y2="768.2" stroke="#fff" stroke-width="0.35" stroke-opacity="0.22"/>
<line x1="41.32" y1="760.9" x2="41.32" y2="768.2" stroke="#fff" stroke-width="0.35" stroke-opacity="0.22"/>
<line x1="41.98" y1="760.9" x2="41.98" y2="768.2" stroke="#fff" stroke-width="0.35" stroke-opacity="0.22"/>
<line x1="43.28" y1="760.9" x2="43.28" y2="768.2" stroke="#fff" stroke-width="0.35" stroke-opacity="0.22"/>
<line x1="45.28" y1="760.9" x2="45.28" y2="768.2" stroke="#fff" stroke-width="0.35" stroke-opacity="0.22"/>
<line x1="47.88" y1="760.9" x2="47.88" y2="768.2" stroke="#fff" stroke-width="0.35" stroke-opacity="0.22"/>
<line x1="51.18" y1="760.9" x2="51.18" y2="768.2" stroke="#fff" stroke-width="0.35" stroke-opacity="0.22"/>
<line x1="53.18" y1="760.9" x2="53.18" y2="768.2" stroke="#fff" stroke-width="0.35" stroke-opacity="0.22"/>
<line x1="55.18" y1="760.9" x2="55.18" y2="768.2" stroke="#fff" stroke-width="0.35" stroke-opacity="0.22"/>
<line x1="55.84" y1="760.9" x2="55.84" y2="768.2" stroke="#fff" stroke-width="0.35" stroke-opacity="0.22"/>
<line x1="57.14" y1="760.9" x2="57.14" y2="768.2" stroke="#fff" stroke-width="0.35" stroke-opacity="0.22"/>
<line x1="57.8" y1="760.9" x2="57.8" y2="768.2" stroke="#fff" stroke-width="0.35" stroke-opacity="0.22"/>
<rect x="36.3" y="769.7" width="54.9" height="7.3" fill="url(#gg1)"/>
<line x1="38.37" y1="769.7" x2="38.37" y2="777" stroke="#fff" stroke-width="0.35" stroke-opacity="0.22"/>
<line x1="39.03" y1="769.7" x2="39.03" y2="777" stroke="#fff" stroke-width="0.35" stroke-opacity="0.22"/>
<line x1="40.33" y1="769.7" x2="40.33" y2="777" stroke="#fff" stroke-width="0.35" stroke-opacity="0.22"/>
<line x1="41.63" y1="769.7" x2="41.63" y2="777" stroke="#fff" stroke-width="0.35" stroke-opacity="0.22"/>
<line x1="42.93" y1="769.7" x2="42.93" y2="777" stroke="#fff" stroke-width="0.35" stroke-opacity="0.22"/>
<line x1="43.59" y1="769.7" x2="43.59" y2="777" stroke="#fff" stroke-width="0.35" stroke-opacity="0.22"/>
<line x1="44.25" y1="769.7" x2="44.25" y2="777" stroke="#fff" stroke-width="0.35" stroke-opacity="0.22"/>
<line x1="44.91" y1="769.7" x2="44.91" y2="777" stroke="#fff" stroke-width="0.35" stroke-opacity="0.22"/>
<line x1="45.57" y1="769.7" x2="45.57" y2="777" stroke="#fff" stroke-width="0.35" stroke-opacity="0.22"/>
<line x1="46.87" y1="769.7" x2="46.87" y2="777" stroke="#fff" stroke-width="0.35" stroke-opacity="0.22"/>
<line x1="48.17" y1="769.7" x2="48.17" y2="777" stroke="#fff" stroke-width="0.35" stroke-opacity="0.22"/>
<line x1="50.17" y1="769.7" x2="50.17" y2="777" stroke="#fff" stroke-width="0.35" stroke-opacity="0.22"/>
<line x1="52.17" y1="769.7" x2="52.17" y2="777" stroke="#fff" stroke-width="0.35" stroke-opacity="0.22"/>
<line x1="52.83" y1="769.7" x2="52.83" y2="777" stroke="#fff" stroke-width="0.35" stroke-opacity="0.22"/>
<line x1="53.49" y1="769.7" x2="53.49" y2="777" stroke="#fff" stroke-width="0.35" stroke-opacity="0.22"/>
<line x1="54.79" y1="769.7" x2="54.79" y2="777" stroke="#fff" stroke-width="0.35" stroke-opacity="0.22"/>
<line x1="55.45" y1="769.7" x2="55.45" y2="777" stroke="#fff" stroke-width="0.35" stroke-opacity="0.22"/>
<line x1="56.75" y1="769.7" x2="56.75" y2="777" stroke="#fff" stroke-width="0.35" stroke-opacity="0.22"/>
<line x1="58.05" y1="769.7" x2="58.05" y2="777" stroke="#fff" stroke-width="0.35" stroke-opacity="0.22"/>
<line x1="60.65" y1="769.7" x2="60.65" y2="777" stroke="#fff" stroke-width="0.35" stroke-opacity="0.22"/>
<line x1="63.25" y1="769.7" x2="63.25" y2="777" stroke="#fff" stroke-width="0.35" stroke-opacity="0.22"/>
<line x1="65.85" y1="769.7" x2="65.85" y2="777" stroke="#fff" stroke-width="0.35" stroke-opacity="0.22"/>
<line x1="67.85" y1="769.7" x2="67.85" y2="777" stroke="#fff" stroke-width="0.35" stroke-opacity="0.22"/>
<line x1="69.85" y1="769.7" x2="69.85" y2="777" stroke="#fff" stroke-width="0.35" stroke-opacity="0.22"/>
<line x1="70.51" y1="769.7" x2="70.51" y2="777" stroke="#fff" stroke-width="0.35" stroke-opacity="0.22"/>
<line x1="72.51" y1="769.7" x2="72.51" y2="777" stroke="#fff" stroke-width="0.35" stroke-opacity="0.22"/>
<line x1="73.17" y1="769.7" x2="73.17" y2="777" stroke="#fff" stroke-width="0.35" stroke-opacity="0.22"/>
<line x1="73.83" y1="769.7" x2="73.83" y2="777" stroke="#fff" stroke-width="0.35" stroke-opacity="0.22"/>
<line x1="75.13" y1="769.7" x2="75.13" y2="777" stroke="#fff" stroke-width="0.35" stroke-opacity="0.22"/>
<line x1="76.43" y1="769.7" x2="76.43" y2="777" stroke="#fff" stroke-width="0.35" stroke-opacity="0.22"/>
<line x1="79.03" y1="769.7" x2="79.03" y2="777" stroke="#fff" stroke-width="0.35" stroke-opacity="0.22"/>
<line x1="80.33" y1="769.7" x2="80.33" y2="777" stroke="#fff" stroke-width="0.35" stroke-opacity="0.22"/>
<line x1="80.99" y1="769.7" x2="80.99" y2="777" stroke="#fff" stroke-width="0.35" stroke-opacity="0.22"/>
<line x1="81.65" y1="769.7" x2="81.65" y2="777" stroke="#fff" stroke-width="0.35" stroke-opacity="0.22"/>
<line x1="83.65" y1="769.7" x2="83.65" y2="777" stroke="#fff" stroke-width="0.35" stroke-opacity="0.22"/>
<line x1="86.25" y1="769.7" x2="86.25" y2="777" stroke="#fff" stroke-width="0.35" stroke-opacity="0.22"/>
<line x1="86.91" y1="769.7" x2="86.91" y2="777" stroke="#fff" stroke-width="0.35" stroke-opacity="0.22"/>
<line x1="88.21" y1="769.7" x2="88.21" y2="777" stroke="#fff" stroke-width="0.35" stroke-opacity="0.22"/>
<line x1="88.87" y1="769.7" x2="88.87" y2="777" stroke="#fff" stroke-width="0.35" stroke-opacity="0.22"/>
<rect x="30.5" y="758.7" width="137.1" height="20.5" fill="none" stroke="#4d4d4d" stroke-width="0.9"/>
<line x1="27.3" y1="764.2" x2="30.5" y2="764.2" stroke="#333" stroke-width="0.7"/>
<text x="25.9" y="766.97" font-size="7.8" text-anchor="end" stroke="#111">Pre</text>
<line x1="27.3" y1="773.5" x2="30.5" y2="773.5" stroke="#333" stroke-width="0.7"/>
<text x="25.9" y="776.27" font-size="7.8" text-anchor="end" stroke="#111">Post</text>
<rect x="167.6" y="758.7" width="15.1" height="20.5" fill="#d9d9d9" stroke="#4d4d4d" stroke-width="0.9"/>
<text x="175.1" y="771.04" font-size="5.9" text-anchor="middle" stroke="#111" transform="rotate(90 175.1 768.95)">IMC-31</text>
<line x1="167.6" y1="758.7" x2="167.6" y2="779.2" stroke="#222" stroke-width="1"/>
<rect x="30.5" y="784.25" width="137.1" height="20.5" fill="#fff"/>
<defs><linearGradient id="gg8" x1="0" y1="0" x2="1" y2="0"><stop offset="0" stop-color="#ec7db2"/><stop offset="0.13" stop-color="#d88ac6"/><stop offset="0.26" stop-color="#ac9bde"/><stop offset="0.4" stop-color="#72aee8"/><stop offset="0.55" stop-color="#3fbbe0"/><stop offset="0.71" stop-color="#45c0a2"/><stop offset="0.84" stop-color="#5cba6c"/><stop offset="1" stop-color="#90ae48"/></linearGradient></defs>
<rect x="36.3" y="786.45" width="12.4" height="7.3" fill="url(#gg8)"/>
<line x1="37.63" y1="786.45" x2="37.63" y2="793.75" stroke="#fff" stroke-width="0.35" stroke-opacity="0.22"/>
<line x1="38.29" y1="786.45" x2="38.29" y2="793.75" stroke="#fff" stroke-width="0.35" stroke-opacity="0.22"/>
<line x1="38.95" y1="786.45" x2="38.95" y2="793.75" stroke="#fff" stroke-width="0.35" stroke-opacity="0.22"/>
<line x1="39.61" y1="786.45" x2="39.61" y2="793.75" stroke="#fff" stroke-width="0.35" stroke-opacity="0.22"/>
<line x1="40.91" y1="786.45" x2="40.91" y2="793.75" stroke="#fff" stroke-width="0.35" stroke-opacity="0.22"/>
<line x1="42.91" y1="786.45" x2="42.91" y2="793.75" stroke="#fff" stroke-width="0.35" stroke-opacity="0.22"/>
<line x1="44.21" y1="786.45" x2="44.21" y2="793.75" stroke="#fff" stroke-width="0.35" stroke-opacity="0.22"/>
<line x1="46.81" y1="786.45" x2="46.81" y2="793.75" stroke="#fff" stroke-width="0.35" stroke-opacity="0.22"/>
<line x1="47.47" y1="786.45" x2="47.47" y2="793.75" stroke="#fff" stroke-width="0.35" stroke-opacity="0.22"/>
<rect x="36.3" y="795.25" width="25.6" height="7.3" fill="url(#gg4)"/>
<line x1="38.35" y1="795.25" x2="38.35" y2="802.55" stroke="#fff" stroke-width="0.35" stroke-opacity="0.22"/>
<line x1="39.01" y1="795.25" x2="39.01" y2="802.55" stroke="#fff" stroke-width="0.35" stroke-opacity="0.22"/>
<line x1="42.31" y1="795.25" x2="42.31" y2="802.55" stroke="#fff" stroke-width="0.35" stroke-opacity="0.22"/>
<line x1="43.61" y1="795.25" x2="43.61" y2="802.55" stroke="#fff" stroke-width="0.35" stroke-opacity="0.22"/>
<line x1="44.91" y1="795.25" x2="44.91" y2="802.55" stroke="#fff" stroke-width="0.35" stroke-opacity="0.22"/>
<line x1="45.57" y1="795.25" x2="45.57" y2="802.55" stroke="#fff" stroke-width="0.35" stroke-opacity="0.22"/>
<line x1="48.17" y1="795.25" x2="48.17" y2="802.55" stroke="#fff" stroke-width="0.35" stroke-opacity="0.22"/>
<line x1="49.47" y1="795.25" x2="49.47" y2="802.55" stroke="#fff" stroke-width="0.35" stroke-opacity="0.22"/>
<line x1="50.13" y1="795.25" x2="50.13" y2="802.55" stroke="#fff" stroke-width="0.35" stroke-opacity="0.22"/>
<line x1="53.43" y1="795.25" x2="53.43" y2="802.55" stroke="#fff" stroke-width="0.35" stroke-opacity="0.22"/>
<line x1="56.73" y1="795.25" x2="56.73" y2="802.55" stroke="#fff" stroke-width="0.35" stroke-opacity="0.22"/>
<line x1="58.03" y1="795.25" x2="58.03" y2="802.55" stroke="#fff" stroke-width="0.35" stroke-opacity="0.22"/>
<rect x="30.5" y="784.25" width="137.1" height="20.5" fill="none" stroke="#4d4d4d" stroke-width="0.9"/>
<line x1="27.3" y1="789.75" x2="30.5" y2="789.75" stroke="#333" stroke-width="0.7"/>
<text x="25.9" y="792.52" font-size="7.8" text-anchor="end" stroke="#111">Pre</text>
<line x1="27.3" y1="799.05" x2="30.5" y2="799.05" stroke="#333" stroke-width="0.7"/>
<text x="25.9" y="801.82" font-size="7.8" text-anchor="end" stroke="#111">Post</text>
<rect x="167.6" y="784.25" width="15.1" height="20.5" fill="#d9d9d9" stroke="#4d4d4d" stroke-width="0.9"/>
<text x="175.1" y="796.59" font-size="5.9" text-anchor="middle" stroke="#111" transform="rotate(90 175.1 794.5)">IMC-36</text>
<line x1="167.6" y1="784.25" x2="167.6" y2="804.75" stroke="#222" stroke-width="1"/>
<rect x="30.5" y="809.8" width="137.1" height="20.5" fill="#fff"/>
<defs><linearGradient id="gg9" x1="0" y1="0" x2="1" y2="0"><stop offset="0" stop-color="#ec7db2"/><stop offset="0.09" stop-color="#d88ac6"/><stop offset="0.18" stop-color="#ac9bde"/><stop offset="0.28" stop-color="#72aee8"/><stop offset="0.39" stop-color="#3fbbe0"/><stop offset="0.5" stop-color="#45c0a2"/><stop offset="0.59" stop-color="#5cba6c"/><stop offset="0.7" stop-color="#90ae48"/><stop offset="0.82" stop-color="#c99f3c"/><stop offset="0.93" stop-color="#e2903e"/><stop offset="1" stop-color="#e9854c"/></linearGradient></defs>
<rect x="36.3" y="812" width="35.8" height="7.3" fill="url(#gg9)"/>
<line x1="37.15" y1="812" x2="37.15" y2="819.3" stroke="#fff" stroke-width="0.35" stroke-opacity="0.22"/>
<line x1="38.45" y1="812" x2="38.45" y2="819.3" stroke="#fff" stroke-width="0.35" stroke-opacity="0.22"/>
<line x1="40.45" y1="812" x2="40.45" y2="819.3" stroke="#fff" stroke-width="0.35" stroke-opacity="0.22"/>
<line x1="41.11" y1="812" x2="41.11" y2="819.3" stroke="#fff" stroke-width="0.35" stroke-opacity="0.22"/>
<line x1="43.11" y1="812" x2="43.11" y2="819.3" stroke="#fff" stroke-width="0.35" stroke-opacity="0.22"/>
<line x1="45.71" y1="812" x2="45.71" y2="819.3" stroke="#fff" stroke-width="0.35" stroke-opacity="0.22"/>
<line x1="47.01" y1="812" x2="47.01" y2="819.3" stroke="#fff" stroke-width="0.35" stroke-opacity="0.22"/>
<line x1="48.31" y1="812" x2="48.31" y2="819.3" stroke="#fff" stroke-width="0.35" stroke-opacity="0.22"/>
<line x1="50.31" y1="812" x2="50.31" y2="819.3" stroke="#fff" stroke-width="0.35" stroke-opacity="0.22"/>
<line x1="50.97" y1="812" x2="50.97" y2="819.3" stroke="#fff" stroke-width="0.35" stroke-opacity="0.22"/>
<line x1="52.97" y1="812" x2="52.97" y2="819.3" stroke="#fff" stroke-width="0.35" stroke-opacity="0.22"/>
<line x1="53.63" y1="812" x2="53.63" y2="819.3" stroke="#fff" stroke-width="0.35" stroke-opacity="0.22"/>
<line x1="54.29" y1="812" x2="54.29" y2="819.3" stroke="#fff" stroke-width="0.35" stroke-opacity="0.22"/>
<line x1="54.95" y1="812" x2="54.95" y2="819.3" stroke="#fff" stroke-width="0.35" stroke-opacity="0.22"/>
<line x1="57.55" y1="812" x2="57.55" y2="819.3" stroke="#fff" stroke-width="0.35" stroke-opacity="0.22"/>
<line x1="58.21" y1="812" x2="58.21" y2="819.3" stroke="#fff" stroke-width="0.35" stroke-opacity="0.22"/>
<line x1="59.51" y1="812" x2="59.51" y2="819.3" stroke="#fff" stroke-width="0.35" stroke-opacity="0.22"/>
<line x1="60.81" y1="812" x2="60.81" y2="819.3" stroke="#fff" stroke-width="0.35" stroke-opacity="0.22"/>
<line x1="63.41" y1="812" x2="63.41" y2="819.3" stroke="#fff" stroke-width="0.35" stroke-opacity="0.22"/>
<line x1="64.71" y1="812" x2="64.71" y2="819.3" stroke="#fff" stroke-width="0.35" stroke-opacity="0.22"/>
<line x1="66.01" y1="812" x2="66.01" y2="819.3" stroke="#fff" stroke-width="0.35" stroke-opacity="0.22"/>
<line x1="68.61" y1="812" x2="68.61" y2="819.3" stroke="#fff" stroke-width="0.35" stroke-opacity="0.22"/>
<line x1="71.21" y1="812" x2="71.21" y2="819.3" stroke="#fff" stroke-width="0.35" stroke-opacity="0.22"/>
<rect x="36.3" y="820.8" width="124.9" height="7.3" fill="url(#gg1)"/>
<line x1="37.88" y1="820.8" x2="37.88" y2="828.1" stroke="#fff" stroke-width="0.35" stroke-opacity="0.22"/>
<line x1="39.18" y1="820.8" x2="39.18" y2="828.1" stroke="#fff" stroke-width="0.35" stroke-opacity="0.22"/>
<line x1="42.48" y1="820.8" x2="42.48" y2="828.1" stroke="#fff" stroke-width="0.35" stroke-opacity="0.22"/>
<line x1="44.48" y1="820.8" x2="44.48" y2="828.1" stroke="#fff" stroke-width="0.35" stroke-opacity="0.22"/>
<line x1="45.14" y1="820.8" x2="45.14" y2="828.1" stroke="#fff" stroke-width="0.35" stroke-opacity="0.22"/>
<line x1="47.14" y1="820.8" x2="47.14" y2="828.1" stroke="#fff" stroke-width="0.35" stroke-opacity="0.22"/>
<line x1="50.44" y1="820.8" x2="50.44" y2="828.1" stroke="#fff" stroke-width="0.35" stroke-opacity="0.22"/>
<line x1="52.44" y1="820.8" x2="52.44" y2="828.1" stroke="#fff" stroke-width="0.35" stroke-opacity="0.22"/>
<line x1="53.1" y1="820.8" x2="53.1" y2="828.1" stroke="#fff" stroke-width="0.35" stroke-opacity="0.22"/>
<line x1="54.4" y1="820.8" x2="54.4" y2="828.1" stroke="#fff" stroke-width="0.35" stroke-opacity="0.22"/>
<line x1="56.4" y1="820.8" x2="56.4" y2="828.1" stroke="#fff" stroke-width="0.35" stroke-opacity="0.22"/>
<line x1="57.06" y1="820.8" x2="57.06" y2="828.1" stroke="#fff" stroke-width="0.35" stroke-opacity="0.22"/>
<line x1="58.36" y1="820.8" x2="58.36" y2="828.1" stroke="#fff" stroke-width="0.35" stroke-opacity="0.22"/>
<line x1="59.02" y1="820.8" x2="59.02" y2="828.1" stroke="#fff" stroke-width="0.35" stroke-opacity="0.22"/>
<line x1="59.68" y1="820.8" x2="59.68" y2="828.1" stroke="#fff" stroke-width="0.35" stroke-opacity="0.22"/>
<line x1="62.28" y1="820.8" x2="62.28" y2="828.1" stroke="#fff" stroke-width="0.35" stroke-opacity="0.22"/>
<line x1="62.94" y1="820.8" x2="62.94" y2="828.1" stroke="#fff" stroke-width="0.35" stroke-opacity="0.22"/>
<line x1="64.24" y1="820.8" x2="64.24" y2="828.1" stroke="#fff" stroke-width="0.35" stroke-opacity="0.22"/>
<line x1="67.54" y1="820.8" x2="67.54" y2="828.1" stroke="#fff" stroke-width="0.35" stroke-opacity="0.22"/>
<line x1="69.54" y1="820.8" x2="69.54" y2="828.1" stroke="#fff" stroke-width="0.35" stroke-opacity="0.22"/>
<line x1="72.14" y1="820.8" x2="72.14" y2="828.1" stroke="#fff" stroke-width="0.35" stroke-opacity="0.22"/>
<line x1="73.44" y1="820.8" x2="73.44" y2="828.1" stroke="#fff" stroke-width="0.35" stroke-opacity="0.22"/>
<line x1="74.74" y1="820.8" x2="74.74" y2="828.1" stroke="#fff" stroke-width="0.35" stroke-opacity="0.22"/>
<line x1="75.4" y1="820.8" x2="75.4" y2="828.1" stroke="#fff" stroke-width="0.35" stroke-opacity="0.22"/>
<line x1="76.7" y1="820.8" x2="76.7" y2="828.1" stroke="#fff" stroke-width="0.35" stroke-opacity="0.22"/>
<line x1="78" y1="820.8" x2="78" y2="828.1" stroke="#fff" stroke-width="0.35" stroke-opacity="0.22"/>
<line x1="78.66" y1="820.8" x2="78.66" y2="828.1" stroke="#fff" stroke-width="0.35" stroke-opacity="0.22"/>
<line x1="81.26" y1="820.8" x2="81.26" y2="828.1" stroke="#fff" stroke-width="0.35" stroke-opacity="0.22"/>
<line x1="83.26" y1="820.8" x2="83.26" y2="828.1" stroke="#fff" stroke-width="0.35" stroke-opacity="0.22"/>
<line x1="83.92" y1="820.8" x2="83.92" y2="828.1" stroke="#fff" stroke-width="0.35" stroke-opacity="0.22"/>
<line x1="85.92" y1="820.8" x2="85.92" y2="828.1" stroke="#fff" stroke-width="0.35" stroke-opacity="0.22"/>
<line x1="86.58" y1="820.8" x2="86.58" y2="828.1" stroke="#fff" stroke-width="0.35" stroke-opacity="0.22"/>
<line x1="89.88" y1="820.8" x2="89.88" y2="828.1" stroke="#fff" stroke-width="0.35" stroke-opacity="0.22"/>
<line x1="91.18" y1="820.8" x2="91.18" y2="828.1" stroke="#fff" stroke-width="0.35" stroke-opacity="0.22"/>
<line x1="93.78" y1="820.8" x2="93.78" y2="828.1" stroke="#fff" stroke-width="0.35" stroke-opacity="0.22"/>
<line x1="95.08" y1="820.8" x2="95.08" y2="828.1" stroke="#fff" stroke-width="0.35" stroke-opacity="0.22"/>
<line x1="96.38" y1="820.8" x2="96.38" y2="828.1" stroke="#fff" stroke-width="0.35" stroke-opacity="0.22"/>
<line x1="97.04" y1="820.8" x2="97.04" y2="828.1" stroke="#fff" stroke-width="0.35" stroke-opacity="0.22"/>
<line x1="98.34" y1="820.8" x2="98.34" y2="828.1" stroke="#fff" stroke-width="0.35" stroke-opacity="0.22"/>
<line x1="99.64" y1="820.8" x2="99.64" y2="828.1" stroke="#fff" stroke-width="0.35" stroke-opacity="0.22"/>
<line x1="102.24" y1="820.8" x2="102.24" y2="828.1" stroke="#fff" stroke-width="0.35" stroke-opacity="0.22"/>
<line x1="103.54" y1="820.8" x2="103.54" y2="828.1" stroke="#fff" stroke-width="0.35" stroke-opacity="0.22"/>
<line x1="104.2" y1="820.8" x2="104.2" y2="828.1" stroke="#fff" stroke-width="0.35" stroke-opacity="0.22"/>
<line x1="106.8" y1="820.8" x2="106.8" y2="828.1" stroke="#fff" stroke-width="0.35" stroke-opacity="0.22"/>
<line x1="108.1" y1="820.8" x2="108.1" y2="828.1" stroke="#fff" stroke-width="0.35" stroke-opacity="0.22"/>
<line x1="111.4" y1="820.8" x2="111.4" y2="828.1" stroke="#fff" stroke-width="0.35" stroke-opacity="0.22"/>
<line x1="114.7" y1="820.8" x2="114.7" y2="828.1" stroke="#fff" stroke-width="0.35" stroke-opacity="0.22"/>
<line x1="118" y1="820.8" x2="118" y2="828.1" stroke="#fff" stroke-width="0.35" stroke-opacity="0.22"/>
<line x1="118.66" y1="820.8" x2="118.66" y2="828.1" stroke="#fff" stroke-width="0.35" stroke-opacity="0.22"/>
<line x1="119.32" y1="820.8" x2="119.32" y2="828.1" stroke="#fff" stroke-width="0.35" stroke-opacity="0.22"/>
<line x1="120.62" y1="820.8" x2="120.62" y2="828.1" stroke="#fff" stroke-width="0.35" stroke-opacity="0.22"/>
<line x1="121.28" y1="820.8" x2="121.28" y2="828.1" stroke="#fff" stroke-width="0.35" stroke-opacity="0.22"/>
<line x1="123.28" y1="820.8" x2="123.28" y2="828.1" stroke="#fff" stroke-width="0.35" stroke-opacity="0.22"/>
<line x1="124.58" y1="820.8" x2="124.58" y2="828.1" stroke="#fff" stroke-width="0.35" stroke-opacity="0.22"/>
<line x1="125.24" y1="820.8" x2="125.24" y2="828.1" stroke="#fff" stroke-width="0.35" stroke-opacity="0.22"/>
<line x1="125.9" y1="820.8" x2="125.9" y2="828.1" stroke="#fff" stroke-width="0.35" stroke-opacity="0.22"/>
<line x1="126.56" y1="820.8" x2="126.56" y2="828.1" stroke="#fff" stroke-width="0.35" stroke-opacity="0.22"/>
<line x1="127.86" y1="820.8" x2="127.86" y2="828.1" stroke="#fff" stroke-width="0.35" stroke-opacity="0.22"/>
<line x1="129.16" y1="820.8" x2="129.16" y2="828.1" stroke="#fff" stroke-width="0.35" stroke-opacity="0.22"/>
<line x1="132.46" y1="820.8" x2="132.46" y2="828.1" stroke="#fff" stroke-width="0.35" stroke-opacity="0.22"/>
<line x1="135.76" y1="820.8" x2="135.76" y2="828.1" stroke="#fff" stroke-width="0.35" stroke-opacity="0.22"/>
<line x1="136.42" y1="820.8" x2="136.42" y2="828.1" stroke="#fff" stroke-width="0.35" stroke-opacity="0.22"/>
<line x1="139.02" y1="820.8" x2="139.02" y2="828.1" stroke="#fff" stroke-width="0.35" stroke-opacity="0.22"/>
<line x1="139.68" y1="820.8" x2="139.68" y2="828.1" stroke="#fff" stroke-width="0.35" stroke-opacity="0.22"/>
<line x1="140.98" y1="820.8" x2="140.98" y2="828.1" stroke="#fff" stroke-width="0.35" stroke-opacity="0.22"/>
<line x1="144.28" y1="820.8" x2="144.28" y2="828.1" stroke="#fff" stroke-width="0.35" stroke-opacity="0.22"/>
<line x1="144.94" y1="820.8" x2="144.94" y2="828.1" stroke="#fff" stroke-width="0.35" stroke-opacity="0.22"/>
<line x1="145.6" y1="820.8" x2="145.6" y2="828.1" stroke="#fff" stroke-width="0.35" stroke-opacity="0.22"/>
<line x1="146.9" y1="820.8" x2="146.9" y2="828.1" stroke="#fff" stroke-width="0.35" stroke-opacity="0.22"/>
<line x1="148.2" y1="820.8" x2="148.2" y2="828.1" stroke="#fff" stroke-width="0.35" stroke-opacity="0.22"/>
<line x1="149.5" y1="820.8" x2="149.5" y2="828.1" stroke="#fff" stroke-width="0.35" stroke-opacity="0.22"/>
<line x1="150.16" y1="820.8" x2="150.16" y2="828.1" stroke="#fff" stroke-width="0.35" stroke-opacity="0.22"/>
<line x1="153.46" y1="820.8" x2="153.46" y2="828.1" stroke="#fff" stroke-width="0.35" stroke-opacity="0.22"/>
<line x1="154.76" y1="820.8" x2="154.76" y2="828.1" stroke="#fff" stroke-width="0.35" stroke-opacity="0.22"/>
<line x1="156.06" y1="820.8" x2="156.06" y2="828.1" stroke="#fff" stroke-width="0.35" stroke-opacity="0.22"/>
<line x1="158.66" y1="820.8" x2="158.66" y2="828.1" stroke="#fff" stroke-width="0.35" stroke-opacity="0.22"/>
<rect x="30.5" y="809.8" width="137.1" height="20.5" fill="none" stroke="#4d4d4d" stroke-width="0.9"/>
<line x1="27.3" y1="815.3" x2="30.5" y2="815.3" stroke="#333" stroke-width="0.7"/>
<text x="25.9" y="818.07" font-size="7.8" text-anchor="end" stroke="#111">Pre</text>
<line x1="27.3" y1="824.6" x2="30.5" y2="824.6" stroke="#333" stroke-width="0.7"/>
<text x="25.9" y="827.37" font-size="7.8" text-anchor="end" stroke="#111">Post</text>
<rect x="167.6" y="809.8" width="15.1" height="20.5" fill="#d9d9d9" stroke="#4d4d4d" stroke-width="0.9"/>
<text x="175.1" y="822.14" font-size="5.9" text-anchor="middle" stroke="#111" transform="rotate(90 175.1 820.05)">IMC-39</text>
<line x1="167.6" y1="809.8" x2="167.6" y2="830.3" stroke="#222" stroke-width="1"/>
<line x1="36.3" y1="831" x2="36.3" y2="833" stroke="#333" stroke-width="0.6"/>
<text x="36.3" y="840.44" font-size="8" text-anchor="middle" stroke="#111">0</text>
<line x1="69.12" y1="831" x2="69.12" y2="833" stroke="#333" stroke-width="0.6"/>
<text x="69.12" y="840.44" font-size="8" text-anchor="middle" stroke="#111">50</text>
<line x1="101.95" y1="831" x2="101.95" y2="833" stroke="#333" stroke-width="0.6"/>
<text x="101.95" y="840.44" font-size="8" text-anchor="middle" stroke="#111">100</text>
<line x1="134.78" y1="831" x2="134.78" y2="833" stroke="#333" stroke-width="0.6"/>
<text x="134.78" y="840.44" font-size="8" text-anchor="middle" stroke="#111">150</text>
<line x1="167.6" y1="831" x2="167.6" y2="833" stroke="#333" stroke-width="0.6"/>
<text x="167.6" y="840.44" font-size="8" text-anchor="middle" stroke="#111">200</text>
<text x="101.8" y="851.64" font-size="8" text-anchor="middle" stroke="#111">Count</text>
<text x="217" y="594.93" font-size="10.5" fill="#000" stroke="#000" font-weight="bold">H</text>
<text x="315.4" y="604.14" font-size="8" text-anchor="middle" stroke="#111">Unique TCRs in transitionals in blood of RE</text>
<text x="277.1" y="616.34" font-size="8" text-anchor="middle" stroke="#111">Unique TCRs post</text>
<text x="354.8" y="616.44" font-size="8" text-anchor="middle" stroke="#111">Unique TCRs pre</text>
<rect x="250.5" y="619.5" width="53" height="100" fill="#fff" stroke="#9a9a9a" stroke-width="1"/>
<line x1="248.4" y1="707.1" x2="250.4" y2="707.1" stroke="#444" stroke-width="0.6"/>
<text x="247.4" y="709.94" font-size="8" text-anchor="end" stroke="#111">0.3</text>
<line x1="248.4" y1="683.2" x2="250.4" y2="683.2" stroke="#444" stroke-width="0.6"/>
<text x="247.4" y="686.04" font-size="8" text-anchor="end" stroke="#111">0.4</text>
<line x1="248.4" y1="659.3" x2="250.4" y2="659.3" stroke="#444" stroke-width="0.6"/>
<text x="247.4" y="662.14" font-size="8" text-anchor="end" stroke="#111">0.5</text>
<line x1="248.4" y1="635.4" x2="250.4" y2="635.4" stroke="#444" stroke-width="0.6"/>
<text x="247.4" y="638.24" font-size="8" text-anchor="end" stroke="#111">0.6</text>
<line x1="264.8" y1="665.27" x2="264.8" y2="672.92" stroke="#222" stroke-width="0.7"/>
<line x1="264.8" y1="696.35" x2="264.8" y2="702.32" stroke="#222" stroke-width="0.7"/>
<rect x="255.5" y="672.92" width="18.6" height="23.42" fill="#98d3a1" stroke="#2a2a2a" stroke-width="0.7"/>
<line x1="255.5" y1="685.83" x2="274.1" y2="685.83" stroke="#111" stroke-width="1.2"/>
<line x1="289.2" y1="654.52" x2="289.2" y2="658.11" stroke="#222" stroke-width="0.7"/>
<line x1="289.2" y1="679.62" x2="289.2" y2="684.39" stroke="#222" stroke-width="0.7"/>
<rect x="279.9" y="658.11" width="18.6" height="21.51" fill="#1f7a3e" stroke="#2a2a2a" stroke-width="0.7"/>
<line x1="279.9" y1="676.03" x2="298.5" y2="676.03" stroke="#111" stroke-width="1.2"/>
<line x1="264.8" y1="636.6" x2="289.2" y2="624.64" stroke="#111" stroke-width="0.75"/>
<circle cx="264.8" cy="636.6" r="1.25" fill="#111"/>
<circle cx="289.2" cy="624.64" r="1.25" fill="#111"/>
<line x1="264.8" y1="665.27" x2="289.2" y2="666.47" stroke="#111" stroke-width="0.75"/>
<circle cx="264.8" cy="665.27" r="1.25" fill="#111"/>
<circle cx="289.2" cy="666.47" r="1.25" fill="#111"/>
<line x1="264.8" y1="672.92" x2="289.2" y2="654.52" stroke="#111" stroke-width="0.75"/>
<circle cx="264.8" cy="672.92" r="1.25" fill="#111"/>
<circle cx="289.2" cy="654.52" r="1.25" fill="#111"/>
<line x1="264.8" y1="676.51" x2="289.2" y2="676.03" stroke="#111" stroke-width="0.75"/>
<circle cx="264.8" cy="676.51" r="1.25" fill="#111"/>
<circle cx="289.2" cy="676.03" r="1.25" fill="#111"/>
<line x1="264.8" y1="685.83" x2="289.2" y2="678.42" stroke="#111" stroke-width="0.75"/>
<circle cx="264.8" cy="685.83" r="1.25" fill="#111"/>
<circle cx="289.2" cy="678.42" r="1.25" fill="#111"/>
<line x1="264.8" y1="696.35" x2="289.2" y2="656.91" stroke="#111" stroke-width="0.75"/>
<circle cx="264.8" cy="696.35" r="1.25" fill="#111"/>
<circle cx="289.2" cy="656.91" r="1.25" fill="#111"/>
<line x1="264.8" y1="699.93" x2="289.2" y2="684.39" stroke="#111" stroke-width="0.75"/>
<circle cx="264.8" cy="699.93" r="1.25" fill="#111"/>
<circle cx="289.2" cy="684.39" r="1.25" fill="#111"/>
<line x1="264.8" y1="702.32" x2="289.2" y2="715.47" stroke="#111" stroke-width="0.75"/>
<circle cx="264.8" cy="702.32" r="1.25" fill="#111"/>
<circle cx="289.2" cy="715.47" r="1.25" fill="#111"/>
<text x="276.3" y="625.44" font-size="8" text-anchor="middle" stroke="#111">ns</text>
<line x1="264.8" y1="719.2" x2="264.8" y2="721.2" stroke="#444" stroke-width="0.6"/>
<text x="264.8" y="729.64" font-size="8" text-anchor="middle" stroke="#111">Pre</text>
<line x1="289.2" y1="719.2" x2="289.2" y2="721.2" stroke="#444" stroke-width="0.6"/>
<text x="289.2" y="729.64" font-size="8" text-anchor="middle" stroke="#111">Post</text>
<rect x="328.5" y="620.5" width="53" height="99" fill="#fff" stroke="#9a9a9a" stroke-width="1"/>
<line x1="326.1" y1="701.2" x2="328.1" y2="701.2" stroke="#444" stroke-width="0.6"/>
<text x="325.1" y="704.04" font-size="8" text-anchor="end" stroke="#111">0.2</text>
<line x1="326.1" y1="671.15" x2="328.1" y2="671.15" stroke="#444" stroke-width="0.6"/>
<text x="325.1" y="673.99" font-size="8" text-anchor="end" stroke="#111">0.4</text>
<line x1="326.1" y1="641.1" x2="328.1" y2="641.1" stroke="#444" stroke-width="0.6"/>
<text x="325.1" y="643.94" font-size="8" text-anchor="end" stroke="#111">0.6</text>
<line x1="342.5" y1="623.82" x2="342.5" y2="637.34" stroke="#222" stroke-width="0.7"/>
<line x1="342.5" y1="684.67" x2="342.5" y2="715.47" stroke="#222" stroke-width="0.7"/>
<rect x="333.2" y="637.34" width="18.6" height="47.33" fill="#98d3a1" stroke="#2a2a2a" stroke-width="0.7"/>
<line x1="333.2" y1="662.89" x2="351.8" y2="662.89" stroke="#111" stroke-width="1.2"/>
<line x1="367.2" y1="630.58" x2="367.2" y2="653.87" stroke="#222" stroke-width="0.7"/>
<line x1="367.2" y1="692.19" x2="367.2" y2="712.47" stroke="#222" stroke-width="0.7"/>
<rect x="357.9" y="653.87" width="18.6" height="38.31" fill="#1f7a3e" stroke="#2a2a2a" stroke-width="0.7"/>
<line x1="357.9" y1="672.65" x2="376.5" y2="672.65" stroke="#111" stroke-width="1.2"/>
<line x1="342.5" y1="623.82" x2="367.2" y2="630.58" stroke="#111" stroke-width="0.75"/>
<circle cx="342.5" cy="623.82" r="1.25" fill="#111"/>
<circle cx="367.2" cy="630.58" r="1.25" fill="#111"/>
<line x1="342.5" y1="635.09" x2="367.2" y2="653.87" stroke="#111" stroke-width="0.75"/>
<circle cx="342.5" cy="635.09" r="1.25" fill="#111"/>
<circle cx="367.2" cy="653.87" r="1.25" fill="#111"/>
<line x1="342.5" y1="637.34" x2="367.2" y2="643.35" stroke="#111" stroke-width="0.75"/>
<circle cx="342.5" cy="637.34" r="1.25" fill="#111"/>
<circle cx="367.2" cy="643.35" r="1.25" fill="#111"/>
<line x1="342.5" y1="638.85" x2="367.2" y2="653.87" stroke="#111" stroke-width="0.75"/>
<circle cx="342.5" cy="638.85" r="1.25" fill="#111"/>
<circle cx="367.2" cy="653.87" r="1.25" fill="#111"/>
<line x1="342.5" y1="662.89" x2="367.2" y2="674.91" stroke="#111" stroke-width="0.75"/>
<circle cx="342.5" cy="662.89" r="1.25" fill="#111"/>
<circle cx="367.2" cy="674.91" r="1.25" fill="#111"/>
<line x1="342.5" y1="680.92" x2="367.2" y2="671.15" stroke="#111" stroke-width="0.75"/>
<circle cx="342.5" cy="680.92" r="1.25" fill="#111"/>
<circle cx="367.2" cy="671.15" r="1.25" fill="#111"/>
<line x1="342.5" y1="684.67" x2="367.2" y2="702.7" stroke="#111" stroke-width="0.75"/>
<circle cx="342.5" cy="684.67" r="1.25" fill="#111"/>
<circle cx="367.2" cy="702.7" r="1.25" fill="#111"/>
<line x1="342.5" y1="698.2" x2="367.2" y2="692.19" stroke="#111" stroke-width="0.75"/>
<circle cx="342.5" cy="698.2" r="1.25" fill="#111"/>
<circle cx="367.2" cy="692.19" r="1.25" fill="#111"/>
<line x1="342.5" y1="715.47" x2="367.2" y2="712.47" stroke="#111" stroke-width="0.75"/>
<circle cx="342.5" cy="715.47" r="1.25" fill="#111"/>
<circle cx="367.2" cy="712.47" r="1.25" fill="#111"/>
<text x="357.3" y="625.84" font-size="8" text-anchor="middle" stroke="#111">ns</text>
<line x1="342.5" y1="719.4" x2="342.5" y2="721.4" stroke="#444" stroke-width="0.6"/>
<text x="342.5" y="729.64" font-size="8" text-anchor="middle" stroke="#111">Pre</text>
<line x1="367.2" y1="719.4" x2="367.2" y2="721.4" stroke="#444" stroke-width="0.6"/>
<text x="367.2" y="729.64" font-size="8" text-anchor="middle" stroke="#111">Post</text>
<text x="229.3" y="674.41" font-size="8.2" text-anchor="middle" stroke="#111" transform="rotate(-90 229.3 671.5)">Fraction TCRs in blood</text>
</svg>
</body></html>
